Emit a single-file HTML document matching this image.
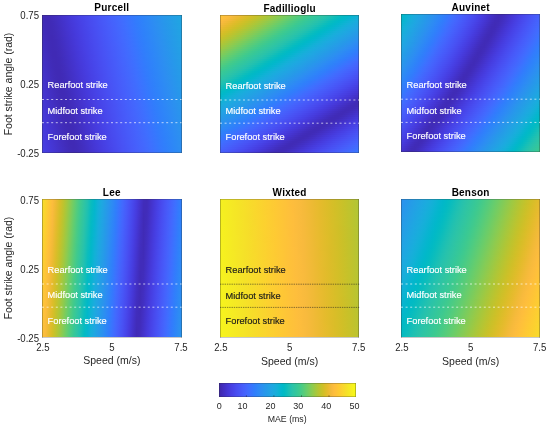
<!DOCTYPE html><html><head><meta charset="utf-8"><title>MAE heatmaps</title><style>
html,body{margin:0;padding:0;background:#fff;}
body{width:550px;height:428px;position:relative;overflow:hidden;font-family:"Liberation Sans",Arial,sans-serif;color:#262626;}
.p{position:absolute;overflow:hidden;}
.p i{display:block;width:100%;}
.b{position:absolute;box-shadow:inset 0 0 0 0.6px rgba(40,40,40,0.5);}
.t{position:absolute;font-weight:bold;font-size:10px;letter-spacing:0.22px;line-height:12px;color:#000;text-align:center;white-space:nowrap;}
.k{position:absolute;font-size:9.6px;line-height:10px;white-space:nowrap;color:#262626;transform:scaleY(1.05);}
.r{text-align:right;width:40px;}
.c{text-align:center;width:30px;}
.l{position:absolute;font-size:9.25px;line-height:10px;white-space:nowrap;color:#fff;-webkit-text-stroke:0.15px #fff;transform:scaleY(1.06);}
.lb{color:#1a1a1a;-webkit-text-stroke:0.15px #1a1a1a;}
.ax{position:absolute;font-size:10.5px;line-height:12px;white-space:nowrap;color:#262626;text-align:center;}
svg{position:absolute;left:0;top:0;}
</style></head><body>
<div class="p" style="left:42.0px;top:14.5px;width:139.5px;height:138.5px"><i style="margin-bottom:-0.5px;height:2.507px;background:linear-gradient(90deg,#402bb8,#402ab5,#402bb6,#412cba,#422ec0,#4331c6,#4433cc,#4536d3,#4539d9,#463cde,#473fe2,#4743e7,#4746ea,#484aed,#484df0,#4851f3,#4854f5,#4758f8,#475bf9,#465ffb,#4562fc,#4466fd,#426afe,#3f6efe,#3c71ff,#3875fe,#3479fd,#317dfc,#2f81fa,#2e84f8,#2d88f6,#2d8bf4,#2c8ef1,#2b92ef,#2995ec,#2798ea,#259be8,#249ee6,#23a1e4,#21a4e3,#1ea7e1)"></i><i style="margin-bottom:-0.5px;height:2.507px;background:linear-gradient(90deg,#402bb8,#402ab5,#402ab5,#412cb9,#422ebf,#4330c5,#4433cc,#4535d2,#4538d8,#463bdd,#473fe2,#4742e6,#4746ea,#4849ed,#484df0,#4850f3,#4854f5,#4757f7,#475bf9,#465efb,#4562fc,#4466fd,#4269fe,#406dfe,#3c71ff,#3975fe,#3579fd,#317dfc,#2f80fa,#2e84f9,#2e87f7,#2d8bf4,#2c8ef1,#2b91ef,#2994ed,#2798ea,#269be8,#249ee6,#23a0e5,#21a3e3,#1fa6e1)"></i><i style="margin-bottom:-0.5px;height:2.507px;background:linear-gradient(90deg,#412cb9,#402ab5,#402ab5,#412cb9,#422ebe,#4230c4,#4433cb,#4435d1,#4538d7,#463bdd,#473ee1,#4742e6,#4745e9,#4849ed,#484cf0,#4850f2,#4853f5,#4757f7,#475af9,#465efb,#4562fc,#4465fd,#4269fe,#406dfe,#3d70ff,#3974fe,#3578fd,#327cfc,#3080fa,#2e83f9,#2e87f7,#2d8af4,#2c8ef2,#2b91ef,#2994ed,#2797eb,#269ae8,#249de6,#23a0e5,#21a3e3,#1fa6e2)"></i><i style="margin-bottom:-0.5px;height:2.507px;background:linear-gradient(90deg,#412cb9,#402ab5,#402ab5,#402cb8,#412ebd,#4230c4,#4332ca,#4435d0,#4538d7,#463bdc,#463ee1,#4741e5,#4745e9,#4848ec,#484cef,#484ff2,#4853f5,#4757f7,#475af9,#465efb,#4561fc,#4465fd,#4368fe,#406cfe,#3d70ff,#3a74fe,#3678fd,#327cfc,#307ffb,#2e83f9,#2e86f7,#2d8af5,#2d8df2,#2b90ef,#2994ed,#2797eb,#269ae9,#259de7,#23a0e5,#21a3e3,#1fa6e2)"></i><i style="margin-bottom:-0.5px;height:2.507px;background:linear-gradient(90deg,#412cba,#402bb6,#402ab5,#402bb8,#412dbd,#4230c3,#4332c9,#4434d0,#4537d6,#463adb,#463de0,#4741e5,#4744e9,#4848ec,#484cef,#484ff2,#4853f4,#4756f7,#475af9,#465dfa,#4661fc,#4464fd,#4368fe,#416cfe,#3e70ff,#3a74fe,#3677fe,#327bfc,#307ffb,#2f83f9,#2e86f7,#2d89f5,#2d8df2,#2c90f0,#2a93ed,#2796eb,#2699e9,#259ce7,#239fe5,#21a2e4,#1fa5e2)"></i><i style="margin-bottom:-0.5px;height:2.507px;background:linear-gradient(90deg,#412cba,#402bb6,#402ab5,#402bb7,#412dbc,#422fc2,#4332c9,#4434cf,#4537d5,#463adb,#463de0,#4740e4,#4744e8,#4848ec,#484bef,#484ff2,#4852f4,#4756f6,#4759f8,#475dfa,#4660fc,#4564fd,#4368fd,#416bfe,#3e6fff,#3a73fe,#3777fe,#337bfc,#307ffb,#2f82f9,#2e86f8,#2d89f5,#2d8cf3,#2c90f0,#2a93ee,#2896eb,#2699e9,#259ce7,#249fe5,#22a2e4,#20a5e2)"></i><i style="margin-bottom:-0.5px;height:2.507px;background:linear-gradient(90deg,#412dbb,#402bb6,#402ab5,#402bb7,#412dbb,#422fc1,#4331c8,#4434ce,#4536d5,#4639da,#463ddf,#4740e4,#4744e8,#4747eb,#484bee,#484ef1,#4852f4,#4755f6,#4759f8,#475cfa,#4660fb,#4563fd,#4367fd,#416bfe,#3f6fff,#3b73fe,#3777fe,#337afd,#317efb,#2f82fa,#2e85f8,#2d89f6,#2d8cf3,#2c8ff0,#2a93ee,#2896ec,#2699e9,#259ce7,#249fe6,#22a2e4,#20a5e3)"></i><i style="margin-bottom:-0.5px;height:2.507px;background:linear-gradient(90deg,#412dbc,#402bb7,#402ab5,#402bb6,#412dbb,#422fc1,#4331c7,#4434ce,#4536d4,#4639da,#463cdf,#4740e3,#4743e7,#4747eb,#484aee,#484ef1,#4851f4,#4755f6,#4758f8,#475cfa,#465ffb,#4563fd,#4367fd,#416afe,#3f6eff,#3b72ff,#3876fe,#347afd,#317efb,#2f81fa,#2e85f8,#2d88f6,#2d8cf3,#2c8ff1,#2a92ee,#2895ec,#2698ea,#259be7,#249ee6,#22a1e4,#20a4e3)"></i><i style="margin-bottom:-0.5px;height:2.507px;background:linear-gradient(90deg,#412dbc,#402bb7,#402ab5,#402bb6,#412cba,#422fc0,#4331c6,#4433cd,#4536d3,#4539d9,#463cde,#473fe3,#4743e7,#4746ea,#484aee,#484df1,#4851f3,#4854f6,#4758f8,#475bfa,#465ffb,#4563fc,#4466fd,#426afe,#3f6efe,#3c72ff,#3876fe,#347afd,#317dfc,#2f81fa,#2e84f8,#2d88f6,#2d8bf4,#2c8ff1,#2b92ee,#2895ec,#2798ea,#259be8,#249ee6,#22a1e4,#20a4e3)"></i><i style="margin-bottom:-0.5px;height:2.507px;background:linear-gradient(90deg,#412dbd,#402bb8,#402ab5,#402bb6,#412cba,#422ebf,#4331c6,#4433cc,#4536d2,#4538d8,#463bde,#473fe2,#4742e6,#4746ea,#4849ed,#484df0,#4851f3,#4854f5,#4758f8,#475bf9,#465ffb,#4562fc,#4466fd,#426afe,#3f6dfe,#3c71ff,#3875fe,#3579fd,#317dfc,#2f81fa,#2e84f8,#2d87f6,#2d8bf4,#2c8ef1,#2b91ef,#2995ec,#2798ea,#259be8,#249ee6,#23a1e4,#21a4e3)"></i><i style="margin-bottom:-0.5px;height:2.507px;background:linear-gradient(90deg,#412ebe,#412cb8,#402ab5,#402ab5,#412cb9,#422ebf,#4330c5,#4433cb,#4435d2,#4538d8,#463bdd,#473ee2,#4742e6,#4745ea,#4849ed,#484df0,#4850f3,#4854f5,#4757f7,#475bf9,#465efb,#4562fc,#4465fd,#4269fe,#406dfe,#3d71ff,#3975fe,#3579fd,#327cfc,#2f80fa,#2e84f9,#2e87f7,#2d8af4,#2c8ef2,#2b91ef,#2994ed,#2797ea,#269ae8,#249de6,#23a0e5,#21a3e3)"></i><i style="margin-bottom:-0.5px;height:2.507px;background:linear-gradient(90deg,#422ebe,#412cb9,#402ab5,#402ab5,#412cb9,#412ebe,#4230c4,#4332cb,#4435d1,#4538d7,#463bdc,#473ee1,#4742e6,#4745e9,#4849ed,#484cf0,#4850f2,#4853f5,#4757f7,#475af9,#465efb,#4561fc,#4465fd,#4369fe,#406dfe,#3d70ff,#3974fe,#3578fd,#327cfc,#3080fb,#2e83f9,#2e87f7,#2d8af4,#2d8df2,#2b91ef,#2994ed,#2797eb,#269ae8,#249de7,#23a0e5,#21a3e3)"></i><i style="margin-bottom:-0.5px;height:2.507px;background:linear-gradient(90deg,#422ebf,#412cb9,#402ab5,#402ab5,#402bb8,#412dbd,#4230c3,#4332ca,#4435d0,#4537d6,#463adc,#463ee1,#4741e5,#4745e9,#4848ec,#484cef,#484ff2,#4853f5,#4756f7,#475af9,#465dfb,#4561fc,#4465fd,#4368fe,#406cfe,#3e70ff,#3a74fe,#3678fe,#327cfc,#307ffb,#2e83f9,#2e86f7,#2d8af5,#2d8df2,#2b90f0,#2993ed,#2797eb,#269ae9,#259de7,#23a0e5,#21a3e4)"></i><i style="margin-bottom:-0.5px;height:2.507px;background:linear-gradient(90deg,#422ec0,#412cba,#402bb6,#402ab5,#402bb7,#412dbd,#422fc3,#4332c9,#4434cf,#4537d6,#463adb,#463de0,#4741e5,#4744e8,#4848ec,#484bef,#484ff2,#4852f4,#4756f7,#4759f9,#465dfa,#4661fc,#4464fd,#4368fe,#416cfe,#3e6fff,#3a73fe,#3677fe,#327bfc,#307ffb,#2f82f9,#2e86f7,#2d89f5,#2d8df2,#2c90f0,#2a93ed,#2796eb,#2699e9,#259ce7,#239fe5,#22a2e4)"></i><i style="margin-bottom:-0.5px;height:2.507px;background:linear-gradient(90deg,#422fc0,#412cbb,#402bb6,#402ab5,#402bb7,#412dbc,#422fc2,#4332c8,#4434cf,#4537d5,#463adb,#463de0,#4740e4,#4744e8,#4747ec,#484bef,#484ef1,#4852f4,#4756f6,#4759f8,#475dfa,#4660fc,#4564fd,#4367fd,#416bfe,#3e6fff,#3b73fe,#3777fe,#337bfd,#307efb,#2f82fa,#2e85f8,#2d89f5,#2d8cf3,#2c90f0,#2a93ee,#2896eb,#2699e9,#259ce7,#249fe5,#22a2e4)"></i><i style="margin-bottom:-0.5px;height:2.507px;background:linear-gradient(90deg,#422fc1,#412dbb,#402bb7,#402ab5,#402bb7,#412dbb,#422fc1,#4331c8,#4434ce,#4536d4,#4639da,#463ddf,#4740e4,#4743e8,#4747eb,#484bee,#484ef1,#4852f4,#4755f6,#4759f8,#475cfa,#4660fb,#4563fd,#4367fd,#416bfe,#3f6fff,#3b72fe,#3776fe,#337afd,#317efb,#2f82fa,#2e85f8,#2d88f6,#2d8cf3,#2c8ff0,#2a92ee,#2896ec,#2699e9,#259ce7,#249fe6,#22a2e4)"></i><i style="margin-bottom:-0.5px;height:2.507px;background:linear-gradient(90deg,#422fc2,#412dbc,#402bb7,#402ab5,#402bb6,#412cbb,#422fc0,#4331c7,#4433cd,#4536d4,#4639d9,#463cdf,#4740e3,#4743e7,#4747eb,#484aee,#484ef1,#4851f3,#4755f6,#4758f8,#475cfa,#465ffb,#4563fc,#4367fd,#426afe,#3f6eff,#3c72ff,#3876fe,#347afd,#317efb,#2f81fa,#2e85f8,#2d88f6,#2d8bf3,#2c8ff1,#2b92ee,#2895ec,#2798ea,#259be8,#249ee6,#22a1e4)"></i><i style="margin-bottom:-0.5px;height:2.507px;background:linear-gradient(90deg,#422fc3,#412dbd,#402bb7,#402ab5,#402bb6,#412cba,#422ec0,#4331c6,#4433cd,#4536d3,#4539d9,#463cde,#473fe3,#4743e7,#4746ea,#484aee,#484df1,#4851f3,#4854f6,#4758f8,#475bfa,#465ffb,#4562fc,#4466fd,#426afe,#3f6efe,#3c72ff,#3875fe,#3479fd,#317dfc,#2f81fa,#2e84f8,#2d88f6,#2d8bf4,#2c8ef1,#2b92ef,#2995ec,#2798ea,#259be8,#249ee6,#23a1e4)"></i><i style="margin-bottom:-0.5px;height:2.507px;background:linear-gradient(90deg,#4230c3,#412dbd,#402bb8,#402ab5,#402ab5,#412cb9,#422ebf,#4330c5,#4433cc,#4535d2,#4538d8,#463bdd,#473fe2,#4742e6,#4746ea,#4849ed,#484df0,#4850f3,#4854f5,#4757f7,#475bf9,#465efb,#4562fc,#4466fd,#4269fe,#406dfe,#3c71ff,#3975fe,#3579fd,#317dfc,#2f80fa,#2e84f9,#2d87f7,#2d8bf4,#2c8ef1,#2b91ef,#2994ed,#2798ea,#269be8,#249ee6,#23a1e5)"></i><i style="margin-bottom:-0.5px;height:2.507px;background:linear-gradient(90deg,#4230c4,#412ebe,#412cb8,#402ab5,#402ab5,#412cb9,#422ebe,#4330c5,#4433cb,#4435d1,#4538d7,#463bdd,#473ee1,#4742e6,#4745e9,#4849ed,#484cf0,#4850f3,#4854f5,#4757f7,#475bf9,#465efb,#4562fc,#4465fd,#4269fe,#406dfe,#3d71ff,#3975fe,#3578fd,#327cfc,#3080fa,#2e83f9,#2e87f7,#2d8af4,#2c8ef2,#2b91ef,#2994ed,#2797eb,#269ae8,#249de6,#23a0e5)"></i><i style="margin-bottom:-0.5px;height:2.507px;background:linear-gradient(90deg,#4330c5,#422ebf,#412cb9,#402ab5,#402ab5,#412cb8,#412ebe,#4230c4,#4332ca,#4435d1,#4538d7,#463bdc,#463ee1,#4741e5,#4745e9,#4848ec,#484cf0,#4850f2,#4853f5,#4757f7,#475af9,#465efb,#4561fc,#4465fd,#4369fe,#406cfe,#3d70ff,#3a74fe,#3678fd,#327cfc,#3080fb,#2e83f9,#2e87f7,#2d8af5,#2d8df2,#2b91ef,#2994ed,#2797eb,#269ae9,#259de7,#23a0e5)"></i><i style="margin-bottom:-0.5px;height:2.507px;background:linear-gradient(90deg,#4331c6,#422ebf,#412cba,#402ab6,#402ab5,#402bb8,#412dbd,#4230c3,#4332ca,#4435d0,#4537d6,#463adc,#463ee0,#4741e5,#4745e9,#4848ec,#484cef,#484ff2,#4853f5,#4756f7,#475af9,#465dfa,#4561fc,#4464fd,#4368fe,#406cfe,#3e70ff,#3a74fe,#3678fe,#327bfc,#307ffb,#2e83f9,#2e86f7,#2d89f5,#2d8df2,#2c90f0,#2a93ed,#2797eb,#269ae9,#259de7,#23a0e5)"></i><i style="margin-bottom:-0.5px;height:2.507px;background:linear-gradient(90deg,#4331c6,#422fc0,#412cba,#402bb6,#402ab5,#402bb7,#412dbc,#422fc2,#4332c9,#4434cf,#4537d6,#463adb,#463de0,#4741e4,#4744e8,#4848ec,#484bef,#484ff2,#4852f4,#4756f6,#4759f8,#465dfa,#4660fc,#4464fd,#4368fd,#416bfe,#3e6fff,#3a73fe,#3777fe,#337bfc,#307ffb,#2f82f9,#2e86f8,#2d89f5,#2d8cf3,#2c90f0,#2a93ee,#2896eb,#2699e9,#259ce7,#249fe5)"></i><i style="margin-bottom:-0.5px;height:2.507px;background:linear-gradient(90deg,#4331c7,#422fc1,#412dbb,#402bb6,#402ab5,#402bb7,#412dbc,#422fc2,#4331c8,#4434ce,#4537d5,#463ada,#463ddf,#4740e4,#4744e8,#4747eb,#484bee,#484ef1,#4852f4,#4755f6,#4759f8,#475cfa,#4660fb,#4564fd,#4367fd,#416bfe,#3e6fff,#3b73fe,#3777fe,#337bfd,#317efb,#2f82fa,#2e85f8,#2d89f5,#2d8cf3,#2c8ff0,#2a93ee,#2896ec,#2699e9,#259ce7,#249fe5)"></i><i style="margin-bottom:-0.5px;height:2.507px;background:linear-gradient(90deg,#4331c8,#422fc1,#412dbb,#402bb7,#402ab5,#402bb6,#412dbb,#422fc1,#4331c7,#4434ce,#4536d4,#4639da,#463cdf,#4740e3,#4743e7,#4747eb,#484aee,#484ef1,#4851f4,#4755f6,#4758f8,#475cfa,#4660fb,#4563fd,#4367fd,#416bfe,#3f6eff,#3b72ff,#3776fe,#347afd,#317efb,#2f81fa,#2e85f8,#2d88f6,#2d8cf3,#2c8ff1,#2a92ee,#2895ec,#2699ea,#259ce7,#249fe6)"></i><i style="margin-bottom:-0.5px;height:2.507px;background:linear-gradient(90deg,#4332c9,#422fc2,#412dbc,#402bb7,#402ab5,#402bb6,#412cba,#422fc0,#4331c7,#4433cd,#4536d3,#4539d9,#463cde,#473fe3,#4743e7,#4746eb,#484aee,#484ef1,#4851f3,#4755f6,#4758f8,#475cfa,#465ffb,#4563fc,#4366fd,#426afe,#3f6eff,#3c72ff,#3876fe,#347afd,#317dfb,#2f81fa,#2e85f8,#2d88f6,#2d8bf3,#2c8ff1,#2b92ee,#2895ec,#2798ea,#259be8,#249ee6)"></i><i style="margin-bottom:-0.5px;height:2.507px;background:linear-gradient(90deg,#4332c9,#4230c3,#412dbd,#402bb8,#402ab5,#402bb6,#412cba,#422ebf,#4331c6,#4433cc,#4536d3,#4539d8,#463cde,#473fe2,#4742e7,#4746ea,#484aed,#484df0,#4851f3,#4854f5,#4758f8,#475bf9,#465ffb,#4562fc,#4466fd,#426afe,#3f6dfe,#3c71ff,#3875fe,#3479fd,#317dfc,#2f81fa,#2e84f8,#2d88f6,#2d8bf4,#2c8ef1,#2b91ef,#2995ec,#2798ea,#259be8,#249ee6)"></i><i style="margin-bottom:-0.5px;height:2.507px;background:linear-gradient(90deg,#4332ca,#4230c4,#412ebd,#402cb8,#402ab5,#402ab5,#412cb9,#422ebf,#4330c5,#4433cc,#4535d2,#4538d8,#463bdd,#473fe2,#4742e6,#4746ea,#4849ed,#484df0,#4850f3,#4854f5,#4757f7,#475bf9,#465efb,#4562fc,#4466fd,#4269fe,#406dfe,#3d71ff,#3975fe,#3579fd,#327dfc,#2f80fa,#2e84f9,#2e87f7,#2d8bf4,#2c8ef1,#2b91ef,#2994ed,#2797ea,#269ae8,#249de6)"></i><i style="margin-bottom:-0.5px;height:2.507px;background:linear-gradient(90deg,#4432cb,#4230c4,#412ebe,#412cb9,#402ab5,#402ab5,#412cb9,#412ebe,#4230c4,#4432cb,#4435d1,#4538d7,#463bdd,#473ee1,#4742e6,#4745e9,#4849ed,#484cf0,#4850f2,#4853f5,#4757f7,#475af9,#465efb,#4562fc,#4465fd,#4269fe,#406dfe,#3d70ff,#3974fe,#3578fd,#327cfc,#3080fb,#2e83f9,#2e87f7,#2d8af4,#2d8df2,#2b91ef,#2994ed,#2797eb,#269ae8,#249de6)"></i><i style="margin-bottom:-0.5px;height:2.507px;background:linear-gradient(90deg,#4433cc,#4330c5,#422ebf,#412cb9,#402ab5,#402ab5,#402bb8,#412ebd,#4230c4,#4332ca,#4435d0,#4537d7,#463bdc,#463ee1,#4741e5,#4745e9,#4848ec,#484cef,#484ff2,#4853f5,#4756f7,#475af9,#465dfb,#4561fc,#4465fd,#4368fe,#406cfe,#3d70ff,#3a74fe,#3678fe,#327cfc,#307ffb,#2e83f9,#2e86f7,#2d8af5,#2d8df2,#2b90ef,#2994ed,#2797eb,#269ae9,#259de7)"></i><i style="margin-bottom:-0.5px;height:2.507px;background:linear-gradient(90deg,#4433cc,#4331c6,#422ebf,#412cba,#402bb6,#402ab5,#402bb8,#412dbd,#4230c3,#4332c9,#4434d0,#4537d6,#463adb,#463de0,#4741e5,#4744e8,#4848ec,#484bef,#484ff2,#4853f4,#4756f7,#475af9,#465dfa,#4661fc,#4464fd,#4368fe,#416cfe,#3e70ff,#3a73fe,#3677fe,#327bfc,#307ffb,#2f83f9,#2e86f7,#2d89f5,#2d8df2,#2c90f0,#2a93ed,#2796eb,#2699e9,#259ce7)"></i><i style="margin-bottom:-0.5px;height:2.507px;background:linear-gradient(90deg,#4433cd,#4331c7,#422fc0,#412cba,#402bb6,#402ab5,#402bb7,#412dbc,#422fc2,#4332c9,#4434cf,#4537d5,#463adb,#463de0,#4740e4,#4744e8,#4847ec,#484bef,#484ff2,#4852f4,#4756f6,#4759f8,#475dfa,#4660fc,#4564fd,#4368fd,#416bfe,#3e6fff,#3b73fe,#3777fe,#337bfd,#307ffb,#2f82f9,#2e86f8,#2d89f5,#2d8cf3,#2c90f0,#2a93ee,#2896eb,#2699e9,#259ce7)"></i><i style="margin-bottom:-0.5px;height:2.507px;background:linear-gradient(90deg,#4434ce,#4331c7,#422fc1,#412dbb,#402bb6,#402ab5,#402bb7,#412dbb,#422fc1,#4331c8,#4434ce,#4536d5,#4639da,#463ddf,#4740e4,#4744e8,#4747eb,#484bee,#484ef1,#4852f4,#4755f6,#4759f8,#475cfa,#4660fb,#4563fd,#4367fd,#416bfe,#3f6fff,#3b73fe,#3776fe,#337afd,#317efb,#2f82fa,#2e85f8,#2d89f6,#2d8cf3,#2c8ff0,#2a92ee,#2896ec,#2699e9,#259ce7)"></i><i style="margin-bottom:-0.5px;height:2.507px;background:linear-gradient(90deg,#4434cf,#4331c8,#422fc2,#412dbc,#402bb7,#402ab5,#402bb6,#412dbb,#422fc1,#4331c7,#4434cd,#4536d4,#4639d9,#463cdf,#4740e3,#4743e7,#4747eb,#484aee,#484ef1,#4851f4,#4755f6,#4758f8,#475cfa,#465ffb,#4563fd,#4367fd,#416afe,#3f6eff,#3b72ff,#3876fe,#347afd,#317efb,#2f81fa,#2e85f8,#2d88f6,#2d8cf3,#2c8ff1,#2b92ee,#2895ec,#2698ea,#259be7)"></i><i style="margin-bottom:-0.5px;height:2.507px;background:linear-gradient(90deg,#4434cf,#4332c9,#422fc2,#412dbc,#402bb7,#402ab5,#402bb6,#412cba,#422ec0,#4331c6,#4433cd,#4536d3,#4539d9,#463cde,#473fe3,#4743e7,#4746ea,#484aee,#484df1,#4851f3,#4854f6,#4758f8,#475bfa,#465ffb,#4563fc,#4466fd,#426afe,#3f6efe,#3c72ff,#3876fe,#3479fd,#317dfc,#2f81fa,#2e84f8,#2d88f6,#2d8bf4,#2c8ef1,#2b92ee,#2895ec,#2798ea,#259be8)"></i><i style="margin-bottom:-0.5px;height:2.507px;background:linear-gradient(90deg,#4435d0,#4332ca,#4230c3,#412dbd,#402bb8,#402ab5,#402ab6,#412cba,#422ebf,#4331c5,#4433cc,#4536d2,#4538d8,#463bde,#473fe2,#4742e6,#4746ea,#4849ed,#484df0,#4851f3,#4854f5,#4758f8,#475bf9,#465ffb,#4562fc,#4466fd,#426afe,#3f6dfe,#3c71ff,#3975fe,#3579fd,#317dfc,#2f80fa,#2e84f8,#2d87f6,#2d8bf4,#2c8ef1,#2b91ef,#2995ec,#2798ea,#259be8)"></i><i style="margin-bottom:-0.5px;height:2.507px;background:linear-gradient(90deg,#4435d1,#4332ca,#4230c4,#412ebe,#412cb8,#402ab5,#402ab5,#412cb9,#422ebe,#4330c5,#4433cb,#4435d2,#4538d8,#463bdd,#473ee2,#4742e6,#4745ea,#4849ed,#484df0,#4850f3,#4854f5,#4757f7,#475bf9,#465efb,#4562fc,#4465fd,#4269fe,#406dfe,#3d71ff,#3975fe,#3579fd,#327cfc,#3080fa,#2e84f9,#2e87f7,#2d8af4,#2c8ef2,#2b91ef,#2994ed,#2797ea,#269ae8)"></i><i style="margin-bottom:-0.5px;height:2.507px;background:linear-gradient(90deg,#4435d1,#4433cb,#4330c5,#422ebe,#412cb9,#402ab5,#402ab5,#412cb8,#412ebe,#4230c4,#4332cb,#4435d1,#4538d7,#463bdc,#463ee1,#4741e6,#4745e9,#4849ed,#484cf0,#4850f2,#4853f5,#4757f7,#475af9,#465efb,#4561fc,#4465fd,#4369fe,#406cfe,#3d70ff,#3974fe,#3678fd,#327cfc,#3080fb,#2e83f9,#2e87f7,#2d8af4,#2d8df2,#2b91ef,#2994ed,#2797eb,#269ae8)"></i><i style="margin-bottom:-0.5px;height:2.507px;background:linear-gradient(90deg,#4535d2,#4433cc,#4330c5,#422ebf,#412cb9,#402ab5,#402ab5,#402bb8,#412dbd,#4230c3,#4332ca,#4435d0,#4537d6,#463adc,#463ee1,#4741e5,#4745e9,#4848ec,#484cef,#484ff2,#4853f5,#4756f7,#475af9,#465dfb,#4561fc,#4465fd,#4368fe,#406cfe,#3e70ff,#3a74fe,#3678fe,#327cfc,#307ffb,#2e83f9,#2e86f7,#2d8af5,#2d8df2,#2b90f0,#2a93ed,#2797eb,#269ae9)"></i><i style="margin-bottom:-0.5px;height:2.507px;background:linear-gradient(90deg,#4536d3,#4433cd,#4331c6,#422ec0,#412cba,#402bb6,#402ab5,#402bb7,#412dbc,#422fc3,#4332c9,#4434cf,#4537d6,#463adb,#463de0,#4741e5,#4744e8,#4848ec,#484bef,#484ff2,#4852f4,#4756f7,#4759f9,#465dfa,#4661fc,#4464fd,#4368fe,#416cfe,#3e6fff,#3a73fe,#3677fe,#337bfc,#307ffb,#2f82f9,#2e86f7,#2d89f5,#2d8df2,#2c90f0,#2a93ed,#2796eb,#2699e9)"></i><i style="margin-bottom:-0.5px;height:2.507px;background:linear-gradient(90deg,#4536d4,#4433cd,#4331c7,#422fc0,#412cbb,#402bb6,#402ab5,#402bb7,#412dbc,#422fc2,#4332c8,#4434cf,#4537d5,#463ada,#463de0,#4740e4,#4744e8,#4747eb,#484bef,#484ef1,#4852f4,#4755f6,#4759f8,#475dfa,#4660fc,#4564fd,#4367fd,#416bfe,#3e6fff,#3b73fe,#3777fe,#337bfd,#307efb,#2f82fa,#2e85f8,#2d89f5,#2d8cf3,#2c8ff0,#2a93ee,#2896eb,#2699e9)"></i><i style="margin-bottom:-0.5px;height:2.507px;background:linear-gradient(90deg,#4536d4,#4434ce,#4331c8,#422fc1,#412dbb,#402bb7,#402ab5,#402bb6,#412dbb,#422fc1,#4331c7,#4434ce,#4536d4,#4639da,#463cdf,#4740e3,#4743e7,#4747eb,#484aee,#484ef1,#4852f4,#4755f6,#4759f8,#475cfa,#4660fb,#4563fd,#4367fd,#416bfe,#3f6eff,#3b72fe,#3776fe,#337afd,#317efb,#2f82fa,#2e85f8,#2d88f6,#2d8cf3,#2c8ff1,#2a92ee,#2896ec,#2699ea)"></i><i style="margin-bottom:-0.5px;height:2.507px;background:linear-gradient(90deg,#4537d5,#4434cf,#4332c8,#422fc2,#412dbc,#402bb7,#402ab5,#402bb6,#412cbb,#422fc0,#4331c7,#4433cd,#4536d4,#4639d9,#463cdf,#473fe3,#4743e7,#4747eb,#484aee,#484ef1,#4851f3,#4755f6,#4758f8,#475cfa,#465ffb,#4563fc,#4367fd,#426afe,#3f6eff,#3c72ff,#3876fe,#347afd,#317efb,#2f81fa,#2e85f8,#2d88f6,#2d8bf3,#2c8ff1,#2b92ee,#2895ec,#2798ea)"></i><i style="margin-bottom:-0.5px;height:2.507px;background:linear-gradient(90deg,#4537d6,#4434d0,#4332c9,#422fc3,#412dbd,#402bb8,#402ab5,#402bb6,#412cba,#422ec0,#4331c6,#4433cc,#4536d3,#4539d9,#463cde,#473fe2,#4743e7,#4746ea,#484aed,#484df0,#4851f3,#4854f6,#4758f8,#475bfa,#465ffb,#4562fc,#4466fd,#426afe,#3f6efe,#3c71ff,#3875fe,#3479fd,#317dfc,#2f81fa,#2e84f8,#2d88f6,#2d8bf4,#2c8ef1,#2b92ef,#2995ec,#2798ea)"></i><i style="margin-bottom:-0.5px;height:2.507px;background:linear-gradient(90deg,#4537d6,#4435d0,#4332ca,#4230c3,#412dbd,#402bb8,#402ab5,#402ab5,#412cb9,#422ebf,#4330c5,#4433cc,#4535d2,#4538d8,#463bdd,#473fe2,#4742e6,#4746ea,#4849ed,#484df0,#4850f3,#4854f5,#4757f7,#475bf9,#465efb,#4562fc,#4466fd,#4269fe,#406dfe,#3c71ff,#3975fe,#3579fd,#317dfc,#2f80fa,#2e84f9,#2e87f7,#2d8bf4,#2c8ef1,#2b91ef,#2994ed,#2798ea)"></i><i style="margin-bottom:-0.5px;height:2.507px;background:linear-gradient(90deg,#4538d7,#4435d1,#4332cb,#4230c4,#412ebe,#412cb9,#402ab5,#402ab5,#412cb9,#422ebe,#4330c4,#4433cb,#4435d1,#4538d7,#463bdd,#473ee1,#4742e6,#4745e9,#4849ed,#484cf0,#4850f2,#4853f5,#4757f7,#475af9,#465efb,#4562fc,#4465fd,#4269fe,#406dfe,#3d71ff,#3974fe,#3578fd,#327cfc,#3080fa,#2e83f9,#2e87f7,#2d8af4,#2c8ef2,#2b91ef,#2994ed,#2797eb)"></i><i style="margin-bottom:-0.5px;height:2.507px;background:linear-gradient(90deg,#4538d8,#4435d2,#4433cb,#4330c5,#422ebf,#412cb9,#402ab5,#402ab5,#402cb8,#412ebe,#4230c4,#4332ca,#4435d1,#4538d7,#463bdc,#463ee1,#4741e5,#4745e9,#4848ec,#484cef,#4850f2,#4853f5,#4757f7,#475af9,#465efb,#4561fc,#4465fd,#4369fe,#406cfe,#3d70ff,#3a74fe,#3678fd,#327cfc,#307ffb,#2e83f9,#2e86f7,#2d8af5,#2d8df2,#2b90ef,#2994ed,#2797eb)"></i><i style="margin-bottom:-0.5px;height:2.507px;background:linear-gradient(90deg,#4538d8,#4536d2,#4433cc,#4331c6,#422ebf,#412cba,#402bb6,#402ab5,#402bb8,#412dbd,#4230c3,#4332c9,#4435d0,#4537d6,#463adb,#463de0,#4741e5,#4744e9,#4848ec,#484cef,#484ff2,#4853f4,#4756f7,#475af9,#465dfa,#4561fc,#4464fd,#4368fe,#406cfe,#3e70ff,#3a74fe,#3677fe,#327bfc,#307ffb,#2e83f9,#2e86f7,#2d89f5,#2d8df2,#2c90f0,#2a93ed,#2796eb)"></i><i style="margin-bottom:-0.5px;height:2.507px;background:linear-gradient(90deg,#4539d9,#4536d3,#4433cd,#4331c6,#422fc0,#412cba,#402bb6,#402ab5,#402bb7,#412dbc,#422fc2,#4332c9,#4434cf,#4537d5,#463adb,#463de0,#4741e4,#4744e8,#4848ec,#484bef,#484ff2,#4852f4,#4756f6,#4759f8,#465dfa,#4660fc,#4564fd,#4368fd,#416bfe,#3e6fff,#3a73fe,#3777fe,#337bfc,#307ffb,#2f82f9,#2e86f8,#2d89f5,#2d8cf3,#2c90f0,#2a93ee,#2896eb)"></i><i style="margin-bottom:-0.5px;height:2.507px;background:linear-gradient(90deg,#4639da,#4536d4,#4434ce,#4331c7,#422fc1,#412dbb,#402bb6,#402ab5,#402bb7,#412dbc,#422fc2,#4331c8,#4434ce,#4537d5,#463ada,#463ddf,#4740e4,#4744e8,#4747eb,#484bee,#484ef1,#4852f4,#4755f6,#4759f8,#475cfa,#4660fb,#4564fd,#4367fd,#416bfe,#3e6fff,#3b73fe,#3777fe,#337afd,#317efb,#2f82fa,#2e85f8,#2d89f6,#2d8cf3,#2c8ff0,#2a93ee,#2896ec)"></i><i style="margin-bottom:-0.5px;height:2.507px;background:linear-gradient(90deg,#463ada,#4537d5,#4434ce,#4331c8,#422fc1,#412dbc,#402bb7,#402ab5,#402bb6,#412dbb,#422fc1,#4331c7,#4434ce,#4536d4,#4639da,#463cdf,#4740e3,#4743e7,#4747eb,#484aee,#484ef1,#4851f4,#4755f6,#4758f8,#475cfa,#4660fb,#4563fd,#4367fd,#416bfe,#3f6eff,#3b72ff,#3876fe,#347afd,#317efb,#2f81fa,#2e85f8,#2d88f6,#2d8cf3,#2c8ff1,#2a92ee,#2895ec)"></i><i style="margin-bottom:-0.5px;height:2.507px;background:linear-gradient(90deg,#463adb,#4537d5,#4434cf,#4332c9,#422fc2,#412dbc,#402bb7,#402ab5,#402bb6,#412cba,#422fc0,#4331c6,#4433cd,#4536d3,#4539d9,#463cde,#473fe3,#4743e7,#4746eb,#484aee,#484df1,#4851f3,#4855f6,#4758f8,#475cfa,#465ffb,#4563fc,#4466fd,#426afe,#3f6eff,#3c72ff,#3876fe,#347afd,#317dfc,#2f81fa,#2e84f8,#2d88f6,#2d8bf4,#2c8ff1,#2b92ee,#2895ec)"></i><i style="margin-bottom:-0.5px;height:2.507px;background:linear-gradient(90deg,#463adb,#4537d6,#4435d0,#4332c9,#4230c3,#412dbd,#402bb8,#402ab5,#402bb6,#412cba,#422ebf,#4331c6,#4433cc,#4536d3,#4538d8,#463cde,#473fe2,#4742e6,#4746ea,#4849ed,#484df0,#4851f3,#4854f5,#4758f8,#475bf9,#465ffb,#4562fc,#4466fd,#426afe,#3f6dfe,#3c71ff,#3875fe,#3579fd,#317dfc,#2f81fa,#2e84f8,#2d87f6,#2d8bf4,#2c8ef1,#2b91ef,#2995ec)"></i><i style="margin-bottom:-0.5px;height:2.507px;background:linear-gradient(90deg,#463bdc,#4538d7,#4435d1,#4332ca,#4230c4,#412ebe,#402cb8,#402ab5,#402ab5,#412cb9,#422ebf,#4330c5,#4433cb,#4535d2,#4538d8,#463bdd,#473fe2,#4742e6,#4746ea,#4849ed,#484df0,#4850f3,#4854f5,#4757f7,#475bf9,#465efb,#4562fc,#4466fd,#4269fe,#406dfe,#3d71ff,#3975fe,#3579fd,#327dfc,#2f80fa,#2e84f9,#2e87f7,#2d8af4,#2c8ef2,#2b91ef,#2994ed)"></i><i style="margin-bottom:-0.5px;height:2.507px;background:linear-gradient(90deg,#463bdd,#4538d7,#4435d1,#4433cb,#4330c4,#422ebe,#412cb9,#402ab5,#402ab5,#412cb9,#412ebe,#4230c4,#4332cb,#4435d1,#4538d7,#463bdd,#473ee1,#4742e6,#4745e9,#4849ed,#484cf0,#4850f2,#4853f5,#4757f7,#475af9,#465efb,#4561fc,#4465fd,#4269fe,#406dfe,#3d70ff,#3974fe,#3578fd,#327cfc,#3080fb,#2e83f9,#2e87f7,#2d8af4,#2d8df2,#2b91ef,#2994ed)"></i><i style="margin-bottom:-0.5px;height:2.507px;background:linear-gradient(90deg,#463bdd,#4538d8,#4535d2,#4433cc,#4330c5,#422ebf,#412cb9,#402ab5,#402ab5,#402bb8,#412dbd,#4230c3,#4332ca,#4435d0,#4537d6,#463adc,#463ee1,#4741e5,#4745e9,#4848ec,#484cef,#484ff2,#4853f5,#4756f7,#475af9,#465dfb,#4561fc,#4465fd,#4368fe,#406cfe,#3d70ff,#3a74fe,#3678fe,#327cfc,#307ffb,#2e83f9,#2e86f7,#2d8af5,#2d8df2,#2b90f0,#2994ed)"></i><i style="margin-bottom:-0.5px;height:2.507px;background:linear-gradient(90deg,#463cde,#4539d9,#4536d3,#4433cc,#4331c6,#422ec0,#412cba,#402bb6,#402ab5,#402bb8,#412dbd,#4230c3,#4332c9,#4434d0,#4537d6,#463adb,#463de0,#4741e5,#4744e8,#4848ec,#484bef,#484ff2,#4853f4,#4756f7,#475af9,#465dfa,#4661fc,#4464fd,#4368fe,#416cfe,#3e6fff,#3a73fe,#3677fe,#327bfc,#307ffb,#2f82f9,#2e86f7,#2d89f5,#2d8df2,#2c90f0,#2a93ed)"></i><i style="margin-bottom:-0.5px;height:2.507px;background:linear-gradient(90deg,#463cdf,#4639d9,#4536d4,#4433cd,#4331c7,#422fc0,#412cbb,#402bb6,#402ab5,#402bb7,#412dbc,#422fc2,#4332c8,#4434cf,#4537d5,#463adb,#463de0,#4740e4,#4744e8,#4747ec,#484bef,#484ff1,#4852f4,#4756f6,#4759f8,#475dfa,#4660fc,#4564fd,#4368fd,#416bfe,#3e6fff,#3b73fe,#3777fe,#337bfd,#307efb,#2f82f9,#2e86f8,#2d89f5,#2d8cf3,#2c90f0,#2a93ee)"></i><i style="margin-bottom:-0.5px;height:2.507px;background:linear-gradient(90deg,#463cdf,#4639da,#4536d4,#4434ce,#4331c7,#422fc1,#412dbb,#402bb6,#402ab5,#402bb7,#412dbb,#422fc1,#4331c8,#4434ce,#4536d4,#4639da,#463ddf,#4740e4,#4743e8,#4747eb,#484bee,#484ef1,#4852f4,#4755f6,#4759f8,#475cfa,#4660fb,#4563fd,#4367fd,#416bfe,#3f6fff,#3b72fe,#3776fe,#337afd,#317efb,#2f82fa,#2e85f8,#2d89f6,#2d8cf3,#2c8ff0,#2a92ee)"></i><i style="margin-bottom:-0.5px;height:2.507px;background:linear-gradient(90deg,#463de0,#463ada,#4537d5,#4434cf,#4332c8,#422fc2,#412dbc,#402bb7,#402ab5,#402bb6,#412cbb,#422fc1,#4331c7,#4434cd,#4536d4,#4639d9,#463cdf,#4740e3,#4743e7,#4747eb,#484aee,#484ef1,#4851f3,#4755f6,#4758f8,#475cfa,#465ffb,#4563fd,#4367fd,#416afe,#3f6eff,#3b72ff,#3876fe,#347afd,#317efb,#2f81fa,#2e85f8,#2d88f6,#2d8cf3,#2c8ff1,#2b92ee)"></i><i style="margin-bottom:-0.5px;height:2.507px;background:linear-gradient(90deg,#463de0,#463adb,#4537d6,#4434cf,#4332c9,#422fc2,#412dbc,#402bb7,#402ab5,#402bb6,#412cba,#422ec0,#4331c6,#4433cd,#4536d3,#4539d9,#463cde,#473fe3,#4743e7,#4746ea,#484aee,#484df1,#4851f3,#4854f6,#4758f8,#475bfa,#465ffb,#4563fc,#4466fd,#426afe,#3f6efe,#3c72ff,#3875fe,#3479fd,#317dfc,#2f81fa,#2e84f8,#2d88f6,#2d8bf4,#2c8ef1,#2b92ee)"></i><i style="margin-bottom:-0.5px;height:2.507px;background:linear-gradient(90deg,#463ee1,#463adc,#4537d6,#4435d0,#4332ca,#4230c3,#412dbd,#402bb8,#402ab5,#402ab5,#412cba,#422ebf,#4330c5,#4433cc,#4536d2,#4538d8,#463bde,#473fe2,#4742e6,#4746ea,#4849ed,#484df0,#4850f3,#4854f5,#4757f8,#475bf9,#465ffb,#4562fc,#4466fd,#426afe,#406dfe,#3c71ff,#3975fe,#3579fd,#317dfc,#2f80fa,#2e84f8,#2d87f7,#2d8bf4,#2c8ef1,#2b91ef)"></i><i style="margin-bottom:-0.5px;height:2.507px;background:linear-gradient(90deg,#463ee1,#463bdc,#4538d7,#4435d1,#4332cb,#4230c4,#412ebe,#412cb8,#402ab5,#402ab5,#412cb9,#422ebe,#4330c5,#4433cb,#4435d2,#4538d7,#463bdd,#473ee2,#4742e6,#4745ea,#4849ed,#484cf0,#4850f3,#4854f5,#4757f7,#475bf9,#465efb,#4562fc,#4465fd,#4269fe,#406dfe,#3d71ff,#3975fe,#3578fd,#327cfc,#3080fa,#2e84f9,#2e87f7,#2d8af4,#2c8ef2,#2b91ef)"></i><i style="margin-bottom:-0.5px;height:2.507px;background:linear-gradient(90deg,#473ee2,#463bdd,#4538d8,#4435d2,#4433cb,#4330c5,#422ebe,#412cb9,#402ab5,#402ab5,#412cb8,#412ebe,#4230c4,#4332ca,#4435d1,#4538d7,#463bdc,#463ee1,#4741e5,#4745e9,#4849ec,#484cf0,#4850f2,#4853f5,#4757f7,#475af9,#465efb,#4561fc,#4465fd,#4369fe,#406cfe,#3d70ff,#3974fe,#3678fd,#327cfc,#3080fb,#2e83f9,#2e87f7,#2d8af5,#2d8df2,#2b91ef)"></i><i style="margin-bottom:-0.5px;height:2.507px;background:linear-gradient(90deg,#473fe2,#463bde,#4538d8,#4536d2,#4433cc,#4331c5,#422ebf,#412cba,#402ab5,#402ab5,#402bb8,#412dbd,#4230c3,#4332ca,#4435d0,#4537d6,#463adc,#463ee1,#4741e5,#4745e9,#4848ec,#484cef,#484ff2,#4853f5,#4756f7,#475af9,#465dfb,#4561fc,#4465fd,#4368fe,#406cfe,#3e70ff,#3a74fe,#3678fe,#327cfc,#307ffb,#2e83f9,#2e86f7,#2d8af5,#2d8df2,#2b90f0)"></i><i style="margin-bottom:-0.5px;height:2.507px;background:linear-gradient(90deg,#473fe3,#463cde,#4539d9,#4536d3,#4433cd,#4331c6,#422ec0,#412cba,#402bb6,#402ab5,#402bb7,#412dbc,#422fc2,#4332c9,#4434cf,#4537d6,#463adb,#463de0,#4741e4,#4744e8,#4848ec,#484bef,#484ff2,#4852f4,#4756f6,#4759f9,#465dfa,#4660fc,#4464fd,#4368fe,#416cfe,#3e6fff,#3a73fe,#3677fe,#337bfc,#307ffb,#2f82f9,#2e86f7,#2d89f5,#2d8df3,#2c90f0)"></i><i style="margin-bottom:-0.5px;height:2.507px;background:linear-gradient(90deg,#4740e3,#463cdf,#4639d9,#4536d4,#4434cd,#4331c7,#422fc1,#412dbb,#402bb6,#402ab5,#402bb7,#412dbc,#422fc2,#4331c8,#4434cf,#4537d5,#463ada,#463de0,#4740e4,#4744e8,#4747eb,#484bee,#484ef1,#4852f4,#4755f6,#4759f8,#475cfa,#4660fc,#4564fd,#4367fd,#416bfe,#3e6fff,#3b73fe,#3777fe,#337bfd,#317efb,#2f82fa,#2e85f8,#2d89f5,#2d8cf3,#2c8ff0)"></i><i style="margin-bottom:-0.5px;height:2.507px;background:linear-gradient(90deg,#4740e4,#463ddf,#4639da,#4536d5,#4434ce,#4331c8,#422fc1,#412dbb,#402bb7,#402ab5,#402bb6,#412dbb,#422fc1,#4331c7,#4434ce,#4536d4,#4639da,#463cdf,#4740e3,#4743e7,#4747eb,#484aee,#484ef1,#4852f4,#4755f6,#4759f8,#475cfa,#4660fb,#4563fd,#4367fd,#416bfe,#3f6eff,#3b72fe,#3776fe,#347afd,#317efb,#2f82fa,#2e85f8,#2d88f6,#2d8cf3,#2c8ff1)"></i><i style="margin-bottom:-0.5px;height:2.007px;background:linear-gradient(90deg,#4740e4,#463de0,#463adb,#4537d5,#4434cf,#4332c8,#422fc2,#412dbc,#402bb7,#402ab5,#402bb6,#412cba,#422fc0,#4331c7,#4433cd,#4536d3,#4639d9,#463cde,#473fe3,#4743e7,#4746eb,#484aee,#484ef1,#4851f3,#4755f6,#4758f8,#475cfa,#465ffb,#4563fc,#4366fd,#426afe,#3f6eff,#3c72ff,#3876fe,#347afd,#317dfb,#2f81fa,#2e85f8,#2d88f6,#2d8bf3,#2c8ff1)"></i></div>
<div class="b" style="left:42.0px;top:14.5px;width:139.5px;height:138.5px"></div>
<div class="t" style="left:42.0px;top:2.1px;width:139.5px">Purcell</div>
<div class="l" style="left:47.6px;top:80.3px">Rearfoot strike</div>
<div class="l" style="left:47.6px;top:105.9px">Midfoot strike</div>
<div class="l" style="left:47.6px;top:131.5px">Forefoot strike</div>
<div class="p" style="left:220.0px;top:15.0px;width:139.3px;height:138.3px"><i style="margin-bottom:-0.5px;height:2.504px;background:linear-gradient(90deg,#fec636,#fec239,#febe3c,#fbbc3d,#f6ba3b,#f0ba36,#eabb30,#e3bc2c,#dcbd29,#d4bf28,#ccc028,#c4c22b,#bbc42f,#b2c635,#a9c73b,#9fc941,#95ca49,#8bcb51,#81cc58,#77cc60,#6dcd68,#63cd6f,#5acc77,#51cc7e,#49cb85,#41ca8c,#3bc993,#36c899,#32c69e,#2ec5a4,#2ac3a9,#24c1ae,#1cc0b3,#14beb8,#0bbdbd,#04bbc2,#01b9c6,#02b7cb,#06b5cf,#0db3d3,#13b0d7)"></i><i style="margin-bottom:-0.5px;height:2.504px;background:linear-gradient(90deg,#fec339,#febf3c,#fbbc3d,#f6ba3b,#f0ba36,#eaba31,#e3bb2c,#dcbd29,#d5be28,#cdc028,#c5c22a,#bcc42f,#b3c534,#aac73a,#a0c841,#96ca48,#8ccb50,#82cc58,#78cc5f,#6ecd67,#64cd6f,#5bcc76,#52cc7e,#4acb85,#42ca8b,#3cc992,#36c898,#32c69e,#2fc5a3,#2ac3a9,#25c2ae,#1dc0b3,#15bfb7,#0bbdbc,#05bbc1,#01b9c6,#01b8ca,#06b5cf,#0cb3d3,#12b1d7,#17aeda)"></i><i style="margin-bottom:-0.5px;height:2.504px;background:linear-gradient(90deg,#febf3b,#fbbc3d,#f7ba3c,#f1ba37,#ebba31,#e4bb2c,#ddbd29,#d5be28,#cec028,#c5c22a,#bdc32f,#b4c534,#aac739,#a1c840,#97ca48,#8dcb4f,#83cc57,#79cc5e,#6fcd66,#65cd6e,#5ccc76,#53cc7d,#4acb84,#43ca8b,#3cc991,#37c898,#33c69d,#2fc5a3,#2bc3a8,#25c2ad,#1ec0b2,#16bfb7,#0cbdbc,#06bbc1,#01bac5,#01b8ca,#05b6ce,#0bb3d2,#12b1d6,#17aeda,#1aacdd)"></i><i style="margin-bottom:-0.5px;height:2.504px;background:linear-gradient(90deg,#fcbc3d,#f7ba3c,#f1ba37,#ebba32,#e5bb2c,#debd29,#d6be28,#cec028,#c6c22a,#bdc32e,#b4c533,#abc739,#a2c840,#98c947,#8ecb4f,#84cc56,#7acc5e,#70cd65,#66cd6d,#5dcc75,#54cc7c,#4bcb83,#43ca8a,#3dc991,#37c897,#33c79d,#2fc5a2,#2bc3a8,#26c2ad,#1fc0b2,#17bfb7,#0dbdbb,#06bcc0,#02bac5,#01b8c9,#05b6ce,#0ab4d2,#11b1d6,#16afd9,#1aacdd,#1da9e0)"></i><i style="margin-bottom:-0.5px;height:2.504px;background:linear-gradient(90deg,#f8ba3d,#f2ba38,#ecba32,#e5bb2d,#debc2a,#d7be28,#cfc028,#c7c12a,#bec32e,#b5c533,#acc738,#a3c83f,#99c946,#8fcb4e,#85cb55,#7bcc5d,#70cd65,#67cd6d,#5ecc74,#55cc7c,#4ccb83,#44cb8a,#3dc990,#38c896,#34c79c,#30c5a2,#2cc4a7,#26c2ac,#20c1b1,#18bfb6,#0ebebb,#07bcc0,#02bac4,#01b8c9,#04b6cd,#0ab4d1,#11b2d5,#16afd9,#19acdc,#1ca9df,#1fa6e1)"></i><i style="margin-bottom:-0.5px;height:2.504px;background:linear-gradient(90deg,#f2ba38,#ecba33,#e6bb2d,#dfbc2a,#d7be28,#d0c027,#c8c129,#bfc32d,#b6c532,#adc638,#a3c83e,#9ac946,#90ca4d,#86cb55,#7ccc5c,#71cd64,#68cd6c,#5ecd74,#56cc7b,#4dcc82,#45cb89,#3eca8f,#38c896,#34c79c,#30c5a1,#2cc4a7,#27c2ac,#20c1b1,#19bfb6,#0fbeba,#08bcbf,#02bac4,#01b8c8,#04b6cd,#09b4d1,#10b2d5,#15afd9,#19acdc,#1caadf,#1ea7e1,#21a3e3)"></i><i style="margin-bottom:-0.5px;height:2.504px;background:linear-gradient(90deg,#edba33,#e6bb2d,#dfbc2a,#d8be28,#d0bf27,#c8c129,#c0c32d,#b7c532,#aec637,#a4c83e,#9bc945,#91ca4c,#87cb54,#7ccc5c,#72cd63,#68cd6b,#5fcd73,#56cc7a,#4ecc81,#45cb88,#3eca8f,#39c895,#34c79b,#30c5a1,#2dc4a6,#27c2ab,#21c1b0,#19bfb5,#10beba,#08bcbf,#02bac3,#01b9c8,#03b7cc,#08b4d1,#0fb2d5,#15afd8,#19addc,#1caadf,#1ea7e1,#21a4e3,#23a1e5)"></i><i style="margin-bottom:-0.5px;height:2.504px;background:linear-gradient(90deg,#e7bb2e,#e0bc2a,#d9be28,#d1bf27,#c9c129,#c0c32d,#b8c431,#aec637,#a5c83d,#9bc944,#92ca4c,#88cb53,#7dcc5b,#73cd63,#69cd6a,#60cd72,#57cc7a,#4ecc81,#46cb88,#3fca8e,#39c995,#35c79b,#31c6a0,#2dc4a6,#28c3ab,#22c1b0,#1ac0b5,#11beb9,#09bcbe,#02bbc3,#01b9c7,#03b7cc,#08b5d0,#0eb2d4,#14b0d8,#19addc,#1baade,#1ea7e1,#20a4e3,#23a1e4,#249ee6)"></i><i style="margin-bottom:-0.5px;height:2.504px;background:linear-gradient(90deg,#e0bc2b,#d9bd28,#d2bf27,#cac129,#c1c32c,#b8c431,#afc636,#a6c83d,#9cc944,#92ca4b,#88cb53,#7ecc5a,#74cc62,#6acd6a,#61cd72,#58cc79,#4fcc80,#47cb87,#3fca8e,#3ac994,#35c79a,#31c6a0,#2dc4a5,#28c3aa,#23c1af,#1bc0b4,#12beb9,#09bdbe,#03bbc2,#01b9c7,#03b7cb,#07b5d0,#0eb2d4,#14b0d8,#18addb,#1babde,#1ea8e1,#20a4e3,#22a1e4,#249ee6,#259be8)"></i><i style="margin-bottom:-0.5px;height:2.504px;background:linear-gradient(90deg,#dabd28,#d2bf27,#cac129,#c2c22c,#b9c430,#b0c636,#a7c73c,#9dc943,#93ca4b,#89cb52,#7fcc5a,#75cc61,#6bcd69,#62cd71,#59cc78,#50cc80,#48cb87,#40ca8d,#3ac993,#35c799,#32c69f,#2ec4a5,#29c3aa,#23c1af,#1cc0b4,#13beb9,#0abdbd,#04bbc2,#01b9c7,#02b7cb,#07b5cf,#0db3d3,#13b0d7,#18aedb,#1babde,#1da8e0,#20a5e2,#22a2e4,#249ee6,#259be8,#2798ea)"></i><i style="margin-bottom:-0.5px;height:2.504px;background:linear-gradient(90deg,#d3bf27,#cbc129,#c2c22b,#bac430,#b1c636,#a7c73c,#9ec942,#94ca4a,#8acb52,#80cc59,#76cc61,#6ccd68,#62cd70,#5acc78,#51cc7f,#48cb86,#41ca8d,#3bc993,#36c799,#32c69f,#2ec4a4,#29c3a9,#24c1ae,#1cc0b3,#14beb8,#0bbdbd,#04bbc2,#01b9c6,#02b7cb,#06b5cf,#0cb3d3,#13b1d7,#17aedb,#1babde,#1da8e0,#20a5e2,#22a2e4,#249fe6,#259be7,#2798ea,#2995ec)"></i><i style="margin-bottom:-0.5px;height:2.504px;background:linear-gradient(90deg,#cbc029,#c3c22b,#bac430,#b1c635,#a8c73b,#9fc942,#95ca49,#8bcb51,#81cc59,#77cc60,#6dcd68,#63cd70,#5acc77,#51cc7e,#49cb85,#41ca8c,#3bc992,#36c898,#32c69e,#2ec5a4,#2ac3a9,#25c2ae,#1dc0b3,#15bfb8,#0bbdbc,#05bbc1,#01b9c6,#01b8ca,#06b5ce,#0cb3d3,#12b1d7,#17aeda,#1aabdd,#1da8e0,#1fa5e2,#22a2e4,#249fe5,#259ce7,#2698ea,#2895ec,#2b92ef)"></i><i style="margin-bottom:-0.5px;height:2.504px;background:linear-gradient(90deg,#c4c22b,#bbc42f,#b2c535,#a9c73b,#9fc941,#96ca49,#8ccb50,#82cc58,#77cc5f,#6dcd67,#64cd6f,#5bcc77,#52cc7e,#4acb85,#42ca8b,#3cc992,#36c898,#33c69e,#2fc5a3,#2ac3a8,#25c2ad,#1ec0b2,#15bfb7,#0cbdbc,#05bbc1,#01bac5,#01b8ca,#05b6ce,#0bb3d2,#12b1d6,#16aeda,#1aacdd,#1da9e0,#1fa6e2,#21a2e4,#249fe5,#259ce7,#2699e9,#2895ec,#2b92ee,#2c8ef1)"></i><i style="margin-bottom:-0.5px;height:2.504px;background:linear-gradient(90deg,#bcc42f,#b3c534,#aac73a,#a0c841,#96ca48,#8ccb50,#82cc57,#78cc5f,#6ecd66,#65cd6e,#5ccc76,#53cc7d,#4acb84,#43ca8b,#3cc991,#37c897,#33c69d,#2fc5a3,#2bc3a8,#25c2ad,#1ec0b2,#16bfb7,#0dbdbc,#06bcc0,#02bac5,#01b8c9,#05b6ce,#0ab4d2,#11b1d6,#16afd9,#1aacdd,#1da9e0,#1fa6e2,#21a3e3,#23a0e5,#259ce7,#2699e9,#2896ec,#2a92ee,#2c8ff1,#2d8bf4)"></i><i style="margin-bottom:-0.5px;height:2.504px;background:linear-gradient(90deg,#b3c534,#aac73a,#a1c840,#97ca48,#8dcb4f,#83cc57,#79cc5e,#6fcd66,#65cd6e,#5ccc75,#54cc7d,#4bcb84,#43ca8a,#3dc991,#37c897,#33c79d,#2fc5a2,#2bc3a8,#26c2ad,#1fc0b1,#17bfb6,#0ebdbb,#07bcc0,#02bac4,#01b8c9,#05b6cd,#0ab4d1,#11b1d6,#16afd9,#19acdc,#1ca9df,#1fa6e1,#21a3e3,#23a0e5,#259de7,#2699e9,#2896eb,#2a93ee,#2c8ff1,#2d8bf3,#2d88f6)"></i><i style="margin-bottom:-0.5px;height:2.504px;background:linear-gradient(90deg,#abc739,#a1c840,#98ca47,#8ecb4f,#84cc56,#7acc5e,#70cd65,#66cd6d,#5dcc75,#54cc7c,#4ccb83,#44cb8a,#3dc990,#38c896,#34c79c,#30c5a2,#2cc4a7,#26c2ac,#20c1b1,#18bfb6,#0fbebb,#07bcbf,#02bac4,#01b8c9,#04b6cd,#09b4d1,#10b2d5,#15afd9,#19acdc,#1caadf,#1ea7e1,#21a3e3,#23a0e5,#259de7,#269ae9,#2796eb,#2a93ee,#2c8ff0,#2d8cf3,#2d88f6,#2e84f8)"></i><i style="margin-bottom:-0.5px;height:2.504px;background:linear-gradient(90deg,#a2c83f,#99c946,#8fcb4e,#85cb56,#7bcc5d,#70cd65,#67cd6c,#5ecc74,#55cc7c,#4ccb83,#44cb89,#3dca90,#38c896,#34c79c,#30c5a1,#2cc4a7,#27c2ac,#20c1b1,#19bfb6,#0fbeba,#08bcbf,#02bac4,#01b8c8,#04b6cd,#09b4d1,#0fb2d5,#15afd9,#19addc,#1caadf,#1ea7e1,#21a4e3,#23a1e5,#249de6,#269ae8,#2797eb,#2a93ed,#2c90f0,#2d8cf3,#2d89f6,#2e85f8,#2f81fa)"></i><i style="margin-bottom:-0.5px;height:2.504px;background:linear-gradient(90deg,#99c946,#8fca4d,#85cb55,#7bcc5d,#71cd64,#68cd6c,#5ecd74,#56cc7b,#4dcc82,#45cb89,#3eca8f,#38c895,#34c79b,#30c5a1,#2cc4a6,#27c2ab,#21c1b0,#19bfb5,#10beba,#08bcbf,#02bac3,#01b9c8,#03b7cc,#08b4d0,#0fb2d4,#14b0d8,#19addc,#1baadf,#1ea7e1,#20a4e3,#23a1e4,#249ee6,#269ae8,#2797eb,#2994ed,#2c90f0,#2d8df3,#2d89f5,#2e85f8,#2f81fa,#317dfb)"></i><i style="margin-bottom:-0.5px;height:2.504px;background:linear-gradient(90deg,#90ca4d,#86cb54,#7ccc5c,#72cd64,#68cd6b,#5fcd73,#56cc7a,#4ecc81,#46cb88,#3eca8f,#39c895,#34c79b,#31c6a1,#2dc4a6,#28c2ab,#22c1b0,#1ac0b5,#11beb9,#09bcbe,#02bbc3,#01b9c7,#03b7cc,#07b5d0,#0eb2d4,#14b0d8,#18addb,#1baade,#1ea7e1,#20a4e3,#22a1e4,#249ee6,#269be8,#2797ea,#2994ed,#2b90ef,#2d8df2,#2d89f5,#2e86f8,#2f82fa,#317efb,#347afd)"></i><i style="margin-bottom:-0.5px;height:2.504px;background:linear-gradient(90deg,#87cb54,#7dcc5b,#73cd63,#69cd6b,#60cd72,#57cc7a,#4ecc81,#46cb88,#3fca8e,#39c995,#35c79a,#31c6a0,#2dc4a5,#28c3aa,#22c1af,#1bc0b4,#12beb9,#09bcbe,#03bbc2,#01b9c7,#03b7cb,#07b5d0,#0eb3d4,#14b0d8,#18addb,#1babde,#1ea8e1,#20a5e3,#22a1e4,#249ee6,#259be8,#2798ea,#2994ed,#2b91ef,#2d8df2,#2d8af5,#2e86f7,#2f82f9,#317efb,#337afd,#3876fe)"></i><i style="margin-bottom:-0.5px;height:2.504px;background:linear-gradient(90deg,#7ecc5b,#73cd62,#6acd6a,#60cd72,#58cc79,#4fcc80,#47cb87,#3fca8e,#3ac994,#35c79a,#31c6a0,#2dc4a5,#29c3aa,#23c1af,#1bc0b4,#12beb9,#0abdbd,#03bbc2,#01b9c7,#02b7cb,#07b5cf,#0db3d3,#13b0d7,#18aedb,#1babde,#1da8e0,#20a5e2,#22a2e4,#249ee6,#259be8,#2798ea,#2995ec,#2b91ef,#2c8ef2,#2d8af5,#2e86f7,#2f83f9,#307ffb,#337bfd,#3776fe,#3b72ff)"></i><i style="margin-bottom:-0.5px;height:2.504px;background:linear-gradient(90deg,#74cc62,#6acd6a,#61cd71,#58cc79,#50cc80,#47cb87,#40ca8d,#3ac994,#35c79a,#32c69f,#2ec4a5,#29c3aa,#24c1af,#1cc0b4,#13beb8,#0abdbd,#04bbc2,#01b9c6,#02b7cb,#06b5cf,#0db3d3,#13b1d7,#17aedb,#1aabde,#1da8e0,#1fa5e2,#22a2e4,#249fe6,#259ce7,#2798ea,#2895ec,#2b91ef,#2c8ef1,#2d8af4,#2e87f7,#2e83f9,#307ffb,#337bfc,#3777fe,#3b73fe,#3f6eff)"></i><i style="margin-bottom:-0.5px;height:2.504px;background:linear-gradient(90deg,#6bcd69,#62cd71,#59cc78,#50cc7f,#48cb86,#40ca8d,#3bc993,#36c799,#32c69f,#2ec4a4,#29c3a9,#24c1ae,#1cc0b3,#14beb8,#0bbdbd,#04bbc1,#01b9c6,#01b7ca,#06b5cf,#0cb3d3,#12b1d7,#17aeda,#1aabdd,#1da8e0,#1fa5e2,#22a2e4,#249fe5,#259ce7,#2699ea,#2895ec,#2b92ee,#2c8ef1,#2d8bf4,#2e87f7,#2e83f9,#307ffb,#327bfc,#3677fe,#3b73fe,#3f6fff,#416bfe)"></i><i style="margin-bottom:-0.5px;height:2.504px;background:linear-gradient(90deg,#62cd70,#5acc78,#51cc7f,#48cb86,#41ca8c,#3bc993,#36c899,#32c69e,#2ec5a4,#2ac3a9,#24c2ae,#1dc0b3,#15bfb8,#0bbdbc,#05bbc1,#01bac6,#01b8ca,#06b6ce,#0bb3d2,#12b1d6,#17aeda,#1aacdd,#1da9e0,#1fa6e2,#21a3e4,#249fe5,#259ce7,#2699e9,#2896ec,#2b92ee,#2c8ff1,#2d8bf4,#2d87f7,#2e84f9,#3080fb,#327cfc,#3678fe,#3a73fe,#3e6fff,#416bfe,#4367fd)"></i><i style="margin-bottom:-0.5px;height:2.504px;background:linear-gradient(90deg,#5acc77,#51cc7e,#49cb85,#41ca8c,#3bc992,#36c898,#32c69e,#2fc5a3,#2ac3a9,#25c2ae,#1ec0b2,#15bfb7,#0cbdbc,#05bbc1,#01bac5,#01b8ca,#05b6ce,#0bb3d2,#12b1d6,#16afda,#1aacdd,#1da9e0,#1fa6e2,#21a3e3,#23a0e5,#259ce7,#2699e9,#2896ec,#2a92ee,#2c8ff1,#2d8bf4,#2d88f6,#2e84f8,#2f80fa,#327cfc,#3678fd,#3a74fe,#3e70ff,#416bfe,#4367fd,#4563fd)"></i><i style="margin-bottom:-0.5px;height:2.504px;background:linear-gradient(90deg,#52cc7e,#49cb85,#42ca8b,#3cc992,#37c898,#33c69e,#2fc5a3,#2bc3a8,#25c2ad,#1ec0b2,#16bfb7,#0dbdbc,#06bcc0,#02bac5,#01b8c9,#05b6ce,#0ab4d2,#11b1d6,#16afd9,#1aacdd,#1ca9df,#1fa6e2,#21a3e3,#23a0e5,#259de7,#2699e9,#2896eb,#2a93ee,#2c8ff0,#2d8cf3,#2d88f6,#2e84f8,#2f80fa,#327dfc,#3578fd,#3974fe,#3d70ff,#416cfe,#4368fd,#4564fd,#4660fb)"></i><i style="margin-bottom:-0.5px;height:2.504px;background:linear-gradient(90deg,#4acb84,#42ca8b,#3cc991,#37c897,#33c69d,#2fc5a3,#2bc3a8,#26c2ad,#1fc0b2,#17bfb7,#0dbdbb,#06bcc0,#02bac5,#01b8c9,#05b6cd,#0ab4d1,#11b2d5,#15afd9,#19acdc,#1ca9df,#1fa6e1,#21a3e3,#23a0e5,#259de7,#269ae9,#2796eb,#2a93ee,#2c8ff0,#2d8cf3,#2d88f6,#2e85f8,#2f81fa,#317dfc,#3579fd,#3975fe,#3d70ff,#406cfe,#4368fe,#4464fd,#4660fc,#475cfa)"></i><i style="margin-bottom:-0.5px;height:2.504px;background:linear-gradient(90deg,#43ca8b,#3cc991,#37c897,#33c79d,#2fc5a2,#2bc3a7,#26c2ac,#1fc1b1,#17bfb6,#0ebebb,#07bcc0,#02bac4,#01b8c9,#04b6cd,#09b4d1,#10b2d5,#15afd9,#19acdc,#1caadf,#1ea7e1,#21a4e3,#23a0e5,#249de6,#269ae9,#2797eb,#2a93ed,#2c90f0,#2d8cf3,#2d89f6,#2e85f8,#2f81fa,#317dfc,#3579fd,#3975fe,#3d71ff,#406dfe,#4368fe,#4464fd,#4661fc,#475dfa,#4759f8)"></i><i style="margin-bottom:-0.5px;height:2.504px;background:linear-gradient(90deg,#3dc991,#37c897,#33c79c,#30c5a2,#2cc4a7,#26c2ac,#20c1b1,#18bfb6,#0fbebb,#07bcbf,#02bac4,#01b8c8,#04b6cd,#09b4d1,#10b2d5,#15afd9,#19addc,#1caadf,#1ea7e1,#20a4e3,#23a1e5,#249de6,#269ae8,#2797eb,#2994ed,#2c90f0,#2d8cf3,#2d89f5,#2e85f8,#2f81fa,#317efb,#3479fd,#3875fe,#3c71ff,#406dfe,#4269fe,#4465fd,#4561fc,#465dfa,#4759f8,#4755f6)"></i><i style="margin-bottom:-0.5px;height:2.504px;background:linear-gradient(90deg,#38c896,#34c79c,#30c5a2,#2cc4a7,#27c2ac,#20c1b1,#19bfb6,#0fbeba,#08bcbf,#02bac4,#01b8c8,#04b6cc,#08b4d1,#0fb2d5,#14b0d8,#19addc,#1baadf,#1ea7e1,#20a4e3,#23a1e4,#249ee6,#269ae8,#2797eb,#2994ed,#2b90f0,#2d8df2,#2d89f5,#2e86f8,#2f82fa,#317efb,#347afd,#3876fe,#3c71ff,#406dfe,#4269fe,#4465fd,#4561fc,#465dfb,#475af9,#4756f6,#4852f4)"></i><i style="margin-bottom:-0.5px;height:2.504px;background:linear-gradient(90deg,#34c79c,#30c5a1,#2cc4a6,#27c2ab,#21c1b0,#19bfb5,#10beba,#08bcbf,#02bac3,#01b9c8,#03b7cc,#08b5d0,#0fb2d4,#14b0d8,#18addb,#1baade,#1ea7e1,#20a4e3,#22a1e4,#249ee6,#259be8,#2797ea,#2994ed,#2b91ef,#2d8df2,#2d89f5,#2e86f7,#2f82f9,#317efb,#337afd,#3876fe,#3c72ff,#3f6efe,#426afe,#4466fd,#4562fc,#465efb,#475af9,#4756f7,#4852f4,#484ff1)"></i><i style="margin-bottom:-0.5px;height:2.504px;background:linear-gradient(90deg,#30c5a1,#2dc4a6,#27c2ab,#21c1b0,#1abfb5,#11beba,#09bcbe,#02bbc3,#01b9c7,#03b7cc,#07b5d0,#0eb2d4,#14b0d8,#18addb,#1babde,#1ea8e1,#20a5e3,#22a1e4,#249ee6,#259be8,#2798ea,#2994ed,#2b91ef,#2d8df2,#2d8af5,#2e86f7,#2f82f9,#307ffb,#337bfd,#3776fe,#3b72ff,#3f6eff,#426afe,#4466fd,#4562fc,#465efb,#475af9,#4757f7,#4853f5,#484ff2,#484bef)"></i><i style="margin-bottom:-0.5px;height:2.504px;background:linear-gradient(90deg,#2dc4a6,#28c2ab,#22c1b0,#1ac0b5,#11beb9,#09bcbe,#03bbc3,#01b9c7,#03b7cb,#07b5d0,#0eb3d4,#13b0d7,#18aedb,#1babde,#1da8e0,#20a5e2,#22a2e4,#249ee6,#259be8,#2798ea,#2995ec,#2b91ef,#2c8ef2,#2d8af4,#2e86f7,#2e83f9,#307ffb,#337bfc,#3777fe,#3b72fe,#3f6eff,#426afe,#4466fd,#4562fc,#465efb,#475bf9,#4757f7,#4853f5,#484ff2,#484bef,#4848ec)"></i><i style="margin-bottom:-0.5px;height:2.504px;background:linear-gradient(90deg,#28c3ab,#22c1af,#1bc0b4,#12beb9,#09bdbe,#03bbc2,#01b9c7,#02b7cb,#07b5cf,#0db3d3,#13b0d7,#18aedb,#1babde,#1da8e0,#20a5e2,#22a2e4,#249fe6,#259be7,#2798ea,#2895ec,#2b91ef,#2c8ef1,#2d8af4,#2e87f7,#2e83f9,#307ffb,#327bfc,#3777fe,#3b73fe,#3f6fff,#416bfe,#4367fd,#4563fc,#465ffb,#475bf9,#4757f7,#4853f5,#4850f2,#484cef,#4848ec,#4744e8)"></i><i style="margin-bottom:-0.5px;height:2.504px;background:linear-gradient(90deg,#23c1af,#1bc0b4,#13beb9,#0abdbd,#04bbc2,#01b9c6,#02b7cb,#06b5cf,#0db3d3,#13b0d7,#17aedb,#1aabde,#1da8e0,#1fa5e2,#22a2e4,#249fe5,#259ce7,#2698ea,#2895ec,#2b92ee,#2c8ef1,#2d8bf4,#2e87f7,#2e83f9,#307ffb,#327cfc,#3677fe,#3a73fe,#3e6fff,#416bfe,#4367fd,#4563fc,#465ffb,#475bf9,#4757f8,#4854f5,#4850f2,#484cf0,#4848ec,#4745e9,#4741e5)"></i><i style="margin-bottom:-0.5px;height:2.504px;background:linear-gradient(90deg,#1cc0b4,#13beb8,#0abdbd,#04bbc2,#01b9c6,#02b7cb,#06b5cf,#0cb3d3,#13b1d7,#17aeda,#1aabdd,#1da8e0,#1fa5e2,#22a2e4,#249fe5,#259ce7,#2699e9,#2895ec,#2b92ee,#2c8ef1,#2d8bf4,#2e87f7,#2e84f9,#3080fb,#327cfc,#3678fe,#3a73fe,#3e6fff,#416bfe,#4367fd,#4563fd,#465ffb,#475cfa,#4758f8,#4854f5,#4850f3,#484cf0,#4849ed,#4745e9,#4741e5,#463de0)"></i><i style="margin-bottom:-0.5px;height:2.504px;background:linear-gradient(90deg,#14beb8,#0bbdbd,#04bbc1,#01b9c6,#01b7ca,#06b5cf,#0cb3d3,#12b1d7,#17aeda,#1aabdd,#1da9e0,#1fa6e2,#21a2e4,#239fe5,#259ce7,#2699e9,#2896ec,#2a92ee,#2c8ff1,#2d8bf4,#2d88f6,#2e84f9,#3080fa,#327cfc,#3678fd,#3a74fe,#3e70ff,#416cfe,#4368fd,#4564fd,#4660fb,#475cfa,#4758f8,#4854f6,#4851f3,#484df0,#4849ed,#4745e9,#4741e5,#463ee1,#463adb)"></i><i style="margin-bottom:-0.5px;height:2.504px;background:linear-gradient(90deg,#0bbdbd,#05bbc1,#01b9c6,#01b8ca,#06b6ce,#0bb3d2,#12b1d6,#16aeda,#1aacdd,#1da9e0,#1fa6e2,#21a3e3,#23a0e5,#259ce7,#2699e9,#2896ec,#2a92ee,#2c8ff1,#2d8bf3,#2d88f6,#2e84f8,#2f80fa,#327cfc,#3578fd,#3974fe,#3d70ff,#406cfe,#4368fe,#4564fd,#4660fb,#475cfa,#4758f8,#4755f6,#4851f3,#484df0,#4849ed,#4745ea,#4742e6,#463ee1,#463bdc,#4537d6)"></i><i style="margin-bottom:-0.5px;height:2.504px;background:linear-gradient(90deg,#05bbc1,#01bac5,#01b8ca,#05b6ce,#0bb3d2,#12b1d6,#16afda,#1aacdd,#1ca9e0,#1fa6e2,#21a3e3,#23a0e5,#259de7,#2699e9,#2896eb,#2a93ee,#2c8ff0,#2d8cf3,#2d88f6,#2e84f8,#2f81fa,#317dfc,#3579fd,#3974fe,#3d70ff,#406cfe,#4368fe,#4464fd,#4660fc,#475cfa,#4759f8,#4755f6,#4851f3,#484df1,#484aed,#4746ea,#4742e6,#473ee1,#463bdc,#4538d7,#4435d0)"></i><i style="margin-bottom:-0.5px;height:2.504px;background:linear-gradient(90deg,#01bac5,#01b8ca,#05b6ce,#0bb4d2,#11b1d6,#16afd9,#1aacdd,#1ca9df,#1fa6e1,#21a3e3,#23a0e5,#259de7,#269ae9,#2796eb,#2a93ee,#2c8ff0,#2d8cf3,#2d88f6,#2e85f8,#2f81fa,#317dfc,#3579fd,#3975fe,#3d71ff,#406cfe,#4368fe,#4464fd,#4661fc,#465dfa,#4759f8,#4755f6,#4852f4,#484ef1,#484aee,#4746ea,#4742e6,#473fe2,#463bdd,#4538d7,#4435d1,#4332ca)"></i><i style="margin-bottom:-0.5px;height:2.504px;background:linear-gradient(90deg,#01b8c9,#05b6ce,#0ab4d2,#11b1d6,#16afd9,#19acdc,#1ca9df,#1fa6e1,#21a3e3,#23a0e5,#259de7,#269ae9,#2797eb,#2a93ed,#2c90f0,#2d8cf3,#2d89f6,#2e85f8,#2f81fa,#317dfc,#3479fd,#3975fe,#3d71ff,#406dfe,#4369fe,#4465fd,#4561fc,#465dfa,#4759f8,#4756f6,#4852f4,#484ef1,#484aee,#4746eb,#4743e7,#473fe2,#463bdd,#4538d8,#4435d1,#4332cb,#4230c4)"></i><i style="margin-bottom:-0.5px;height:2.504px;background:linear-gradient(90deg,#05b6cd,#0ab4d1,#10b2d5,#15afd9,#19acdc,#1caadf,#1ea7e1,#21a4e3,#23a0e5,#249de6,#269ae8,#2797eb,#2a93ed,#2c90f0,#2d8cf3,#2d89f5,#2e85f8,#2f81fa,#317efb,#347afd,#3875fe,#3c71ff,#406dfe,#4269fe,#4465fd,#4561fc,#465dfb,#475af9,#4756f6,#4852f4,#484ef1,#484bee,#4747eb,#4743e7,#473fe3,#463cde,#4538d8,#4535d2,#4433cb,#4230c4,#412ebe)"></i><i style="margin-bottom:-0.5px;height:2.504px;background:linear-gradient(90deg,#09b4d1,#10b2d5,#15afd9,#19addc,#1caadf,#1ea7e1,#21a4e3,#23a1e5,#249de6,#269ae8,#2797eb,#2994ed,#2c90f0,#2d8df2,#2d89f5,#2e85f8,#2f82fa,#317efb,#347afd,#3876fe,#3c71ff,#3f6dfe,#4269fe,#4465fd,#4561fc,#465efb,#475af9,#4756f7,#4852f4,#484ff2,#484bee,#4747eb,#4743e7,#4740e3,#463cde,#4539d9,#4536d2,#4433cc,#4330c5,#422ebe,#412cb9)"></i><i style="margin-bottom:-0.5px;height:2.504px;background:linear-gradient(90deg,#10b2d5,#15afd9,#19addc,#1caadf,#1ea7e1,#20a4e3,#23a1e4,#249ee6,#269ae8,#2797eb,#2994ed,#2b90ef,#2d8df2,#2d89f5,#2e86f8,#2f82fa,#317efb,#347afd,#3876fe,#3c72ff,#3f6efe,#426afe,#4466fd,#4562fc,#465efb,#475af9,#4756f7,#4853f4,#484ff2,#484bef,#4747eb,#4744e8,#4740e3,#463cdf,#4539d9,#4536d3,#4433cc,#4331c5,#422ebf,#412cba,#402bb6)"></i><i style="margin-bottom:-0.5px;height:2.504px;background:linear-gradient(90deg,#15afd8,#19addc,#1caadf,#1ea7e1,#20a4e3,#23a1e4,#249ee6,#269be8,#2797ea,#2994ed,#2b91ef,#2d8df2,#2d8af5,#2e86f7,#2f82f9,#307efb,#337afd,#3776fe,#3b72ff,#3f6eff,#426afe,#4466fd,#4562fc,#465efb,#475af9,#4757f7,#4853f5,#484ff2,#484bef,#4848ec,#4744e8,#4740e4,#463cdf,#4639da,#4536d4,#4433cd,#4331c6,#422ebf,#412cba,#402bb6,#402bb7)"></i><i style="margin-bottom:-0.5px;height:2.504px;background:linear-gradient(90deg,#19addc,#1baade,#1ea7e1,#20a4e3,#22a1e4,#249ee6,#259be8,#2798ea,#2994ed,#2b91ef,#2d8df2,#2d8af5,#2e86f7,#2f82f9,#307ffb,#337bfd,#3777fe,#3b72fe,#3f6eff,#426afe,#4466fd,#4562fc,#465efb,#475bf9,#4757f7,#4853f5,#484ff2,#484cef,#4848ec,#4744e8,#4740e4,#463ddf,#4639da,#4536d4,#4433cd,#4331c7,#422fc0,#412cba,#402bb7,#402bb6,#412cba)"></i><i style="margin-bottom:-0.5px;height:2.504px;background:linear-gradient(90deg,#1baade,#1ea7e1,#20a4e3,#22a1e4,#249ee6,#259be8,#2798ea,#2994ed,#2b91ef,#2c8ef2,#2d8af5,#2e86f7,#2e83f9,#307ffb,#337bfc,#3777fe,#3b73fe,#3f6eff,#416afe,#4366fd,#4563fc,#465ffb,#475bf9,#4757f7,#4853f5,#4850f2,#484cef,#4848ec,#4744e8,#4741e4,#463de0,#463ada,#4536d5,#4434ce,#4331c7,#422fc0,#412cbb,#402bb7,#402bb6,#412cba,#422ebf)"></i><i style="margin-bottom:-0.5px;height:2.504px;background:linear-gradient(90deg,#1ea8e1,#20a5e3,#22a1e4,#249ee6,#259be8,#2798ea,#2995ec,#2b91ef,#2c8ef2,#2d8af4,#2e87f7,#2e83f9,#307ffb,#327bfc,#3777fe,#3b73fe,#3f6fff,#416bfe,#4367fd,#4563fc,#465ffb,#475bf9,#4757f8,#4854f5,#4850f3,#484cf0,#4848ec,#4745e9,#4741e5,#463de0,#463adb,#4537d5,#4434ce,#4331c8,#422fc1,#412dbb,#402bb7,#402bb6,#412cb9,#422ebf,#4330c5)"></i><i style="margin-bottom:-0.5px;height:2.504px;background:linear-gradient(90deg,#20a5e2,#22a2e4,#249fe6,#259be7,#2798ea,#2995ec,#2b91ef,#2c8ef1,#2d8af4,#2e87f7,#2e83f9,#307ffb,#327bfc,#3677fe,#3a73fe,#3e6fff,#416bfe,#4367fd,#4563fd,#465ffb,#475bfa,#4758f8,#4854f5,#4850f3,#484cf0,#4849ed,#4745e9,#4741e5,#463ee0,#463adb,#4537d6,#4434cf,#4331c8,#422fc1,#412dbc,#402bb7,#402bb6,#412cb9,#422ebe,#4330c5,#4433cb)"></i><i style="margin-bottom:-0.5px;height:2.504px;background:linear-gradient(90deg,#22a2e4,#249fe6,#259ce7,#2798ea,#2895ec,#2b92ef,#2c8ef1,#2d8bf4,#2e87f7,#2e83f9,#3080fb,#327cfc,#3678fe,#3a73fe,#3e6fff,#416bfe,#4367fd,#4563fd,#465ffb,#475cfa,#4758f8,#4854f5,#4850f3,#484df0,#4849ed,#4745e9,#4741e5,#463ee1,#463adc,#4537d6,#4434cf,#4332c9,#422fc2,#412dbc,#402bb7,#402bb6,#412cb9,#412ebe,#4230c4,#4432cb,#4435d2)"></i><i style="margin-bottom:-0.5px;height:2.504px;background:linear-gradient(90deg,#249fe5,#259ce7,#2698ea,#2895ec,#2b92ee,#2c8ef1,#2d8bf4,#2e87f7,#2e84f9,#3080fb,#327cfc,#3678fe,#3a74fe,#3e6fff,#416bfe,#4367fd,#4564fd,#4660fb,#475cfa,#4758f8,#4854f6,#4851f3,#484df0,#4849ed,#4745ea,#4742e6,#463ee1,#463bdc,#4537d6,#4435d0,#4332c9,#422fc2,#412dbc,#402bb8,#402bb6,#412cb8,#412ebd,#4230c4,#4332ca,#4435d1,#4538d7)"></i><i style="margin-bottom:-0.5px;height:2.504px;background:linear-gradient(90deg,#259ce7,#2699e9,#2895ec,#2b92ee,#2c8ff1,#2d8bf4,#2d87f6,#2e84f9,#3080fa,#327cfc,#3678fd,#3a74fe,#3e70ff,#416cfe,#4368fd,#4564fd,#4660fb,#475cfa,#4758f8,#4755f6,#4851f3,#484df0,#4849ed,#4746ea,#4742e6,#473ee1,#463bdc,#4538d7,#4435d0,#4332ca,#4230c3,#412dbd,#402bb8,#402bb6,#402bb8,#412dbd,#4230c3,#4332ca,#4435d0,#4538d7,#463bdd)"></i><i style="margin-bottom:-0.5px;height:2.504px;background:linear-gradient(90deg,#2699e9,#2896ec,#2a92ee,#2c8ff1,#2d8bf4,#2d88f6,#2e84f8,#2f80fa,#327cfc,#3578fd,#3974fe,#3d70ff,#406cfe,#4368fe,#4464fd,#4660fc,#475cfa,#4759f8,#4755f6,#4851f3,#484df1,#484aee,#4746ea,#4742e6,#473fe2,#463bdd,#4538d7,#4435d1,#4332ca,#4230c3,#412dbd,#402cb8,#402bb6,#402bb8,#412dbc,#422fc3,#4332c9,#4435d0,#4537d6,#463bdc,#473ee1)"></i><i style="margin-bottom:-0.5px;height:2.504px;background:linear-gradient(90deg,#2896ec,#2a92ee,#2c8ff1,#2d8bf3,#2d88f6,#2e84f8,#2f80fa,#317dfc,#3579fd,#3974fe,#3d70ff,#406cfe,#4368fe,#4464fd,#4660fc,#475dfa,#4759f8,#4755f6,#4851f4,#484ef1,#484aee,#4746ea,#4742e6,#473fe2,#463bdd,#4538d8,#4435d1,#4332cb,#4230c4,#412ebe,#412cb8,#402bb6,#402bb7,#412dbc,#422fc2,#4332c9,#4434cf,#4537d6,#463adc,#463ee1,#4741e5)"></i><i style="margin-bottom:-0.5px;height:2.504px;background:linear-gradient(90deg,#2a92ee,#2c8ff1,#2d8cf3,#2d88f6,#2e84f8,#2f81fa,#317dfc,#3579fd,#3975fe,#3d70ff,#406cfe,#4368fe,#4464fd,#4661fc,#465dfa,#4759f8,#4755f6,#4852f4,#484ef1,#484aee,#4746eb,#4743e7,#473fe2,#463bde,#4538d8,#4435d2,#4433cb,#4230c4,#412ebe,#412cb9,#402bb6,#402bb7,#412dbc,#422fc2,#4332c8,#4434cf,#4537d6,#463adb,#463ee0,#4741e5,#4745e9)"></i><i style="margin-bottom:-0.5px;height:2.504px;background:linear-gradient(90deg,#2c8ff0,#2d8cf3,#2d88f6,#2e85f8,#2f81fa,#317dfc,#3579fd,#3975fe,#3d71ff,#406dfe,#4369fe,#4465fd,#4561fc,#465dfa,#4759f9,#4756f6,#4852f4,#484ef1,#484aee,#4747eb,#4743e7,#473fe3,#463cde,#4538d8,#4535d2,#4433cb,#4330c5,#422ebe,#412cb9,#402bb6,#402bb7,#412dbb,#422fc1,#4331c8,#4434cf,#4537d5,#463adb,#463de0,#4741e5,#4745e9,#4848ec)"></i><i style="margin-bottom:-0.5px;height:2.504px;background:linear-gradient(90deg,#2d8cf3,#2d88f6,#2e85f8,#2f81fa,#317dfc,#3479fd,#3975fe,#3d71ff,#406dfe,#4269fe,#4465fd,#4561fc,#465dfb,#475af9,#4756f6,#4852f4,#484ef1,#484bee,#4747eb,#4743e7,#473fe3,#463cde,#4539d9,#4536d3,#4433cc,#4330c5,#422ebf,#412cb9,#402bb6,#402bb7,#412dbb,#422fc1,#4331c7,#4434ce,#4537d5,#463ada,#463de0,#4741e4,#4744e8,#4848ec,#484cef)"></i><i style="margin-bottom:-0.5px;height:2.504px;background:linear-gradient(90deg,#2d89f6,#2e85f8,#2f81fa,#317dfc,#3479fd,#3875fe,#3c71ff,#406dfe,#4269fe,#4465fd,#4561fc,#465dfb,#475af9,#4756f7,#4852f4,#484ff2,#484bef,#4747eb,#4743e7,#4740e3,#463cdf,#4539d9,#4536d3,#4433cc,#4331c6,#422ebf,#412cba,#402bb6,#402bb7,#412cbb,#422fc0,#4331c7,#4434ce,#4536d4,#4639da,#463ddf,#4740e4,#4744e8,#4848ec,#484cef,#484ff2)"></i><i style="margin-bottom:-0.5px;height:2.504px;background:linear-gradient(90deg,#2e85f8,#2f81fa,#317efb,#347afd,#3875fe,#3c71ff,#406dfe,#4269fe,#4465fd,#4561fc,#465efb,#475af9,#4756f7,#4853f4,#484ff2,#484bef,#4747eb,#4744e8,#4740e4,#463cdf,#4639d9,#4536d3,#4433cd,#4331c6,#422ebf,#412cba,#402bb6,#402bb7,#412cba,#422ec0,#4331c6,#4433cd,#4536d4,#4639da,#463ddf,#4740e4,#4744e8,#4848ec,#484bef,#484ff2,#4853f5)"></i><i style="margin-bottom:-0.5px;height:2.504px;background:linear-gradient(90deg,#2f82fa,#317efb,#347afd,#3876fe,#3c72ff,#3f6dfe,#4269fe,#4466fd,#4562fc,#465efb,#475af9,#4756f7,#4853f5,#484ff2,#484bef,#4848ec,#4744e8,#4740e4,#463cdf,#4639da,#4536d4,#4433cd,#4331c6,#422ec0,#412cba,#402bb7,#402bb6,#412cba,#422ec0,#4331c6,#4433cd,#4536d3,#4639d9,#463cdf,#4740e3,#4744e8,#4747eb,#484bef,#484ff2,#4853f4,#4756f7)"></i><i style="margin-bottom:-0.5px;height:2.504px;background:linear-gradient(90deg,#317efb,#347afd,#3876fe,#3c72ff,#3f6efe,#426afe,#4466fd,#4562fc,#465efb,#475af9,#4757f7,#4853f5,#484ff2,#484bef,#4848ec,#4744e8,#4740e4,#463ddf,#4639da,#4536d4,#4434ce,#4331c7,#422fc0,#412cbb,#402bb7,#402bb6,#412cba,#422ebf,#4331c6,#4433cc,#4536d3,#4539d9,#463cdf,#4740e3,#4743e7,#4747eb,#484bee,#484ff1,#4852f4,#4756f7,#475af9)"></i><i style="margin-bottom:-0.5px;height:2.504px;background:linear-gradient(90deg,#337afd,#3876fe,#3c72ff,#3f6efe,#426afe,#4466fd,#4562fc,#465efb,#475bf9,#4757f7,#4853f5,#484ff2,#484cef,#4848ec,#4744e8,#4741e4,#463de0,#463ada,#4536d5,#4434ce,#4331c7,#422fc1,#412dbb,#402bb7,#402bb6,#412cb9,#422ebf,#4330c5,#4433cc,#4536d2,#4539d9,#463cde,#473fe3,#4743e7,#4747eb,#484bee,#484ef1,#4852f4,#4756f6,#4759f9,#465dfa)"></i><i style="margin-bottom:-0.5px;height:2.504px;background:linear-gradient(90deg,#3776fe,#3b72ff,#3f6eff,#426afe,#4466fd,#4562fc,#465efb,#475bf9,#4757f7,#4853f5,#4850f2,#484cef,#4848ec,#4744e9,#4741e5,#463de0,#463adb,#4537d5,#4434ce,#4331c8,#422fc1,#412dbb,#402bb7,#402bb6,#412cb9,#422ebe,#4330c5,#4433cb,#4535d2,#4538d8,#463cde,#473fe3,#4743e7,#4747eb,#484aee,#484ef1,#4852f4,#4755f6,#4759f8,#465dfa,#4661fc)"></i><i style="margin-bottom:-0.5px;height:2.504px;background:linear-gradient(90deg,#3b72ff,#3f6eff,#426afe,#4466fd,#4562fc,#465ffb,#475bf9,#4757f7,#4854f5,#4850f2,#484cf0,#4848ec,#4745e9,#4741e5,#463de0,#463adb,#4537d5,#4434cf,#4331c8,#422fc1,#412dbb,#402bb7,#402bb6,#412cb9,#412ebe,#4230c4,#4433cb,#4435d2,#4538d8,#463bdd,#473fe2,#4743e7,#4746ea,#484aee,#484ef1,#4851f4,#4755f6,#4759f8,#475dfa,#4660fc,#4464fd)"></i><i style="margin-bottom:-0.5px;height:2.504px;background:linear-gradient(90deg,#3f6eff,#416afe,#4366fd,#4563fc,#465ffb,#475bf9,#4757f7,#4854f5,#4850f3,#484cf0,#4849ec,#4745e9,#4741e5,#463de0,#463adb,#4537d6,#4434cf,#4332c8,#422fc2,#412dbc,#402bb7,#402bb6,#412cb9,#412ebe,#4230c4,#4332cb,#4435d1,#4538d7,#463bdd,#473fe2,#4742e6,#4746ea,#484aee,#484ef1,#4851f3,#4755f6,#4759f8,#475cfa,#4660fc,#4564fd,#4368fe)"></i><i style="margin-bottom:-0.5px;height:2.504px;background:linear-gradient(90deg,#416bfe,#4367fd,#4563fc,#465ffb,#475bf9,#4758f8,#4854f5,#4850f3,#484cf0,#4849ed,#4745e9,#4741e5,#463ee1,#463adb,#4537d6,#4434cf,#4332c9,#422fc2,#412dbc,#402bb8,#402bb6,#412cb8,#412ebd,#4230c4,#4332ca,#4435d1,#4538d7,#463bdd,#473ee2,#4742e6,#4746ea,#484aed,#484df1,#4851f3,#4755f6,#4758f8,#475cfa,#4660fb,#4564fd,#4368fd,#416bfe)"></i><i style="margin-bottom:-0.5px;height:2.504px;background:linear-gradient(90deg,#4367fd,#4563fc,#465ffb,#475bfa,#4758f8,#4854f5,#4850f3,#484df0,#4849ed,#4745e9,#4741e5,#463ee1,#463adc,#4537d6,#4434d0,#4332c9,#422fc2,#412dbc,#402bb8,#402bb6,#402cb8,#412dbd,#4230c3,#4332ca,#4435d0,#4538d7,#463bdc,#473ee1,#4742e6,#4746ea,#4849ed,#484df0,#4851f3,#4854f6,#4758f8,#475cfa,#4660fb,#4563fd,#4367fd,#416bfe,#3e6fff)"></i><i style="margin-bottom:-0.5px;height:2.504px;background:linear-gradient(90deg,#4563fd,#465ffb,#475cfa,#4758f8,#4854f5,#4850f3,#484df0,#4849ed,#4745e9,#4742e6,#463ee1,#463bdc,#4537d6,#4435d0,#4332c9,#4230c3,#412dbd,#402bb8,#402bb6,#402bb8,#412dbd,#4230c3,#4332c9,#4435d0,#4537d6,#463bdc,#463ee1,#4742e6,#4745ea,#4849ed,#484df0,#4851f3,#4854f5,#4758f8,#475cfa,#465ffb,#4563fd,#4367fd,#416bfe,#3e6fff,#3b73fe)"></i><i style="margin-bottom:-0.5px;height:2.004px;background:linear-gradient(90deg,#465ffb,#475cfa,#4758f8,#4854f6,#4851f3,#484df0,#4849ed,#4745ea,#4742e6,#473ee1,#463bdc,#4538d7,#4435d0,#4332ca,#4230c3,#412dbd,#402bb8,#402bb6,#402bb8,#412dbc,#422fc2,#4332c9,#4434d0,#4537d6,#463adc,#463ee1,#4741e5,#4745e9,#4849ed,#484df0,#4850f3,#4854f5,#4758f8,#475bfa,#465ffb,#4563fc,#4367fd,#416bfe,#3f6fff,#3b73fe,#3777fe)"></i></div>
<div class="b" style="left:220.0px;top:15.0px;width:139.3px;height:138.3px"></div>
<div class="t" style="left:220.0px;top:2.6px;width:139.3px">Fadillioglu</div>
<div class="l" style="left:225.6px;top:80.8px">Rearfoot strike</div>
<div class="l" style="left:225.6px;top:106.4px">Midfoot strike</div>
<div class="l" style="left:225.6px;top:132.0px">Forefoot strike</div>
<div class="p" style="left:401.0px;top:14.2px;width:139.4px;height:138.3px"><i style="margin-bottom:-0.5px;height:2.504px;background:linear-gradient(90deg,#01b9c6,#04b6cd,#0cb3d3,#15afd9,#1babde,#1ea7e1,#22a2e4,#259de7,#2798ea,#2a93ee,#2d8df2,#2d88f6,#2f82f9,#327cfc,#3876fe,#3e6fff,#4269fe,#4563fd,#465dfa,#4757f7,#4852f4,#484cef,#4746ea,#4740e4,#463bdc,#4536d3,#4332c8,#422ebe,#402bb7,#402bb7,#422ebf,#4332c9,#4536d3,#463adc,#4740e3,#4745e9,#484bef,#4851f3,#4756f7,#475cfa,#4561fc)"></i><i style="margin-bottom:-0.5px;height:2.504px;background:linear-gradient(90deg,#01b9c8,#06b5cf,#0fb2d5,#17aeda,#1caadf,#1fa5e2,#23a0e5,#259be7,#2796eb,#2b91ef,#2d8cf3,#2e86f7,#2f80fa,#337afd,#3a74fe,#3f6efe,#4367fd,#4561fc,#475bfa,#4756f6,#4850f2,#484aee,#4744e8,#473ee2,#4639d9,#4434d0,#4330c5,#412dbc,#402bb6,#412cb9,#422fc1,#4433cc,#4537d6,#463cde,#4741e5,#4747eb,#484df0,#4852f4,#4758f8,#465dfb,#4563fd)"></i><i style="margin-bottom:-0.5px;height:2.504px;background:linear-gradient(90deg,#01b8ca,#08b4d0,#12b1d6,#19addc,#1da8e0,#21a4e3,#249fe5,#269ae9,#2895ec,#2c90f0,#2d8af4,#2e85f8,#307ffb,#3578fd,#3b72ff,#416cfe,#4466fd,#4660fb,#475af9,#4854f5,#484ef1,#4848ec,#4742e6,#463ddf,#4538d7,#4433cd,#422fc2,#412cb9,#402bb6,#412dbb,#4230c4,#4434cf,#4538d8,#463de0,#4743e7,#4849ed,#484ef1,#4854f5,#4759f9,#465ffb,#4465fd)"></i><i style="margin-bottom:-0.5px;height:2.504px;background:linear-gradient(90deg,#03b7cc,#0bb3d2,#14b0d8,#1aacdd,#1ea7e1,#22a2e4,#249de6,#2698ea,#2a93ed,#2c8ef1,#2d88f6,#2e83f9,#317dfc,#3777fe,#3d70ff,#426afe,#4564fd,#465efb,#4758f8,#4852f4,#484cf0,#4747eb,#4741e5,#463bdd,#4536d4,#4332ca,#422ebf,#402bb8,#402bb7,#412ebe,#4331c7,#4435d1,#463adb,#473fe2,#4745e9,#484aee,#4850f2,#4756f6,#475bf9,#4561fc,#4367fd)"></i><i style="margin-bottom:-0.5px;height:2.504px;background:linear-gradient(90deg,#05b6ce,#0eb2d4,#16aeda,#1baade,#1fa6e2,#23a1e4,#259ce7,#2797eb,#2b92ee,#2d8cf3,#2e87f7,#2f81fa,#337bfc,#3975fe,#3f6eff,#4368fe,#4562fc,#475cfa,#4756f7,#4850f3,#484bee,#4745e9,#473fe2,#463ada,#4435d1,#4331c6,#412dbd,#402bb6,#412cb8,#422fc0,#4332ca,#4536d4,#463bdd,#4741e4,#4746ea,#484cef,#4852f4,#4757f7,#465dfa,#4563fc,#4368fe)"></i><i style="margin-bottom:-0.5px;height:2.504px;background:linear-gradient(90deg,#07b5d0,#11b1d6,#18addb,#1da9e0,#20a4e3,#239fe5,#269ae8,#2895ec,#2c90f0,#2d8bf4,#2e85f8,#307ffb,#3579fd,#3b73fe,#406cfe,#4466fd,#4660fc,#475af9,#4855f6,#484ff2,#4849ed,#4743e7,#463de0,#4538d8,#4434ce,#4230c3,#412cba,#402bb6,#412cba,#4230c3,#4434cd,#4538d7,#463de0,#4742e6,#4848ec,#484ef1,#4853f5,#4759f8,#465ffb,#4464fd,#426afe)"></i><i style="margin-bottom:-0.5px;height:2.504px;background:linear-gradient(90deg,#0ab4d2,#14b0d8,#1aacdd,#1ea8e1,#21a3e3,#249ee6,#2699e9,#2994ed,#2c8ef1,#2d89f5,#2e83f9,#317dfb,#3677fe,#3d71ff,#416afe,#4464fd,#465efb,#4759f8,#4853f5,#484df0,#4747eb,#4741e5,#463cde,#4537d5,#4332cb,#422fc0,#402bb8,#402bb6,#412dbd,#4331c6,#4435d1,#4639da,#473ee2,#4744e8,#484aed,#484ff2,#4755f6,#475bf9,#4660fc,#4466fd,#406cfe)"></i><i style="margin-bottom:-0.5px;height:2.504px;background:linear-gradient(90deg,#0db3d4,#16afd9,#1babde,#1fa6e2,#22a1e4,#259ce7,#2797ea,#2a92ee,#2d8df2,#2d87f7,#2f82fa,#327cfc,#3875fe,#3e6fff,#4369fe,#4562fc,#475dfa,#4757f7,#4851f3,#484bef,#4745e9,#4740e3,#463adb,#4535d2,#4331c7,#412ebd,#402bb7,#402bb8,#422ec0,#4332ca,#4536d4,#463bdc,#4740e4,#4746ea,#484bef,#4851f3,#4757f7,#475cfa,#4562fc,#4368fe,#3f6eff)"></i><i style="margin-bottom:-0.5px;height:2.504px;background:linear-gradient(90deg,#11b2d5,#18aedb,#1ca9df,#20a5e3,#23a0e5,#259be8,#2896ec,#2b91ef,#2d8bf4,#2e86f8,#3080fb,#347afd,#3a73fe,#406dfe,#4367fd,#4661fc,#475bf9,#4755f6,#484ff2,#4849ed,#4743e8,#463ee1,#4539d8,#4434cf,#4230c4,#412dbb,#402bb6,#412cba,#422fc3,#4433cd,#4537d7,#463cdf,#4742e6,#4847ec,#484df0,#4853f5,#4758f8,#465efb,#4564fd,#426afe,#3e70ff)"></i><i style="margin-bottom:-0.5px;height:2.504px;background:linear-gradient(90deg,#13b0d7,#19acdc,#1da8e0,#21a3e3,#249ee6,#2699e9,#2994ed,#2c8ff1,#2d89f5,#2e84f9,#317efb,#3678fe,#3c71ff,#416bfe,#4465fd,#465ffb,#4759f8,#4853f5,#484df1,#4847ec,#4742e6,#463cdf,#4537d6,#4433cb,#422fc1,#412cb9,#402bb6,#412dbc,#4331c6,#4434d0,#4639d9,#463ee1,#4744e8,#4849ed,#484ff2,#4855f6,#475af9,#4660fb,#4466fd,#416cfe,#3c72ff)"></i><i style="margin-bottom:-0.5px;height:2.504px;background:linear-gradient(90deg,#15afd9,#1babde,#1fa6e1,#22a2e4,#259de7,#2798ea,#2a93ee,#2d8df2,#2d88f6,#2f82fa,#327cfc,#3876fe,#3e6fff,#4269fe,#4563fc,#465dfa,#4757f7,#4851f4,#484cef,#4746ea,#4740e4,#463adc,#4536d3,#4331c8,#412ebe,#402bb7,#402bb7,#422ebf,#4332c9,#4536d3,#463adc,#4740e3,#4745ea,#484bef,#4851f3,#4756f7,#475cfa,#4562fc,#4368fd,#3f6efe,#3a74fe)"></i><i style="margin-bottom:-0.5px;height:2.504px;background:linear-gradient(90deg,#17aedb,#1caadf,#20a5e2,#23a0e5,#259be8,#2896eb,#2b91ef,#2d8bf3,#2e86f7,#2f80fa,#347afd,#3a74fe,#406dfe,#4367fd,#4561fc,#475bf9,#4755f6,#4850f2,#484aed,#4744e8,#473ee1,#4539d9,#4434cf,#4330c5,#412dbb,#402bb6,#412cb9,#422fc2,#4433cc,#4537d6,#463cdf,#4742e6,#4747eb,#484df0,#4852f4,#4758f8,#465efb,#4563fd,#4269fe,#3e6fff,#3876fe)"></i><i style="margin-bottom:-0.5px;height:2.504px;background:linear-gradient(90deg,#19addc,#1da8e0,#21a3e3,#249fe6,#269ae9,#2995ec,#2c8ff0,#2d8af5,#2e84f8,#317efb,#3678fd,#3c72ff,#416bfe,#4465fd,#465ffb,#4759f8,#4853f5,#484ef1,#4848ec,#4742e6,#463cdf,#4537d6,#4433cc,#422fc2,#412cb9,#402bb6,#412dbc,#4330c5,#4434cf,#4539d9,#463ee1,#4743e7,#4849ed,#484ff2,#4854f5,#475af9,#4660fb,#4465fd,#416bfe,#3c71ff,#3678fe)"></i><i style="margin-bottom:-0.5px;height:2.504px;background:linear-gradient(90deg,#1aabde,#1ea7e1,#22a2e4,#259de7,#2798ea,#2a93ee,#2d8df2,#2d88f6,#2f82f9,#327cfc,#3876fe,#3e6fff,#4269fe,#4563fd,#465dfa,#4757f7,#4852f4,#484cef,#4746ea,#4740e4,#463bdc,#4536d3,#4332c9,#422ebe,#402bb7,#402bb7,#422ebf,#4332c8,#4536d2,#463adb,#4740e3,#4745e9,#484bee,#4850f3,#4756f7,#475cfa,#4561fc,#4367fd,#406dfe,#3a73fe,#347afd)"></i><i style="margin-bottom:-0.5px;height:2.504px;background:linear-gradient(90deg,#1caadf,#20a5e2,#23a0e5,#259be7,#2796eb,#2b91ef,#2d8cf3,#2e86f7,#2f80fa,#337afd,#3a74fe,#3f6dfe,#4367fd,#4561fc,#475bfa,#4756f6,#4850f2,#484aee,#4744e8,#473ee1,#4639d9,#4434d0,#4330c5,#412dbc,#402bb6,#412cb9,#422fc2,#4433cc,#4537d6,#463cde,#4741e5,#4747eb,#484df0,#4852f4,#4758f8,#465dfb,#4563fd,#4269fe,#3e6fff,#3875fe,#327cfc)"></i><i style="margin-bottom:-0.5px;height:2.504px;background:linear-gradient(90deg,#1da8e0,#21a4e3,#249fe6,#269ae9,#2995ec,#2c8ff0,#2d8af5,#2e84f8,#307efb,#3578fd,#3c72ff,#416bfe,#4465fd,#465ffb,#4759f9,#4854f5,#484ef1,#4848ec,#4742e6,#463ddf,#4537d6,#4433cc,#422fc2,#412cb9,#402bb6,#412dbc,#4330c5,#4434cf,#4539d8,#463ee1,#4743e7,#4849ed,#484ef1,#4854f5,#475af9,#465ffb,#4465fd,#416bfe,#3c71ff,#3677fe,#317efb)"></i><i style="margin-bottom:-0.5px;height:2.504px;background:linear-gradient(90deg,#1ea7e1,#22a2e4,#249de7,#2798ea,#2a93ee,#2c8ef2,#2d88f6,#2f82f9,#327cfc,#3876fe,#3e70ff,#4269fe,#4563fd,#465dfb,#4758f8,#4852f4,#484cef,#4746ea,#4740e4,#463bdc,#4536d3,#4332c9,#422ebf,#402bb7,#402bb7,#422ebe,#4331c8,#4535d2,#463adb,#473fe3,#4745e9,#484bee,#4850f3,#4756f7,#475cfa,#4561fc,#4367fd,#406dfe,#3a73fe,#347afd,#307ffb)"></i><i style="margin-bottom:-0.5px;height:2.504px;background:linear-gradient(90deg,#1fa5e2,#23a0e5,#259be7,#2796eb,#2b91ef,#2d8cf3,#2e86f7,#2f80fa,#337afd,#3a74fe,#3f6efe,#4367fd,#4561fc,#475bfa,#4756f6,#4850f2,#484aee,#4744e8,#473ee2,#4639d9,#4435d0,#4330c5,#412dbc,#402bb6,#412cb9,#422fc1,#4433cc,#4537d6,#463cde,#4741e5,#4747eb,#484df0,#4852f4,#4758f8,#465dfb,#4563fd,#4269fe,#3e6fff,#3875fe,#327cfc,#2f81fa)"></i><i style="margin-bottom:-0.5px;height:2.504px;background:linear-gradient(90deg,#21a4e3,#249fe6,#269ae9,#2995ec,#2c8ff0,#2d8af5,#2e84f8,#307efb,#3578fd,#3c72ff,#416bfe,#4465fd,#465ffb,#475af9,#4854f5,#484ef1,#4848ec,#4742e6,#463ddf,#4537d7,#4433cc,#422fc2,#412cb9,#402bb6,#412dbb,#4330c5,#4434cf,#4538d8,#463ee0,#4743e7,#4849ed,#484ef1,#4854f5,#475af9,#465ffb,#4465fd,#416bfe,#3c71ff,#3677fe,#317efb,#2e83f9)"></i><i style="margin-bottom:-0.5px;height:2.504px;background:linear-gradient(90deg,#22a2e4,#249de6,#2798ea,#2a93ee,#2c8ef2,#2d88f6,#2f82f9,#327cfc,#3876fe,#3e70ff,#4269fe,#4563fd,#465dfb,#4758f8,#4852f4,#484cef,#4746ea,#4740e4,#463bdc,#4536d3,#4332c9,#422ebf,#402bb7,#402bb7,#422ebe,#4331c8,#4535d2,#463adb,#473fe3,#4745e9,#484bee,#4850f3,#4756f7,#475cfa,#4561fc,#4367fd,#406dfe,#3a73fe,#347afd,#307ffb,#2e85f8)"></i><i style="margin-bottom:-0.5px;height:2.504px;background:linear-gradient(90deg,#23a0e5,#259be7,#2796eb,#2b91ef,#2d8cf3,#2e86f7,#2f80fa,#337afd,#3a74fe,#3f6efe,#4367fd,#4561fc,#475bfa,#4756f6,#4850f2,#484aee,#4744e8,#473ee2,#4639d9,#4435d0,#4330c5,#412dbc,#402bb6,#412cb9,#422fc1,#4433cc,#4537d6,#463cde,#4741e5,#4747eb,#484df0,#4852f4,#4758f8,#465dfb,#4563fd,#4269fe,#3e6fff,#3875fe,#327cfc,#2f81fa,#2e87f7)"></i><i style="margin-bottom:-0.5px;height:2.504px;background:linear-gradient(90deg,#249fe6,#269ae9,#2995ec,#2c8ff0,#2d8af5,#2e84f8,#307efb,#3578fd,#3c72ff,#416bfe,#4465fd,#465ffb,#4759f9,#4854f5,#484ef1,#4848ec,#4742e6,#463ddf,#4537d6,#4433cc,#422fc2,#412cb9,#402bb6,#412dbc,#4330c5,#4434cf,#4539d8,#463ee1,#4743e7,#4849ed,#484ef1,#4854f5,#475af9,#465ffb,#4465fd,#416bfe,#3c71ff,#3677fe,#317efb,#2e83f9,#2d89f5)"></i><i style="margin-bottom:-0.5px;height:2.504px;background:linear-gradient(90deg,#249de7,#2798ea,#2a93ee,#2c8ef2,#2d88f6,#2f82f9,#327cfc,#3876fe,#3e70ff,#4269fe,#4563fd,#465dfb,#4757f8,#4852f4,#484cef,#4746ea,#4740e4,#463bdc,#4536d3,#4332c9,#422ebf,#402bb7,#402bb7,#422ebe,#4332c8,#4536d2,#463adb,#473fe3,#4745e9,#484bee,#4850f3,#4756f7,#475cfa,#4561fc,#4367fd,#406dfe,#3a73fe,#347afd,#3080fb,#2e85f8,#2d8bf4)"></i><i style="margin-bottom:-0.5px;height:2.504px;background:linear-gradient(90deg,#259be8,#2796eb,#2b91ef,#2d8cf3,#2e86f7,#2f80fa,#337afd,#3a74fe,#3f6dfe,#4367fd,#4561fc,#475bf9,#4755f6,#4850f2,#484aee,#4744e8,#473ee1,#4639d9,#4434d0,#4330c5,#412dbc,#402bb6,#412cb9,#422fc2,#4433cc,#4537d6,#463cde,#4741e5,#4747eb,#484df0,#4852f4,#4758f8,#465efb,#4563fd,#4269fe,#3e6fff,#3876fe,#327cfc,#2f82fa,#2e87f7,#2d8cf3)"></i><i style="margin-bottom:-0.5px;height:2.504px;background:linear-gradient(90deg,#269ae9,#2994ec,#2c8ff0,#2d8af5,#2e84f8,#317efb,#3678fd,#3c72ff,#416bfe,#4465fd,#465ffb,#4759f8,#4853f5,#484ef1,#4848ec,#4742e6,#463cdf,#4537d6,#4433cc,#422fc2,#412cb9,#402bb6,#412dbc,#4330c5,#4434cf,#4539d9,#463ee1,#4743e7,#4849ed,#484ff2,#4854f5,#475af9,#4660fb,#4465fd,#416bfe,#3c71ff,#3678fe,#317efb,#2e83f9,#2d89f5,#2c8ef1)"></i><i style="margin-bottom:-0.5px;height:2.504px;background:linear-gradient(90deg,#2798ea,#2a93ee,#2d8df2,#2d88f6,#2f82f9,#327cfc,#3876fe,#3e6fff,#4269fe,#4563fd,#465dfa,#4757f7,#4851f4,#484cef,#4746ea,#4740e4,#463bdc,#4536d3,#4332c8,#422ebe,#402bb7,#402bb7,#422ebf,#4332c9,#4536d3,#463adc,#4740e3,#4745e9,#484bef,#4851f3,#4756f7,#475cfa,#4562fc,#4367fd,#3f6dfe,#3a74fe,#347afd,#3080fb,#2e85f8,#2d8bf4,#2c90f0)"></i><i style="margin-bottom:-0.5px;height:2.504px;background:linear-gradient(90deg,#2896eb,#2b91ef,#2d8bf3,#2e86f7,#3080fa,#347afd,#3a73fe,#406dfe,#4367fd,#4561fc,#475bf9,#4755f6,#484ff2,#484aed,#4744e8,#463ee1,#4539d9,#4434cf,#4330c5,#412dbb,#402bb6,#412cba,#422fc2,#4433cc,#4537d6,#463cdf,#4742e6,#4747eb,#484df0,#4853f4,#4758f8,#465efb,#4564fd,#4269fe,#3e70ff,#3876fe,#327cfc,#2f82fa,#2d87f7,#2d8df2,#2b92ee)"></i><i style="margin-bottom:-0.5px;height:2.504px;background:linear-gradient(90deg,#2994ed,#2c8ff1,#2d89f5,#2e84f9,#317efb,#3678fe,#3c71ff,#416bfe,#4465fd,#465ffb,#4759f8,#4853f5,#484df1,#4847ec,#4742e6,#463cdf,#4537d6,#4433cb,#422fc1,#412cb9,#402bb6,#412dbc,#4331c6,#4434d0,#4639d9,#463ee1,#4744e8,#4849ed,#484ff2,#4855f6,#475af9,#4660fb,#4466fd,#416cfe,#3c72ff,#3678fd,#317efb,#2e84f9,#2d89f5,#2c8ff1,#2994ed)"></i><i style="margin-bottom:-0.5px;height:2.504px;background:linear-gradient(90deg,#2a92ee,#2d8df2,#2d87f6,#2f82fa,#327cfc,#3875fe,#3e6fff,#4369fe,#4563fc,#475dfa,#4757f7,#4851f3,#484bef,#4745ea,#4740e3,#463adb,#4535d2,#4331c8,#412ebe,#402bb7,#402bb8,#422ebf,#4332c9,#4536d3,#463bdc,#4740e4,#4746ea,#484bef,#4851f3,#4757f7,#475cfa,#4562fc,#4368fe,#3f6efe,#3a74fe,#337afd,#2f80fa,#2e86f8,#2d8bf4,#2b90ef,#2896ec)"></i><i style="margin-bottom:-0.5px;height:2.504px;background:linear-gradient(90deg,#2b90ef,#2d8bf4,#2e85f8,#3080fb,#3479fd,#3a73fe,#406dfe,#4366fd,#4660fc,#475bf9,#4755f6,#484ff2,#4849ed,#4743e7,#463ee1,#4538d8,#4434ce,#4230c4,#412cbb,#402bb6,#412cba,#4230c3,#4433cd,#4538d7,#463cdf,#4742e6,#4848ec,#484df1,#4853f5,#4759f8,#465efb,#4564fd,#426afe,#3d70ff,#3776fe,#327cfc,#2f82f9,#2d88f6,#2d8df2,#2a92ee,#2797ea)"></i><i style="margin-bottom:-0.5px;height:2.504px;background:linear-gradient(90deg,#2c8ef1,#2d89f5,#2e83f9,#317dfb,#3677fe,#3d71ff,#416afe,#4464fd,#465efb,#4759f8,#4853f5,#484df0,#4747eb,#4741e5,#463cde,#4537d5,#4332cb,#422fc0,#402bb8,#402bb6,#412dbd,#4331c6,#4435d1,#4639da,#473ee2,#4744e8,#484aed,#484ff2,#4755f6,#475bf9,#4660fc,#4466fd,#406cfe,#3b72ff,#3578fd,#307ffb,#2e84f8,#2d8af5,#2c8ff1,#2994ed,#2699e9)"></i><i style="margin-bottom:-0.5px;height:2.504px;background:linear-gradient(90deg,#2d8df3,#2e87f7,#2f81fa,#327bfc,#3975fe,#3f6eff,#4368fe,#4562fc,#475cfa,#4756f7,#4851f3,#484bee,#4745e9,#473fe3,#463adb,#4435d1,#4331c7,#412dbd,#402bb6,#402cb8,#422fc0,#4332ca,#4536d4,#463bdd,#4740e4,#4746ea,#484cef,#4851f4,#4757f7,#475dfa,#4562fc,#4368fe,#3f6eff,#3974fe,#337bfd,#2f81fa,#2e86f7,#2d8cf3,#2b91ef,#2896eb,#259be8)"></i><i style="margin-bottom:-0.5px;height:2.504px;background:linear-gradient(90deg,#2d8bf4,#2e85f8,#307ffb,#3579fd,#3b72fe,#406cfe,#4466fd,#4660fb,#475af9,#4854f6,#484ff1,#4849ed,#4743e7,#463de0,#4538d7,#4434cd,#4230c3,#412cba,#402bb6,#412cbb,#4230c4,#4434ce,#4538d7,#463de0,#4742e7,#4848ec,#484ef1,#4853f5,#4759f8,#465ffb,#4464fd,#416afe,#3d71ff,#3777fe,#317dfc,#2e83f9,#2d88f6,#2c8ef2,#2a93ee,#2798ea,#259de7)"></i><i style="margin-bottom:-0.5px;height:2.504px;background:linear-gradient(90deg,#2d88f6,#2e83f9,#317dfc,#3777fe,#3d70ff,#426afe,#4564fd,#465efb,#4758f8,#4852f4,#484cf0,#4747eb,#4741e5,#463bdd,#4536d4,#4332ca,#422ebf,#402bb8,#402bb7,#412ebe,#4331c7,#4435d1,#463adb,#473fe2,#4745e9,#484aee,#4850f2,#4756f6,#475bf9,#4561fc,#4367fd,#406dfe,#3b73fe,#3579fd,#307ffb,#2e85f8,#2d8af4,#2c8ff0,#2995ec,#269ae9,#249ee6)"></i><i style="margin-bottom:-0.5px;height:2.504px;background:linear-gradient(90deg,#2e86f7,#2f81fa,#337bfd,#3974fe,#3f6efe,#4368fd,#4562fc,#475cfa,#4756f6,#4850f3,#484aee,#4744e8,#473fe2,#4639da,#4435d0,#4331c6,#412dbc,#402bb6,#412cb9,#422fc1,#4433cb,#4537d5,#463cde,#4741e5,#4747eb,#484cf0,#4852f4,#4758f8,#465dfa,#4563fd,#4269fe,#3e6fff,#3875fe,#327bfc,#2f81fa,#2e87f7,#2d8cf3,#2b91ef,#2796eb,#259be8,#23a0e5)"></i><i style="margin-bottom:-0.5px;height:2.504px;background:linear-gradient(90deg,#2e84f8,#307efb,#3578fd,#3c72ff,#416bfe,#4465fd,#465ffb,#4759f9,#4854f5,#484ef1,#4848ec,#4742e6,#463ddf,#4537d6,#4433cc,#422fc2,#412cb9,#402bb6,#412dbc,#4330c5,#4434cf,#4539d8,#463ee1,#4743e7,#4849ed,#484ef1,#4854f5,#475af9,#465ffb,#4465fd,#416bfe,#3c71ff,#3677fe,#317efb,#2e83f9,#2d89f5,#2c8ef1,#2a93ed,#2798ea,#249de6,#22a2e4)"></i><i style="margin-bottom:-0.5px;height:2.504px;background:linear-gradient(90deg,#2f82f9,#327cfc,#3876fe,#3e6fff,#4269fe,#4563fd,#465dfa,#4757f7,#4852f4,#484cef,#4746ea,#4740e4,#463bdc,#4536d3,#4332c8,#422ebe,#402bb7,#402bb7,#422ebf,#4332c9,#4536d3,#463adc,#4740e3,#4745e9,#484bef,#4851f3,#4756f7,#475cfa,#4561fc,#4367fd,#3f6dfe,#3a74fe,#347afd,#3080fb,#2e85f8,#2d8bf4,#2c90f0,#2895ec,#269ae8,#249fe5,#21a4e3)"></i><i style="margin-bottom:-0.5px;height:2.504px;background:linear-gradient(90deg,#3080fa,#347afd,#3a73fe,#406dfe,#4367fd,#4561fc,#475bf9,#4755f6,#484ff2,#4849ed,#4744e8,#463ee1,#4539d9,#4434cf,#4330c4,#412dbb,#402bb6,#412cba,#422fc2,#4433cc,#4537d6,#463cdf,#4742e6,#4747eb,#484df0,#4853f4,#4758f8,#465efb,#4564fd,#426afe,#3e70ff,#3876fe,#327cfc,#2f82fa,#2d87f6,#2d8df2,#2b92ee,#2797eb,#259ce7,#23a1e5,#1fa5e2)"></i><i style="margin-bottom:-0.5px;height:2.504px;background:linear-gradient(90deg,#317efb,#3677fe,#3d71ff,#416bfe,#4464fd,#465ffb,#4759f8,#4853f5,#484df0,#4747eb,#4741e5,#463cde,#4537d5,#4433cb,#422fc1,#412cb8,#402bb6,#412dbd,#4331c6,#4435d0,#4639da,#473ee1,#4744e8,#484aed,#484ff2,#4755f6,#475af9,#4660fc,#4466fd,#406cfe,#3b72ff,#3578fd,#317efb,#2e84f8,#2d89f5,#2c8ff1,#2994ed,#2699e9,#249ee6,#21a2e4,#1ea7e1)"></i><i style="margin-bottom:-0.5px;height:2.504px;background:linear-gradient(90deg,#327bfc,#3975fe,#3f6eff,#4368fe,#4562fc,#475cfa,#4757f7,#4851f3,#484bef,#4745e9,#473fe3,#463adb,#4435d1,#4331c7,#412dbd,#402bb6,#402bb8,#422fc0,#4332ca,#4536d4,#463bdd,#4740e4,#4746ea,#484cef,#4851f4,#4757f7,#475dfa,#4562fc,#4368fe,#3f6eff,#3974fe,#337bfd,#2f81fa,#2e86f7,#2d8cf3,#2b91ef,#2896eb,#259be8,#23a0e5,#20a4e3,#1da9e0)"></i><i style="margin-bottom:-0.5px;height:2.504px;background:linear-gradient(90deg,#3579fd,#3b72fe,#406cfe,#4466fd,#4660fb,#475af9,#4854f6,#484ef1,#4849ed,#4743e7,#463de0,#4538d7,#4434cd,#4230c3,#412cba,#402bb6,#412cbb,#4230c4,#4434ce,#4538d8,#463de0,#4743e7,#4848ec,#484ef1,#4853f5,#4759f8,#465ffb,#4465fd,#416afe,#3d71ff,#3777fe,#317dfc,#2e83f9,#2d88f6,#2c8ef2,#2a93ee,#2798ea,#259de7,#22a1e4,#1fa6e2,#1baade)"></i><i style="margin-bottom:-0.5px;height:2.504px;background:linear-gradient(90deg,#3776fe,#3d70ff,#426afe,#4564fd,#465efb,#4758f8,#4852f4,#484cf0,#4746eb,#4741e4,#463bdd,#4536d4,#4332c9,#422ebf,#402bb7,#402bb7,#412ebe,#4331c8,#4435d2,#463adb,#473fe3,#4745e9,#484aee,#4850f3,#4756f6,#475bf9,#4561fc,#4367fd,#406dfe,#3b73fe,#3479fd,#307ffb,#2e85f8,#2d8af4,#2c90f0,#2995ec,#269ae9,#249ee6,#21a3e3,#1da8e0,#1aacdd)"></i><i style="margin-bottom:-0.5px;height:2.504px;background:linear-gradient(90deg,#3a74fe,#3f6dfe,#4367fd,#4561fc,#475bfa,#4756f6,#4850f2,#484aee,#4744e8,#473ee2,#4639d9,#4434d0,#4330c5,#412dbc,#402bb6,#412cb9,#422fc2,#4433cc,#4537d6,#463cde,#4741e5,#4747eb,#484df0,#4852f4,#4758f8,#465dfb,#4563fd,#4269fe,#3e6fff,#3875fe,#327cfc,#2f81fa,#2e87f7,#2d8cf3,#2b92ef,#2797eb,#259ce7,#23a0e5,#20a5e2,#1ca9df,#18aedb)"></i><i style="margin-bottom:-0.5px;height:2.504px;background:linear-gradient(90deg,#3c71ff,#416bfe,#4465fd,#465ffb,#4759f8,#4853f5,#484ef1,#4848ec,#4742e6,#463cdf,#4537d6,#4433cc,#422fc1,#412cb9,#402bb6,#412dbc,#4330c5,#4434d0,#4539d9,#463ee1,#4743e8,#4849ed,#484ff2,#4854f6,#475af9,#4660fb,#4466fd,#416bfe,#3c72ff,#3678fd,#317efb,#2e84f9,#2d89f5,#2c8ef1,#2994ed,#2699ea,#249de6,#22a2e4,#1ea7e1,#1aabde,#15afd9)"></i><i style="margin-bottom:-0.5px;height:2.504px;background:linear-gradient(90deg,#3e6fff,#4369fe,#4563fc,#475dfa,#4757f7,#4851f3,#484bef,#4745e9,#4740e3,#463adb,#4535d2,#4331c8,#412ebe,#402bb7,#402bb8,#422ebf,#4332c9,#4536d3,#463bdc,#4740e4,#4746ea,#484bef,#4851f3,#4757f7,#475cfa,#4562fc,#4368fe,#3f6efe,#3a74fe,#337afd,#2f80fa,#2e86f7,#2d8bf4,#2b90ef,#2896ec,#269be8,#249fe5,#20a4e3,#1da9e0,#19addc,#12b1d7)"></i><i style="margin-bottom:-0.5px;height:2.504px;background:linear-gradient(90deg,#406cfe,#4466fd,#4660fc,#475af9,#4855f6,#484ff2,#4849ed,#4743e7,#463de0,#4538d8,#4434ce,#4230c3,#412cba,#402bb6,#412cba,#4230c3,#4434cd,#4538d7,#463ddf,#4742e6,#4848ec,#484ef1,#4853f5,#4759f8,#465efb,#4464fd,#426afe,#3d70ff,#3777fe,#317dfc,#2f82f9,#2d88f6,#2d8df2,#2a93ee,#2798ea,#259ce7,#22a1e4,#1fa6e2,#1baade,#17aeda,#0fb2d4)"></i><i style="margin-bottom:-0.5px;height:2.504px;background:linear-gradient(90deg,#426afe,#4564fd,#465efb,#4758f8,#4852f4,#484cf0,#4747eb,#4741e5,#463bdd,#4536d4,#4332ca,#422ebf,#402bb8,#402bb7,#412ebe,#4331c7,#4435d1,#463adb,#473fe2,#4745e9,#484aee,#4850f2,#4755f6,#475bf9,#4561fc,#4367fd,#406dfe,#3b73fe,#3579fd,#307ffb,#2e85f8,#2d8af4,#2c8ff0,#2995ec,#269ae9,#249ee6,#21a3e3,#1ea8e1,#1aacdd,#14b0d8,#0bb3d2)"></i><i style="margin-bottom:-0.5px;height:2.504px;background:linear-gradient(90deg,#4367fd,#4561fc,#475bfa,#4756f6,#4850f2,#484aee,#4744e8,#473ee2,#4639da,#4435d0,#4331c6,#412dbc,#402bb6,#412cb9,#422fc1,#4433cb,#4537d5,#463cde,#4741e5,#4747eb,#484cf0,#4852f4,#4758f8,#465dfb,#4563fd,#4269fe,#3e6fff,#3875fe,#327cfc,#2f81fa,#2e87f7,#2d8cf3,#2b91ef,#2797eb,#259be7,#23a0e5,#20a5e2,#1ca9df,#18aedb,#11b1d6,#07b5d0)"></i><i style="margin-bottom:-0.5px;height:2.504px;background:linear-gradient(90deg,#4465fd,#465ffb,#4759f8,#4853f5,#484ef1,#4848ec,#4742e6,#463cdf,#4537d6,#4433cc,#422fc1,#412cb9,#402bb6,#412dbc,#4330c5,#4434cf,#4539d9,#463ee1,#4743e7,#4849ed,#484ff2,#4854f6,#475af9,#4660fb,#4465fd,#416bfe,#3c72ff,#3678fe,#317efb,#2e84f9,#2d89f5,#2c8ef1,#2994ed,#2699ea,#249de6,#22a2e4,#1ea7e1,#1babde,#15afd9,#0db3d3,#04b6cd)"></i><i style="margin-bottom:-0.5px;height:2.504px;background:linear-gradient(90deg,#4563fc,#475dfa,#4757f7,#4851f3,#484bef,#4745e9,#4740e3,#463adb,#4535d2,#4331c8,#412ebe,#402bb7,#402bb8,#422ebf,#4332c9,#4536d4,#463bdc,#4740e4,#4746ea,#484bef,#4851f3,#4757f7,#475cfa,#4562fc,#4368fe,#3f6efe,#3a74fe,#337afd,#2f80fa,#2e86f7,#2d8bf4,#2b90ef,#2896ec,#269be8,#249fe5,#20a4e3,#1da9e0,#19addc,#12b1d7,#09b4d1,#02b7cb)"></i><i style="margin-bottom:-0.5px;height:2.504px;background:linear-gradient(90deg,#4660fc,#475af9,#4854f6,#484ff2,#4849ed,#4743e7,#463de0,#4538d8,#4434ce,#4230c3,#412cba,#402bb6,#412cba,#4230c3,#4434ce,#4538d7,#463de0,#4742e6,#4848ec,#484ef1,#4853f5,#4759f8,#465ffb,#4464fd,#426afe,#3d70ff,#3777fe,#317dfc,#2f83f9,#2d88f6,#2d8df2,#2a93ee,#2798ea,#259ce7,#22a1e4,#1fa6e2,#1baade,#16aeda,#0fb2d4,#06b5ce,#01b8c8)"></i><i style="margin-bottom:-0.5px;height:2.504px;background:linear-gradient(90deg,#465efb,#4758f8,#4852f4,#484cf0,#4746eb,#4741e4,#463bdd,#4536d4,#4332c9,#422ebf,#402bb7,#402bb7,#412ebe,#4331c8,#4435d2,#463adb,#473fe2,#4745e9,#484aee,#4850f3,#4756f6,#475bf9,#4561fc,#4367fd,#406dfe,#3b73fe,#3479fd,#307ffb,#2e85f8,#2d8af4,#2c90f0,#2995ec,#269ae9,#249ee6,#21a3e3,#1ea8e0,#1aacdd,#14b0d8,#0bb4d2,#03b7cc,#01bac5)"></i><i style="margin-bottom:-0.5px;height:2.504px;background:linear-gradient(90deg,#475bfa,#4755f6,#4850f2,#484aee,#4744e8,#473ee1,#4639d9,#4434d0,#4330c5,#412dbc,#402bb6,#412cb9,#422fc2,#4433cc,#4537d6,#463cde,#4741e5,#4747eb,#484df0,#4852f4,#4758f8,#465efb,#4563fd,#4269fe,#3e6fff,#3876fe,#327cfc,#2f82fa,#2e87f7,#2d8cf3,#2b92ee,#2797eb,#259ce7,#23a0e5,#20a5e2,#1caadf,#18aedb,#11b2d5,#07b5cf,#01b8c9,#03bbc3)"></i><i style="margin-bottom:-0.5px;height:2.504px;background:linear-gradient(90deg,#4759f8,#4853f5,#484df1,#4747ec,#4742e6,#463cde,#4537d6,#4433cb,#422fc1,#412cb8,#402bb6,#412dbc,#4331c6,#4435d0,#4639d9,#473ee1,#4744e8,#4849ed,#484ff2,#4755f6,#475af9,#4660fb,#4466fd,#416cfe,#3c72ff,#3678fd,#317efb,#2e84f9,#2d89f5,#2c8ff1,#2994ed,#2699e9,#249ee6,#22a2e4,#1ea7e1,#1aabdd,#15afd9,#0cb3d3,#04b6cd,#01b9c6,#07bcc0)"></i><i style="margin-bottom:-0.5px;height:2.504px;background:linear-gradient(90deg,#4756f7,#4851f3,#484bee,#4745e9,#473fe3,#463adb,#4435d1,#4331c7,#412dbd,#402bb6,#402bb8,#422fc0,#4332ca,#4536d4,#463bdd,#4740e4,#4746ea,#484cef,#4851f4,#4757f7,#475dfa,#4562fc,#4368fe,#3f6eff,#3974fe,#337bfd,#2f81fa,#2e86f7,#2d8cf3,#2b91ef,#2896eb,#259be8,#23a0e5,#20a4e3,#1da9e0,#19addc,#12b1d6,#08b4d1,#01b7ca,#02bac4,#0bbdbd)"></i><i style="margin-bottom:-0.5px;height:2.504px;background:linear-gradient(90deg,#4854f5,#484ef1,#4848ec,#4743e7,#463de0,#4538d7,#4433cd,#422fc3,#412cba,#402bb6,#412dbb,#4230c4,#4434ce,#4538d8,#463de0,#4743e7,#4848ec,#484ef1,#4854f5,#4759f9,#465ffb,#4465fd,#416bfe,#3d71ff,#3777fe,#317dfc,#2e83f9,#2d88f6,#2c8ef2,#2a93ee,#2798ea,#259de7,#22a2e4,#1fa6e2,#1babde,#16afd9,#0eb2d4,#05b6ce,#01b9c7,#05bbc1,#10beba)"></i><i style="margin-bottom:-0.5px;height:2.504px;background:linear-gradient(90deg,#4852f4,#484cef,#4746ea,#4740e4,#463bdc,#4536d3,#4332c9,#422ebe,#402bb7,#402bb7,#422ebf,#4332c8,#4536d3,#463adc,#4740e3,#4745e9,#484bee,#4850f3,#4756f7,#475cfa,#4561fc,#4367fd,#406dfe,#3a73fe,#347afd,#3080fb,#2e85f8,#2d8bf4,#2c90f0,#2895ec,#269ae8,#249fe6,#21a4e3,#1da8e0,#19acdc,#13b0d7,#0ab4d1,#02b7cb,#02bac5,#09bcbe,#16bfb7)"></i><i style="margin-bottom:-0.5px;height:2.504px;background:linear-gradient(90deg,#484ff2,#4849ed,#4743e8,#463ee1,#4539d8,#4434cf,#4230c4,#412dbb,#402bb6,#412cba,#422fc3,#4433cd,#4537d7,#463cdf,#4742e6,#4848ec,#484df0,#4853f5,#4758f8,#465efb,#4564fd,#426afe,#3e70ff,#3876fe,#327cfc,#2f82f9,#2d88f6,#2d8df2,#2a92ee,#2797eb,#259ce7,#23a1e4,#1fa5e2,#1caadf,#17aeda,#10b2d5,#06b5cf,#01b8c9,#04bbc2,#0ebdbb,#1bc0b4)"></i><i style="margin-bottom:-0.5px;height:2.504px;background:linear-gradient(90deg,#484df0,#4747eb,#4741e5,#463bde,#4536d5,#4332ca,#422ec0,#402bb8,#402bb7,#412dbd,#4331c7,#4435d1,#463ada,#473fe2,#4744e8,#484aee,#4850f2,#4755f6,#475bf9,#4661fc,#4466fd,#406cfe,#3b73fe,#3579fd,#307ffb,#2e84f8,#2d8af5,#2c8ff0,#2994ed,#2699e9,#249ee6,#21a3e3,#1ea7e1,#1aacdd,#14b0d8,#0bb3d2,#03b7cc,#01b9c6,#08bcbf,#14beb8,#20c1b1)"></i><i style="margin-bottom:-0.5px;height:2.504px;background:linear-gradient(90deg,#484aee,#4744e8,#473fe2,#4639da,#4435d0,#4331c6,#412dbc,#402bb6,#412cb9,#422fc1,#4433cb,#4537d5,#463cde,#4741e5,#4747eb,#484cf0,#4852f4,#4758f8,#465dfb,#4563fd,#4269fe,#3e6fff,#3875fe,#327bfc,#2f81fa,#2e87f7,#2d8cf3,#2b91ef,#2797eb,#259be7,#23a0e5,#20a5e2,#1ca9df,#18aedb,#11b1d6,#07b5d0,#01b8c9,#02bbc3,#0cbdbc,#1abfb5,#25c2ae)"></i><i style="margin-bottom:-0.5px;height:2.504px;background:linear-gradient(90deg,#4848ec,#4742e6,#463cdf,#4537d6,#4433cc,#422fc1,#412cb9,#402bb6,#412dbc,#4331c5,#4434d0,#4539d9,#463ee1,#4743e8,#4849ed,#484ff2,#4854f6,#475af9,#4660fb,#4466fd,#416cfe,#3c72ff,#3678fd,#317efb,#2e84f9,#2d89f5,#2c8ef1,#2994ed,#2699e9,#249de6,#22a2e4,#1ea7e1,#1aabdd,#15afd9,#0db3d3,#04b6cd,#01b9c7,#06bcc0,#12beb9,#1ec0b2,#28c3ab)"></i><i style="margin-bottom:-0.5px;height:2.504px;background:linear-gradient(90deg,#4745e9,#473fe3,#463adb,#4435d1,#4331c7,#412dbd,#402bb6,#402bb8,#422ec0,#4332ca,#4536d4,#463bdd,#4740e4,#4746ea,#484cef,#4851f3,#4757f7,#475cfa,#4562fc,#4368fe,#3f6eff,#3974fe,#337bfd,#2f80fa,#2e86f7,#2d8bf3,#2b91ef,#2896ec,#259be8,#239fe5,#20a4e3,#1da9e0,#19addc,#12b1d7,#08b4d1,#01b7ca,#02bac4,#0abdbd,#18bfb6,#23c1af,#2bc4a7)"></i><i style="margin-bottom:-0.5px;height:2.504px;background:linear-gradient(90deg,#4743e7,#463de0,#4538d7,#4433cd,#422fc3,#412cba,#402bb6,#412dbb,#4230c4,#4434ce,#4538d8,#463de0,#4743e7,#4848ec,#484ef1,#4854f5,#4759f9,#465ffb,#4465fd,#416bfe,#3d71ff,#3777fe,#317dfc,#2e83f9,#2d88f6,#2c8ef2,#2a93ee,#2798ea,#259de7,#22a2e4,#1fa6e2,#1babde,#16afd9,#0eb2d4,#05b6ce,#01b9c7,#05bbc1,#10beba,#1dc0b3,#27c2ac,#2ec4a4)"></i><i style="margin-bottom:-0.5px;height:2.504px;background:linear-gradient(90deg,#4740e4,#463bdc,#4536d3,#4332c8,#422ebe,#402bb7,#402bb7,#422ebf,#4332c9,#4536d3,#463adc,#4740e3,#4745e9,#484bef,#4851f3,#4756f7,#475cfa,#4562fc,#4367fd,#3f6dfe,#3a74fe,#347afd,#3080fb,#2e85f8,#2d8bf4,#2c90f0,#2895ec,#269ae8,#249fe5,#21a4e3,#1da8e0,#19acdc,#13b0d7,#0ab4d1,#02b7cb,#02bac5,#09bdbe,#16bfb7,#22c1b0,#2ac3a8,#31c5a1)"></i><i style="margin-bottom:-0.5px;height:2.504px;background:linear-gradient(90deg,#463ee0,#4538d8,#4434ce,#4230c4,#412cba,#402bb6,#412cba,#4230c3,#4433cd,#4538d7,#463ddf,#4742e6,#4848ec,#484df1,#4853f5,#4759f8,#465efb,#4464fd,#426afe,#3d70ff,#3776fe,#327dfc,#2f82f9,#2d88f6,#2d8df2,#2a92ee,#2797ea,#259ce7,#23a1e4,#1fa6e2,#1caadf,#17aeda,#0fb2d5,#06b5cf,#01b8c8,#04bbc2,#0fbebb,#1cc0b4,#26c2ac,#2dc4a5,#33c69d)"></i><i style="margin-bottom:-0.5px;height:2.504px;background:linear-gradient(90deg,#463bdd,#4536d4,#4332ca,#422ebf,#402bb8,#402bb7,#412ebe,#4331c7,#4435d2,#463adb,#473fe2,#4745e9,#484aee,#4850f2,#4756f6,#475bf9,#4561fc,#4367fd,#406dfe,#3b73fe,#3579fd,#307ffb,#2e85f8,#2d8af4,#2c8ff0,#2995ec,#269ae9,#249ee6,#21a3e3,#1ea8e1,#1aacdd,#14b0d8,#0bb3d2,#03b7cc,#01bac5,#08bcbf,#15bfb8,#21c1b1,#2ac3a9,#30c5a2,#36c799)"></i><i style="margin-bottom:-0.5px;height:2.504px;background:linear-gradient(90deg,#4639d9,#4434cf,#4330c5,#412dbb,#402bb6,#412cb9,#422fc2,#4433cc,#4537d6,#463cde,#4741e5,#4747eb,#484df0,#4852f4,#4758f8,#465efb,#4563fd,#4269fe,#3e6fff,#3876fe,#327cfc,#2f82fa,#2e87f7,#2d8df3,#2b92ee,#2797eb,#259ce7,#23a0e5,#1fa5e2,#1caadf,#18aedb,#10b2d5,#07b5cf,#01b8c9,#03bbc2,#0dbdbc,#1ac0b4,#25c2ad,#2dc4a6,#32c69e,#39c895)"></i><i style="margin-bottom:-0.5px;height:2.504px;background:linear-gradient(90deg,#4537d5,#4432cb,#422fc0,#402cb8,#402bb6,#412dbd,#4331c6,#4435d0,#4639da,#473ee2,#4744e8,#484aed,#484ff2,#4755f6,#475bf9,#4660fc,#4466fd,#406cfe,#3b72ff,#3578fd,#307efb,#2e84f8,#2d8af5,#2c8ff1,#2994ed,#2699e9,#249ee6,#21a3e4,#1ea7e1,#1aabdd,#15afd8,#0cb3d3,#04b6cd,#01b9c6,#07bcbf,#13beb8,#1fc1b1,#29c3aa,#2fc5a2,#35c79a,#3cc991)"></i><i style="margin-bottom:-0.5px;height:2.004px;background:linear-gradient(90deg,#4435d0,#4331c6,#412dbc,#402bb6,#412cb9,#422fc1,#4433cb,#4537d5,#463bde,#4741e5,#4746eb,#484cf0,#4852f4,#4757f7,#465dfa,#4563fc,#4369fe,#3f6fff,#3975fe,#327bfc,#2f81fa,#2e87f7,#2d8cf3,#2b91ef,#2796eb,#259be8,#23a0e5,#20a5e3,#1ca9df,#18addb,#11b1d6,#07b5d0,#01b8ca,#02bbc3,#0cbdbc,#19bfb5,#24c2ae,#2cc4a7,#32c69f,#38c896,#40ca8d)"></i></div>
<div class="b" style="left:401.0px;top:14.2px;width:139.4px;height:138.3px"></div>
<div class="t" style="left:401.0px;top:1.8px;width:139.4px">Auvinet</div>
<div class="l" style="left:406.6px;top:80.0px">Rearfoot strike</div>
<div class="l" style="left:406.6px;top:105.6px">Midfoot strike</div>
<div class="l" style="left:406.6px;top:131.2px">Forefoot strike</div>
<div class="p" style="left:42.0px;top:199.0px;width:139.6px;height:138.5px"><i style="margin-bottom:-0.5px;height:2.507px;background:linear-gradient(90deg,#f6e128,#fad42e,#fec835,#fdbd3d,#eeba34,#dabd28,#c3c22b,#a9c73a,#8dcb4f,#70cd65,#55cc7b,#3eca8f,#31c6a0,#23c1af,#0bbdbd,#01b8ca,#12b1d6,#1ca9df,#23a0e5,#2797eb,#2d8cf3,#2f82fa,#3876fe,#426afe,#465efb,#4853f5,#4848ec,#463de0,#4434ce,#412dbb,#402bb8,#4331c6,#4537d6,#4740e3,#4849ed,#4852f4,#475bf9,#4464fd,#3f6eff,#3578fd,#2f82fa)"></i><i style="margin-bottom:-0.5px;height:2.507px;background:linear-gradient(90deg,#f6e028,#fad42e,#fec735,#fcbd3d,#edba33,#d9bd28,#c2c22c,#a8c73b,#8ccb50,#6fcd66,#54cc7c,#3eca90,#31c5a1,#22c1af,#0abdbd,#02b7cb,#12b1d7,#1da9e0,#23a0e5,#2796eb,#2d8cf3,#2f81fa,#3876fe,#4269fe,#465efb,#4853f5,#4848ec,#463ddf,#4434ce,#412dbb,#412cb8,#4331c7,#4538d7,#4740e4,#4849ed,#4852f4,#475bfa,#4465fd,#3f6eff,#3579fd,#2f82f9)"></i><i style="margin-bottom:-0.5px;height:2.507px;background:linear-gradient(90deg,#f6e028,#fbd32e,#fec735,#fcbc3d,#ecba33,#d8be28,#c1c32c,#a7c73c,#8bcb51,#6ecd67,#54cc7d,#3dc990,#30c5a1,#22c1b0,#09bcbe,#02b7cb,#13b1d7,#1da9e0,#239fe5,#2896eb,#2d8cf3,#2f81fa,#3975fe,#4269fe,#465efb,#4852f4,#4747eb,#463cdf,#4433cd,#412cba,#412cb9,#4331c7,#4538d7,#4740e4,#4849ed,#4853f4,#475cfa,#4465fd,#3e6fff,#3579fd,#2f83f9)"></i><i style="margin-bottom:-0.5px;height:2.507px;background:linear-gradient(90deg,#f6e029,#fbd32e,#fec736,#fbbc3d,#ecba32,#d8be28,#c0c32d,#a6c83c,#8acb52,#6dcd68,#53cc7d,#3dc991,#30c5a2,#21c1b0,#09bcbe,#03b7cb,#13b0d7,#1da8e0,#249fe5,#2896ec,#2d8bf3,#2f81fa,#3975fe,#4369fe,#465dfa,#4852f4,#4747eb,#463cde,#4433cc,#412cba,#412cb9,#4331c8,#4538d8,#4741e4,#484aee,#4853f5,#475cfa,#4465fd,#3e6fff,#3479fd,#2e83f9)"></i><i style="margin-bottom:-0.5px;height:2.507px;background:linear-gradient(90deg,#f6df29,#fbd22f,#fec636,#fbbc3d,#ebba31,#d7be28,#bfc32d,#a5c83d,#89cb52,#6ccd68,#52cc7e,#3cc991,#2fc5a2,#20c1b1,#08bcbf,#03b7cc,#14b0d8,#1da8e0,#249fe6,#2895ec,#2d8bf4,#2f80fa,#3974fe,#4368fe,#475dfa,#4852f4,#4747eb,#463cde,#4433cc,#412cb9,#412cb9,#4332c8,#4538d8,#4741e5,#484aee,#4853f5,#475cfa,#4466fd,#3e70ff,#347afd,#2e83f9)"></i><i style="margin-bottom:-0.5px;height:2.507px;background:linear-gradient(90deg,#f6df29,#fbd22f,#fec636,#fbbc3d,#eaba31,#d6be28,#bfc32e,#a4c83e,#88cb53,#6bcd69,#51cc7f,#3bc992,#2fc5a3,#1fc0b1,#07bcbf,#03b6cc,#14b0d8,#1ea8e1,#249ee6,#2895ec,#2d8bf4,#3080fb,#3a74fe,#4368fe,#475cfa,#4851f4,#4746ea,#463bdd,#4433cb,#412cb9,#412cba,#4332c9,#4539d9,#4741e5,#484aee,#4854f5,#475dfa,#4466fd,#3e70ff,#347afd,#2e84f9)"></i><i style="margin-bottom:-0.5px;height:2.507px;background:linear-gradient(90deg,#f6de29,#fbd22f,#fec537,#fabb3d,#eabb30,#d5be28,#bec32e,#a3c83f,#87cb54,#6acd6a,#50cc80,#3bc993,#2fc5a3,#1ec0b2,#07bcc0,#04b6cd,#14b0d8,#1ea7e1,#249ee6,#2995ec,#2d8af4,#307ffb,#3a73fe,#4367fd,#475cfa,#4851f3,#4746ea,#463bdd,#4332ca,#412cb8,#412cba,#4332ca,#4639d9,#4742e6,#484bee,#4854f5,#465dfa,#4366fd,#3d70ff,#337afd,#2e84f9)"></i><i style="margin-bottom:-0.5px;height:2.507px;background:linear-gradient(90deg,#f6de29,#fcd12f,#fec537,#fabb3d,#e9bb30,#d5be28,#bdc32e,#a2c83f,#86cb55,#69cd6b,#4fcc80,#3ac993,#2ec5a4,#1ec0b2,#06bcc0,#04b6cd,#15afd9,#1ea7e1,#249ee6,#2994ed,#2d8af5,#307ffb,#3b73fe,#4367fd,#475cfa,#4851f3,#4745ea,#463bdc,#4332ca,#402bb8,#412dbb,#4332ca,#4639da,#4742e6,#484bef,#4854f5,#465dfb,#4367fd,#3d71ff,#337bfd,#2e84f8)"></i><i style="margin-bottom:-0.5px;height:2.507px;background:linear-gradient(90deg,#f6dd29,#fcd130,#fec437,#f9bb3d,#e8bb2f,#d4bf28,#bcc42f,#a1c840,#85cb55,#68cd6c,#4ecc81,#3ac994,#2ec4a4,#1dc0b3,#05bbc1,#05b6ce,#15afd9,#1ea7e1,#249ee6,#2994ed,#2d8af5,#307ffb,#3b73fe,#4367fd,#475bf9,#4850f3,#4745e9,#463adc,#4332c9,#402bb8,#412dbb,#4332cb,#463ada,#4742e6,#484bef,#4855f6,#465efb,#4367fd,#3c71ff,#337bfc,#2e84f8)"></i><i style="margin-bottom:-0.5px;height:2.507px;background:linear-gradient(90deg,#f7dd2a,#fcd030,#fec438,#f9bb3d,#e8bb2f,#d3bf27,#bbc42f,#a0c841,#84cc56,#67cd6c,#4dcc82,#39c995,#2dc4a5,#1cc0b3,#05bbc1,#05b6ce,#16afd9,#1fa6e1,#249de6,#2994ed,#2d89f5,#317efb,#3b72ff,#4466fd,#475bf9,#4850f2,#4745e9,#463adb,#4331c8,#402bb7,#412dbc,#4433cb,#463adb,#4742e7,#484cef,#4755f6,#465efb,#4367fd,#3c71ff,#327bfc,#2e85f8)"></i><i style="margin-bottom:-0.5px;height:2.507px;background:linear-gradient(90deg,#f7dc2a,#fcd030,#fec438,#f9ba3d,#e7bb2e,#d2bf27,#bac430,#9fc941,#83cc57,#66cd6d,#4dcb82,#39c895,#2dc4a5,#1bc0b4,#04bbc2,#06b5ce,#16aeda,#1fa6e2,#259de7,#2a93ed,#2d89f5,#317efb,#3c72ff,#4466fd,#475af9,#484ff2,#4744e8,#463ada,#4331c7,#402bb7,#412dbc,#4433cc,#463adb,#4743e7,#484cf0,#4755f6,#465efb,#4368fe,#3c72ff,#327cfc,#2e85f8)"></i><i style="margin-bottom:-0.5px;height:2.507px;background:linear-gradient(90deg,#f7dc2a,#fccf30,#fec338,#f8ba3d,#e7bb2d,#d2bf27,#b9c430,#9ec942,#82cc58,#65cd6e,#4ccb83,#38c896,#2dc4a6,#1ac0b4,#03bbc2,#06b5cf,#17aeda,#1fa6e2,#259de7,#2a93ee,#2d88f6,#317dfb,#3c71ff,#4465fd,#475af9,#484ff2,#4744e8,#4639da,#4331c7,#402bb7,#412dbd,#4433cc,#463adc,#4743e7,#484cf0,#4755f6,#465ffb,#4368fe,#3b72ff,#327cfc,#2e85f8)"></i><i style="margin-bottom:-0.5px;height:2.507px;background:linear-gradient(90deg,#f7dc2a,#fccf30,#fec338,#f8ba3d,#e6bb2d,#d1bf27,#b8c431,#9dc943,#81cc59,#64cd6f,#4bcb84,#38c896,#2cc4a6,#1abfb5,#03bbc3,#07b5cf,#17aeda,#1fa5e2,#259ce7,#2a92ee,#2d88f6,#317dfc,#3d71ff,#4465fd,#475af9,#484ff2,#4743e8,#4639d9,#4331c6,#402bb6,#412dbd,#4433cd,#463bdc,#4743e8,#484df0,#4756f6,#465ffb,#4368fe,#3b72fe,#327cfc,#2e86f8)"></i><i style="margin-bottom:-0.5px;height:2.507px;background:linear-gradient(90deg,#f7db2a,#fcce31,#fec239,#f7ba3c,#e5bb2d,#d0bf27,#b8c531,#9cc943,#80cc59,#63cd6f,#4acb84,#37c897,#2cc4a7,#19bfb5,#02bbc3,#07b5d0,#18aedb,#1fa5e2,#259ce7,#2b92ee,#2d88f6,#317dfc,#3d70ff,#4465fd,#4759f8,#484ef1,#4743e7,#4539d9,#4330c5,#402bb6,#412ebe,#4434ce,#463bdd,#4744e8,#484df0,#4756f7,#465ffb,#4269fe,#3b73fe,#317dfc,#2e86f7)"></i><i style="margin-bottom:-0.5px;height:2.507px;background:linear-gradient(90deg,#f7db2b,#fdce31,#fec239,#f6ba3c,#e5bb2c,#cfc028,#b7c532,#9bc944,#7fcc5a,#62cd70,#49cb85,#37c898,#2bc3a8,#18bfb6,#02bac3,#08b5d0,#18addb,#20a5e2,#259ce7,#2b92ee,#2d87f7,#327cfc,#3d70ff,#4464fd,#4759f8,#484ef1,#4743e7,#4538d8,#4330c5,#402bb6,#412ebe,#4434ce,#463bdd,#4744e8,#484df1,#4756f7,#4660fb,#4269fe,#3a73fe,#317dfc,#2e86f7)"></i><i style="margin-bottom:-0.5px;height:2.507px;background:linear-gradient(90deg,#f8da2b,#fdce31,#fec239,#f6ba3b,#e4bb2c,#cec028,#b6c532,#9bc945,#7ecc5b,#61cd71,#48cb86,#36c898,#2bc3a8,#17bfb6,#02bac4,#08b4d1,#19addb,#20a5e3,#259be8,#2b91ef,#2e87f7,#327cfc,#3e6fff,#4564fd,#4758f8,#484df1,#4742e6,#4538d7,#4230c4,#402bb6,#422ebf,#4434cf,#463bde,#4744e9,#484ef1,#4757f7,#4660fb,#4269fe,#3a73fe,#317dfb,#2e87f7)"></i><i style="margin-bottom:-0.5px;height:2.507px;background:linear-gradient(90deg,#f8da2b,#fdcd31,#fec13a,#f5ba3b,#e3bc2c,#cec028,#b5c533,#9ac946,#7dcc5c,#61cd72,#48cb86,#36c899,#2ac3a9,#16bfb7,#02bac4,#09b4d1,#19addc,#20a4e3,#259be8,#2b91ef,#2e87f7,#327bfc,#3e6fff,#4563fd,#4758f8,#484df0,#4742e6,#4538d7,#4230c3,#402bb6,#422ebf,#4434cf,#463cde,#4745e9,#484ef1,#4757f7,#4660fc,#426afe,#3a74fe,#317efb,#2e87f7)"></i><i style="margin-bottom:-0.5px;height:2.507px;background:linear-gradient(90deg,#f8d92b,#fdcd32,#fec13a,#f5ba3a,#e2bc2b,#cdc028,#b4c534,#99c946,#7ccc5c,#60cd72,#47cb87,#36c799,#2ac3a9,#15bfb7,#02bac5,#0ab4d1,#19addc,#20a4e3,#269be8,#2b91ef,#2e86f7,#337bfc,#3f6fff,#4563fc,#4758f8,#484df0,#4742e6,#4537d6,#422fc3,#402bb6,#422ec0,#4435d0,#463cdf,#4745e9,#484ef1,#4757f7,#4661fc,#426afe,#3974fe,#317efb,#2e87f7)"></i><i style="margin-bottom:-0.5px;height:2.507px;background:linear-gradient(90deg,#f8d92c,#fdcc32,#fec03a,#f4ba39,#e2bc2b,#ccc028,#b3c534,#98ca47,#7bcc5d,#5fcd73,#46cb88,#35c79a,#29c3aa,#14bfb8,#01bac5,#0ab4d2,#19acdc,#21a4e3,#269ae8,#2b90f0,#2e86f7,#337bfd,#3f6eff,#4563fc,#4757f7,#484cf0,#4741e5,#4537d6,#422fc2,#402bb6,#422fc0,#4435d0,#463cdf,#4745e9,#484ff1,#4758f8,#4561fc,#416afe,#3974fe,#307efb,#2d88f6)"></i><i style="margin-bottom:-0.5px;height:2.507px;background:linear-gradient(90deg,#f8d82c,#fdcc32,#fec03b,#f3ba39,#e1bc2b,#cbc129,#b2c635,#97ca48,#7acc5e,#5ecc74,#45cb88,#35c79b,#29c3aa,#13beb8,#01b9c6,#0bb3d2,#1aacdd,#21a3e3,#269ae9,#2c90f0,#2e85f8,#347afd,#3f6efe,#4562fc,#4757f7,#484cef,#4741e5,#4537d5,#422fc1,#402bb6,#422fc1,#4435d1,#463ddf,#4746ea,#484ff2,#4758f8,#4561fc,#416bfe,#3975fe,#307ffb,#2d88f6)"></i><i style="margin-bottom:-0.5px;height:2.507px;background:linear-gradient(90deg,#f9d82c,#fdcb32,#fec03b,#f3ba38,#e0bc2b,#cac129,#b1c635,#96ca49,#79cc5f,#5dcc75,#45cb89,#34c79b,#28c3ab,#12beb9,#01b9c6,#0cb3d3,#1aacdd,#21a3e3,#269ae9,#2c90f0,#2e85f8,#347afd,#3f6dfe,#4562fc,#4757f7,#484bef,#4740e4,#4536d4,#422fc1,#402bb6,#422fc1,#4435d2,#463de0,#4746ea,#484ff2,#4758f8,#4562fc,#416bfe,#3875fe,#307ffb,#2d88f6)"></i><i style="margin-bottom:-0.5px;height:2.507px;background:linear-gradient(90deg,#f9d82c,#fdcb33,#febf3b,#f2ba38,#e0bc2a,#c9c129,#b0c636,#95ca49,#78cc5f,#5ccc76,#44cb8a,#34c79c,#28c2ab,#12beb9,#01b9c7,#0cb3d3,#1aabdd,#21a3e4,#2699e9,#2c8ff0,#2e85f8,#3479fd,#406dfe,#4561fc,#4756f7,#484bef,#4740e4,#4536d4,#422fc0,#402bb6,#422fc2,#4535d2,#463de0,#4746ea,#4850f2,#4759f8,#4562fc,#416bfe,#3876fe,#307ffb,#2d88f6)"></i><i style="margin-bottom:-0.5px;height:2.507px;background:linear-gradient(90deg,#f9d72c,#fdcb33,#febf3b,#f2ba37,#dfbc2a,#c9c129,#afc636,#94ca4a,#77cc60,#5bcc76,#43ca8a,#34c79c,#27c2ac,#11beba,#01b9c7,#0db3d3,#1aabde,#22a2e4,#2699e9,#2c8ff1,#2e84f8,#3579fd,#406dfe,#4561fc,#4756f6,#484bee,#4740e3,#4536d3,#422ebf,#402bb6,#422fc2,#4536d3,#463ee1,#4747eb,#4850f2,#4759f8,#4562fc,#406cfe,#3876fe,#3080fb,#2d89f5)"></i><i style="margin-bottom:-0.5px;height:2.507px;background:linear-gradient(90deg,#f9d72d,#feca33,#febe3c,#f1ba37,#debc2a,#c8c129,#aec637,#93ca4b,#76cc61,#5acc77,#42ca8b,#33c69d,#26c2ac,#10beba,#01b9c8,#0eb2d4,#1babde,#22a2e4,#2699ea,#2c8ff1,#2e84f8,#3578fd,#406cfe,#4661fc,#4755f6,#484aee,#473fe3,#4536d2,#422ebf,#402bb7,#4230c3,#4536d3,#463ee1,#4747eb,#4850f3,#4759f8,#4563fc,#406cfe,#3776fe,#3080fa,#2d89f5)"></i><i style="margin-bottom:-0.5px;height:2.507px;background:linear-gradient(90deg,#f9d62d,#feca33,#febe3c,#f0ba36,#ddbd29,#c7c12a,#adc638,#92ca4c,#74cc62,#59cc78,#41ca8c,#33c69d,#26c2ad,#0fbebb,#01b8c8,#0fb2d4,#1babde,#22a2e4,#2798ea,#2c8ef1,#2e84f9,#3678fd,#416cfe,#4660fc,#4755f6,#484aee,#473fe2,#4435d2,#412ebe,#402bb7,#4230c3,#4536d4,#473ee1,#4747eb,#4850f3,#475af9,#4563fc,#406dfe,#3777fe,#2f80fa,#2d89f5)"></i><i style="margin-bottom:-0.5px;height:2.507px;background:linear-gradient(90deg,#fad62d,#fec934,#febe3c,#f0ba36,#ddbd29,#c6c22a,#adc738,#91ca4c,#73cd62,#59cc79,#41ca8c,#32c69e,#25c2ad,#0ebdbb,#01b8c8,#0fb2d5,#1baade,#22a1e4,#2798ea,#2c8ef1,#2e83f9,#3678fe,#416bfe,#4660fb,#4755f6,#484aed,#473ee2,#4435d1,#412ebd,#402bb7,#4230c4,#4536d4,#473ee2,#4848ec,#4851f3,#475af9,#4563fd,#406dfe,#3777fe,#2f81fa,#2d8af5)"></i><i style="margin-bottom:-0.5px;height:2.507px;background:linear-gradient(90deg,#fad52d,#fec934,#febd3c,#efba35,#dcbd29,#c5c22a,#acc739,#90ca4d,#72cd63,#58cc79,#40ca8d,#32c69f,#25c2ae,#0dbdbc,#01b8c9,#10b2d5,#1caadf,#23a1e4,#2798ea,#2d8df2,#2e83f9,#3777fe,#416bfe,#465ffb,#4854f6,#4849ed,#473ee1,#4435d0,#412dbd,#402bb7,#4330c5,#4537d5,#473fe2,#4848ec,#4851f3,#475af9,#4564fd,#406dfe,#3677fe,#2f81fa,#2d8af4)"></i><i style="margin-bottom:-0.5px;height:2.507px;background:linear-gradient(90deg,#fad52d,#fec834,#fdbd3d,#efba35,#dbbd29,#c4c22a,#abc739,#8fcb4e,#71cd64,#57cc7a,#3fca8e,#32c69f,#24c1ae,#0cbdbc,#01b8c9,#11b2d5,#1caadf,#23a1e5,#2797eb,#2d8df2,#2f82f9,#3777fe,#416bfe,#465ffb,#4854f5,#4849ed,#463ee1,#4434d0,#412dbc,#402bb7,#4330c5,#4537d5,#473fe3,#4848ec,#4851f4,#475bf9,#4564fd,#3f6efe,#3678fe,#2f81fa,#2d8af4)"></i><i style="margin-bottom:-0.5px;height:2.507px;background:linear-gradient(90deg,#fad42e,#fec835,#fdbd3d,#eeba34,#dbbd28,#c4c22b,#aac73a,#8ecb4f,#70cd65,#56cc7b,#3fca8e,#31c6a0,#24c1af,#0bbdbd,#01b8ca,#11b1d6,#1ca9df,#23a0e5,#2797eb,#2d8df2,#2f82f9,#3776fe,#426afe,#465ffb,#4854f5,#4848ec,#463de0,#4434cf,#412dbc,#402bb8,#4331c6,#4537d6,#473fe3,#4849ed,#4852f4,#475bf9,#4464fd,#3f6eff,#3678fd,#2f82fa,#2d8bf4)"></i><i style="margin-bottom:-0.5px;height:2.507px;background:linear-gradient(90deg,#fad42e,#fec835,#fcbd3d,#edba34,#dabd28,#c3c22b,#a9c73b,#8dcb50,#6fcd65,#55cc7c,#3eca8f,#31c6a0,#23c1af,#0abdbd,#01b8ca,#12b1d6,#1ca9e0,#23a0e5,#2797eb,#2d8cf3,#2f82fa,#3876fe,#426afe,#465efb,#4853f5,#4848ec,#463de0,#4434ce,#412dbb,#402bb8,#4331c6,#4537d6,#4740e3,#4849ed,#4852f4,#475bf9,#4465fd,#3f6eff,#3578fd,#2f82fa,#2d8bf4)"></i><i style="margin-bottom:-0.5px;height:2.507px;background:linear-gradient(90deg,#fad42e,#fec735,#fcbc3d,#edba33,#d9be28,#c2c22c,#a8c73b,#8ccb50,#6ecd66,#54cc7c,#3dca90,#30c5a1,#22c1b0,#0abdbe,#02b7cb,#12b1d7,#1da9e0,#23a0e5,#2796eb,#2d8cf3,#2f81fa,#3875fe,#4269fe,#465efb,#4853f5,#4848ec,#463ddf,#4434cd,#412cbb,#412cb8,#4331c7,#4538d7,#4740e4,#4849ed,#4852f4,#475cfa,#4465fd,#3f6fff,#3579fd,#2f82f9,#2d8bf4)"></i><i style="margin-bottom:-0.5px;height:2.507px;background:linear-gradient(90deg,#fbd32e,#fec735,#fcbc3d,#ecba32,#d8be28,#c1c32c,#a7c73c,#8bcb51,#6ecd67,#53cc7d,#3dc990,#30c5a1,#21c1b0,#09bcbe,#02b7cb,#13b0d7,#1da8e0,#239fe5,#2896ec,#2d8cf3,#2f81fa,#3975fe,#4269fe,#465dfb,#4852f4,#4747eb,#463cdf,#4433cd,#412cba,#412cb9,#4331c7,#4538d7,#4740e4,#484aed,#4853f5,#475cfa,#4465fd,#3e6fff,#3579fd,#2e83f9,#2d8bf3)"></i><i style="margin-bottom:-0.5px;height:2.507px;background:linear-gradient(90deg,#fbd32f,#fec636,#fbbc3d,#ebba32,#d7be28,#c0c32d,#a6c83d,#8acb52,#6dcd68,#52cc7e,#3cc991,#30c5a2,#21c1b1,#08bcbe,#03b7cc,#13b0d7,#1da8e0,#249fe5,#2896ec,#2d8bf3,#2f80fa,#3975fe,#4368fe,#465dfa,#4852f4,#4747eb,#463cde,#4433cc,#412cba,#412cb9,#4331c8,#4538d8,#4741e5,#484aee,#4853f5,#475cfa,#4466fd,#3e6fff,#3479fd,#2e83f9,#2d8cf3)"></i><i style="margin-bottom:-0.5px;height:2.507px;background:linear-gradient(90deg,#fbd22f,#fec636,#fbbc3d,#ebba31,#d7be28,#bfc32d,#a5c83d,#89cb53,#6ccd69,#52cc7e,#3cc992,#2fc5a2,#20c1b1,#08bcbf,#03b7cc,#14b0d8,#1da8e0,#249fe6,#2895ec,#2d8bf4,#2f80fa,#3974fe,#4368fe,#475dfa,#4852f4,#4746eb,#463cde,#4433cb,#412cb9,#412cba,#4332c9,#4538d8,#4741e5,#484aee,#4853f5,#475cfa,#4466fd,#3e70ff,#347afd,#2e83f9,#2d8cf3)"></i><i style="margin-bottom:-0.5px;height:2.507px;background:linear-gradient(90deg,#fbd22f,#fec636,#fabb3d,#eaba31,#d6be28,#bec32e,#a4c83e,#88cb53,#6bcd69,#51cc7f,#3bc992,#2fc5a3,#1fc0b2,#07bcbf,#04b6cc,#14b0d8,#1ea8e1,#249ee6,#2995ec,#2d8bf4,#3080fb,#3a74fe,#4368fd,#475cfa,#4851f3,#4746ea,#463bdd,#4332cb,#412cb9,#412cba,#4332c9,#4539d9,#4741e5,#484aee,#4854f5,#465dfa,#4466fd,#3d70ff,#347afd,#2e84f9,#2d8cf3)"></i><i style="margin-bottom:-0.5px;height:2.507px;background:linear-gradient(90deg,#fbd12f,#fec537,#fabb3d,#eabb30,#d5be28,#bec32e,#a3c83f,#87cb54,#6acd6a,#50cc80,#3bc993,#2ec5a3,#1ec0b2,#06bcc0,#04b6cd,#15afd8,#1ea7e1,#249ee6,#2994ec,#2d8af4,#307ffb,#3a73fe,#4367fd,#475cfa,#4851f3,#4746ea,#463bdd,#4332ca,#412cb8,#412cba,#4332ca,#4639d9,#4742e6,#484bee,#4854f5,#465dfa,#4367fd,#3d70ff,#337afd,#2e84f8,#2d8df2)"></i><i style="margin-bottom:-0.5px;height:2.507px;background:linear-gradient(90deg,#fcd12f,#fec537,#fabb3d,#e9bb30,#d4bf28,#bdc42f,#a2c83f,#86cb55,#69cd6b,#4fcc80,#3ac993,#2ec5a4,#1dc0b3,#06bcc0,#05b6cd,#15afd9,#1ea7e1,#249ee6,#2994ed,#2d8af5,#307ffb,#3b73fe,#4367fd,#475bfa,#4850f3,#4745e9,#463bdc,#4332c9,#402bb8,#412dbb,#4332ca,#4639da,#4742e6,#484bef,#4854f6,#465dfb,#4367fd,#3d71ff,#337bfc,#2e84f8,#2d8df2)"></i><i style="margin-bottom:-0.5px;height:2.507px;background:linear-gradient(90deg,#fcd130,#fec437,#f9bb3d,#e8bb2f,#d4bf27,#bcc42f,#a1c840,#85cb56,#68cd6c,#4ecc81,#3ac994,#2ec4a4,#1dc0b3,#05bbc1,#05b6ce,#16afd9,#1ea7e1,#249de6,#2994ed,#2d89f5,#307ffb,#3b72fe,#4366fd,#475bf9,#4850f3,#4745e9,#463adb,#4332c9,#402bb8,#412dbb,#4432cb,#463ada,#4742e6,#484bef,#4755f6,#465efb,#4367fd,#3c71ff,#327bfc,#2e85f8,#2d8df2)"></i><i style="margin-bottom:-0.5px;height:2.507px;background:linear-gradient(90deg,#fcd030,#fec438,#f9bb3d,#e8bb2e,#d3bf27,#bbc430,#a0c841,#84cc56,#67cd6c,#4dcc82,#39c895,#2dc4a5,#1cc0b4,#05bbc1,#05b6ce,#16afd9,#1fa6e1,#249de6,#2a93ed,#2d89f5,#317efb,#3c72ff,#4466fd,#475bf9,#4850f2,#4744e9,#463adb,#4331c8,#402bb7,#412dbc,#4433cb,#463adb,#4743e7,#484cef,#4755f6,#465efb,#4368fd,#3c71ff,#327cfc,#2e85f8,#2c8ef2)"></i><i style="margin-bottom:-0.5px;height:2.507px;background:linear-gradient(90deg,#fcd030,#fec438,#f8ba3d,#e7bb2e,#d2bf27,#bac430,#9fc941,#83cc57,#66cd6d,#4ccb83,#39c895,#2dc4a6,#1bc0b4,#04bbc2,#06b5cf,#16aeda,#1fa6e2,#259de7,#2a93ed,#2d89f5,#317efb,#3c72ff,#4466fd,#475af9,#484ff2,#4744e8,#463ada,#4331c7,#402bb7,#412dbc,#4433cc,#463adb,#4743e7,#484cf0,#4755f6,#465efb,#4368fe,#3c72ff,#327cfc,#2e85f8,#2c8ef1)"></i><i style="margin-bottom:-0.5px;height:2.507px;background:linear-gradient(90deg,#fccf30,#fec338,#f8ba3d,#e6bb2d,#d1bf27,#b9c430,#9ec942,#82cc58,#65cd6e,#4bcb83,#38c896,#2dc4a6,#1ac0b4,#03bbc2,#06b5cf,#17aeda,#1fa6e2,#259ce7,#2a93ee,#2d88f6,#317dfc,#3c71ff,#4465fd,#475af9,#484ff2,#4744e8,#4639da,#4331c7,#402bb7,#412dbd,#4433cd,#463adc,#4743e7,#484cf0,#4756f6,#465ffb,#4368fe,#3b72ff,#327cfc,#2e85f8,#2c8ef1)"></i><i style="margin-bottom:-0.5px;height:2.507px;background:linear-gradient(90deg,#fccf30,#fec338,#f7ba3c,#e6bb2d,#d1bf27,#b8c431,#9dc943,#81cc59,#64cd6f,#4bcb84,#37c897,#2cc4a7,#1abfb5,#03bbc3,#07b5cf,#17aedb,#1fa5e2,#259ce7,#2a92ee,#2d88f6,#317dfc,#3d71ff,#4465fd,#475af9,#484ef1,#4743e7,#4539d9,#4331c6,#402bb6,#412dbd,#4433cd,#463bdc,#4744e8,#484df0,#4756f7,#465ffb,#4369fe,#3b72fe,#327dfc,#2e86f7,#2c8ef1)"></i><i style="margin-bottom:-0.5px;height:2.507px;background:linear-gradient(90deg,#fdce31,#fec239,#f7ba3c,#e5bb2d,#d0bf27,#b7c532,#9cc944,#80cc59,#63cd70,#4acb85,#37c897,#2cc4a7,#19bfb5,#02bbc3,#07b5d0,#18aedb,#20a5e2,#259ce7,#2b92ee,#2d88f6,#327dfc,#3d70ff,#4464fd,#4759f8,#484ef1,#4743e7,#4539d8,#4330c5,#402bb6,#412ebe,#4434ce,#463bdd,#4744e8,#484df0,#4756f7,#465ffb,#4269fe,#3b73fe,#317dfc,#2e86f7,#2c8ff1)"></i><i style="margin-bottom:-0.5px;height:2.507px;background:linear-gradient(90deg,#fdce31,#fec239,#f6ba3b,#e4bb2c,#cfc028,#b6c532,#9bc944,#7fcc5a,#62cd70,#49cb85,#37c898,#2bc3a8,#18bfb6,#02bac4,#08b5d0,#18addb,#20a5e2,#259be7,#2b92ee,#2e87f7,#327cfc,#3e70ff,#4464fd,#4759f8,#484ef1,#4743e7,#4538d8,#4330c4,#402bb6,#422ebe,#4434ce,#463bdd,#4744e8,#484df1,#4757f7,#4660fb,#4269fe,#3a73fe,#317dfc,#2e86f7,#2c8ff1)"></i><i style="margin-bottom:-0.5px;height:2.507px;background:linear-gradient(90deg,#fdcd31,#fec239,#f6ba3b,#e4bb2c,#cec028,#b5c533,#9ac945,#7ecc5b,#61cd71,#48cb86,#36c898,#2bc3a8,#17bfb6,#02bac4,#08b4d1,#19addc,#20a4e3,#259be8,#2b91ef,#2e87f7,#327cfc,#3e6fff,#4564fd,#4758f8,#484df1,#4742e6,#4538d7,#4230c4,#402bb6,#422ebf,#4434cf,#463cde,#4744e9,#484ef1,#4757f7,#4660fb,#426afe,#3a74fe,#317efb,#2e87f7,#2c8ff0)"></i><i style="margin-bottom:-0.5px;height:2.507px;background:linear-gradient(90deg,#fdcd31,#fec13a,#f5ba3a,#e3bc2c,#cdc028,#b5c533,#99c946,#7ccc5c,#60cd72,#47cb87,#36c899,#2ac3a9,#16bfb7,#02bac4,#09b4d1,#19addc,#20a4e3,#259be8,#2b91ef,#2e86f7,#327bfc,#3e6fff,#4563fd,#4758f8,#484df0,#4742e6,#4538d7,#4230c3,#402bb6,#422ebf,#4434cf,#463cde,#4745e9,#484ef1,#4757f7,#4660fc,#426afe,#3a74fe,#317efb,#2e87f7,#2c90f0)"></i><i style="margin-bottom:-0.5px;height:2.507px;background:linear-gradient(90deg,#fdcd32,#fec13a,#f4ba3a,#e2bc2b,#cdc028,#b4c534,#98c947,#7bcc5d,#5fcd73,#47cb87,#35c79a,#2ac3a9,#15bfb7,#02bac5,#0ab4d2,#19acdc,#20a4e3,#269ae8,#2b91ef,#2e86f7,#337bfc,#3f6fff,#4563fc,#4758f8,#484df0,#4741e5,#4537d6,#422fc2,#402bb6,#422ec0,#4435d0,#463cdf,#4745e9,#484ef1,#4757f8,#4661fc,#426afe,#3974fe,#317efb,#2d87f7,#2c90f0)"></i><i style="margin-bottom:-0.5px;height:2.507px;background:linear-gradient(90deg,#fdcc32,#fec03a,#f4ba39,#e2bc2b,#ccc028,#b3c534,#97ca47,#7acc5d,#5fcd73,#46cb88,#35c79a,#29c3aa,#14beb8,#01bac5,#0bb4d2,#19acdc,#21a3e3,#269ae8,#2b90f0,#2e86f8,#337afd,#3f6eff,#4562fc,#4757f7,#484cf0,#4741e5,#4537d6,#422fc2,#402bb6,#422fc0,#4435d1,#463cdf,#4745ea,#484ff2,#4758f8,#4561fc,#416bfe,#3975fe,#307ffb,#2d88f6,#2b90f0)"></i><i style="margin-bottom:-0.5px;height:2.507px;background:linear-gradient(90deg,#fdcc32,#fec03b,#f3ba39,#e1bc2b,#cbc129,#b2c635,#96ca48,#79cc5e,#5ecc74,#45cb89,#35c79b,#28c3aa,#13beb8,#01b9c6,#0bb3d2,#1aacdd,#21a3e3,#269ae9,#2c90f0,#2e85f8,#347afd,#3f6efe,#4562fc,#4757f7,#484cef,#4741e4,#4537d5,#422fc1,#402bb6,#422fc1,#4435d1,#463ddf,#4746ea,#484ff2,#4758f8,#4561fc,#416bfe,#3975fe,#307ffb,#2d88f6,#2b91ef)"></i><i style="margin-bottom:-0.5px;height:2.507px;background:linear-gradient(90deg,#fdcb32,#fec03b,#f3ba38,#e0bc2a,#cac129,#b1c635,#95ca49,#78cc5f,#5dcc75,#44cb89,#34c79b,#28c3ab,#12beb9,#01b9c6,#0cb3d3,#1aacdd,#21a3e3,#2699e9,#2c90f0,#2e85f8,#347afd,#3f6dfe,#4562fc,#4756f7,#484bef,#4740e4,#4536d4,#422fc0,#402bb6,#422fc1,#4435d2,#463de0,#4746ea,#484ff2,#4758f8,#4562fc,#416bfe,#3875fe,#307ffb,#2d88f6,#2b91ef)"></i><i style="margin-bottom:-0.5px;height:2.507px;background:linear-gradient(90deg,#fdcb33,#febf3b,#f2ba38,#dfbc2a,#c9c129,#b0c636,#94ca4a,#77cc60,#5ccc76,#44ca8a,#34c79c,#27c2ab,#11beb9,#01b9c7,#0db3d3,#1aabdd,#21a3e4,#2699e9,#2c8ff0,#2e85f8,#3479fd,#406dfe,#4561fc,#4756f7,#484bef,#4740e4,#4536d3,#422ec0,#402bb6,#422fc2,#4535d2,#463de0,#4746eb,#4850f2,#4759f8,#4562fc,#416cfe,#3876fe,#3080fb,#2d89f6,#2b91ef)"></i><i style="margin-bottom:-0.5px;height:2.507px;background:linear-gradient(90deg,#fdca33,#febf3c,#f1ba37,#dfbc2a,#c8c129,#afc637,#93ca4a,#76cc60,#5bcc76,#43ca8b,#33c79c,#27c2ac,#10beba,#01b9c7,#0db3d4,#1babde,#22a2e4,#2699e9,#2c8ff1,#2e84f8,#3579fd,#406cfe,#4561fc,#4756f6,#484bee,#4740e3,#4536d3,#422ebf,#402bb6,#422fc2,#4536d3,#463ee1,#4747eb,#4850f2,#4759f8,#4562fc,#406cfe,#3876fe,#3080fa,#2d89f5,#2b91ef)"></i><i style="margin-bottom:-0.5px;height:2.507px;background:linear-gradient(90deg,#feca33,#febe3c,#f1ba37,#debd2a,#c8c129,#aec637,#92ca4b,#75cc61,#5acc77,#42ca8b,#33c69d,#26c2ac,#0fbeba,#01b9c8,#0eb2d4,#1babde,#22a2e4,#2698ea,#2c8ef1,#2e84f9,#3578fd,#406cfe,#4660fc,#4755f6,#484aee,#473fe3,#4535d2,#422ebf,#402bb7,#4230c3,#4536d3,#463ee1,#4747eb,#4850f3,#4759f9,#4563fc,#406cfe,#3776fe,#2f80fa,#2d89f5,#2b92ee)"></i><i style="margin-bottom:-0.5px;height:2.507px;background:linear-gradient(90deg,#feca33,#febe3c,#f0ba36,#ddbd29,#c7c12a,#adc638,#91ca4c,#74cc62,#59cc78,#41ca8c,#33c69e,#26c2ad,#0ebebb,#01b8c8,#0fb2d4,#1baade,#22a2e4,#2798ea,#2c8ef1,#2e83f9,#3678fd,#416cfe,#4660fc,#4755f6,#484aee,#473fe2,#4435d1,#412ebe,#402bb7,#4230c4,#4536d4,#473ee1,#4747eb,#4851f3,#475af9,#4563fc,#406dfe,#3777fe,#2f80fa,#2d89f5,#2b92ee)"></i><i style="margin-bottom:-0.5px;height:2.507px;background:linear-gradient(90deg,#fec934,#febe3c,#f0ba36,#ddbd29,#c6c22a,#acc738,#90ca4d,#73cd63,#58cc79,#40ca8d,#32c69e,#25c2ad,#0ebdbb,#01b8c9,#0fb2d5,#1baade,#22a1e4,#2798ea,#2c8ef2,#2e83f9,#3677fe,#416bfe,#4660fb,#4855f6,#4849ed,#473ee2,#4435d1,#412ebd,#402bb7,#4230c4,#4536d5,#473fe2,#4848ec,#4851f3,#475af9,#4563fd,#406dfe,#3777fe,#2f81fa,#2d8af5,#2a92ee)"></i><i style="margin-bottom:-0.5px;height:2.507px;background:linear-gradient(90deg,#fec934,#febd3c,#efba35,#dcbd29,#c5c22a,#abc739,#8fca4d,#72cd63,#58cc7a,#40ca8d,#32c69f,#25c2ae,#0dbdbc,#01b8c9,#10b2d5,#1caadf,#23a1e4,#2797ea,#2d8df2,#2e83f9,#3777fe,#416bfe,#465ffb,#4854f5,#4849ed,#463ee1,#4435d0,#412dbd,#402bb7,#4330c5,#4537d5,#473fe2,#4848ec,#4851f3,#475af9,#4564fd,#3f6dfe,#3677fe,#2f81fa,#2d8af4,#2a93ee)"></i><i style="margin-bottom:-0.5px;height:2.507px;background:linear-gradient(90deg,#fec834,#fdbd3d,#eeba35,#dbbd29,#c4c22b,#aac739,#8ecb4e,#71cd64,#57cc7a,#3fca8e,#32c69f,#24c1ae,#0cbdbc,#01b8c9,#11b1d6,#1caadf,#23a1e5,#2797eb,#2d8df2,#2f82f9,#3777fe,#416afe,#465ffb,#4854f5,#4849ed,#463ee1,#4434cf,#412dbc,#402bb8,#4330c5,#4537d6,#473fe3,#4848ec,#4852f4,#475bf9,#4564fd,#3f6efe,#3678fe,#2f81fa,#2d8af4,#2a93ee)"></i><i style="margin-bottom:-0.5px;height:2.507px;background:linear-gradient(90deg,#fec835,#fdbd3d,#eeba34,#dabd28,#c3c22b,#a9c73a,#8dcb4f,#70cd65,#56cc7b,#3eca8f,#31c6a0,#23c1af,#0bbdbd,#01b8ca,#11b1d6,#1ca9df,#23a0e5,#2797eb,#2d8df2,#2f82fa,#3776fe,#426afe,#465efb,#4853f5,#4848ec,#463de0,#4434cf,#412dbc,#402bb8,#4331c6,#4537d6,#4740e3,#4849ed,#4852f4,#475bf9,#4464fd,#3f6eff,#3678fd,#2f82fa,#2d8bf4,#2a93ed)"></i><i style="margin-bottom:-0.5px;height:2.507px;background:linear-gradient(90deg,#fec835,#fcbd3d,#edba33,#dabd28,#c3c22b,#a9c73b,#8ccb50,#6fcd66,#55cc7c,#3eca8f,#31c6a0,#23c1af,#0abdbd,#01b7ca,#12b1d6,#1da9e0,#23a0e5,#2796eb,#2d8cf3,#2f82fa,#3876fe,#426afe,#465efb,#4853f5,#4848ec,#463de0,#4434ce,#412dbb,#402cb8,#4331c6,#4537d7,#4740e3,#4849ed,#4852f4,#475bf9,#4465fd,#3f6eff,#3578fd,#2f82f9,#2d8bf4,#2a93ed)"></i><i style="margin-bottom:-0.5px;height:2.507px;background:linear-gradient(90deg,#fec735,#fcbc3d,#edba33,#d9be28,#c2c22c,#a8c73b,#8bcb51,#6ecd66,#54cc7c,#3dca90,#30c5a1,#22c1b0,#0abdbe,#02b7cb,#12b1d7,#1da9e0,#23a0e5,#2896eb,#2d8cf3,#2f81fa,#3875fe,#4269fe,#465efb,#4853f4,#4847ec,#463ddf,#4433cd,#412cbb,#412cb9,#4331c7,#4538d7,#4740e4,#4849ed,#4852f4,#475cfa,#4465fd,#3f6fff,#3579fd,#2f82f9,#2d8bf3,#2994ed)"></i><i style="margin-bottom:-0.5px;height:2.507px;background:linear-gradient(90deg,#fec736,#fcbc3d,#ecba32,#d8be28,#c1c32c,#a7c73c,#8acb51,#6dcd67,#53cc7d,#3dc990,#30c5a1,#21c1b0,#09bcbe,#02b7cb,#13b0d7,#1da8e0,#249fe5,#2896ec,#2d8cf3,#2f81fa,#3975fe,#4269fe,#465dfb,#4852f4,#4747eb,#463cdf,#4433cd,#412cba,#412cb9,#4331c8,#4538d8,#4740e4,#484aed,#4853f5,#475cfa,#4465fd,#3e6fff,#3479fd,#2e83f9,#2d8cf3,#2994ed)"></i><i style="margin-bottom:-0.5px;height:2.507px;background:linear-gradient(90deg,#fec636,#fbbc3d,#ebba32,#d7be28,#c0c32d,#a6c83d,#89cb52,#6ccd68,#52cc7e,#3cc991,#30c5a2,#20c1b1,#08bcbf,#03b7cc,#13b0d7,#1da8e0,#249fe5,#2895ec,#2d8bf4,#2f80fa,#3974fe,#4368fe,#465dfa,#4852f4,#4747eb,#463cde,#4433cc,#412cba,#412cb9,#4331c8,#4538d8,#4741e5,#484aee,#4853f5,#475cfa,#4466fd,#3e6fff,#347afd,#2e83f9,#2d8cf3,#2994ed)"></i><i style="margin-bottom:-0.5px;height:2.507px;background:linear-gradient(90deg,#fec636,#fbbc3d,#ebba31,#d7be28,#bfc32d,#a5c83e,#88cb53,#6bcd69,#51cc7f,#3cc992,#2fc5a2,#20c1b1,#08bcbf,#03b7cc,#14b0d8,#1da8e0,#249fe6,#2895ec,#2d8bf4,#3080fa,#3a74fe,#4368fe,#475dfa,#4852f4,#4746eb,#463bde,#4433cb,#412cb9,#412cba,#4332c9,#4539d9,#4741e5,#484aee,#4853f5,#475dfa,#4466fd,#3e70ff,#347afd,#2e83f9,#2d8cf3,#2995ec)"></i><i style="margin-bottom:-0.5px;height:2.507px;background:linear-gradient(90deg,#fec636,#fabb3d,#eaba31,#d6be28,#bec32e,#a4c83e,#87cb54,#6acd6a,#50cc7f,#3bc992,#2fc5a3,#1fc0b2,#07bcbf,#04b6cd,#14b0d8,#1ea7e1,#249ee6,#2995ec,#2d8af4,#3080fb,#3a74fe,#4368fd,#475cfa,#4851f3,#4746ea,#463bdd,#4332cb,#412cb9,#412cba,#4332c9,#4539d9,#4741e5,#484bee,#4854f5,#465dfa,#4466fd,#3d70ff,#337afd,#2e84f9,#2d8cf3,#2895ec)"></i><i style="margin-bottom:-0.5px;height:2.507px;background:linear-gradient(90deg,#fec537,#fabb3d,#e9bb30,#d5be28,#bdc32e,#a3c83f,#86cb54,#69cd6a,#50cc80,#3bc993,#2ec5a4,#1ec0b2,#06bcc0,#04b6cd,#15afd8,#1ea7e1,#249ee6,#2994ed,#2d8af4,#307ffb,#3a73fe,#4367fd,#475cfa,#4851f3,#4746ea,#463bdc,#4332ca,#402cb8,#412cbb,#4332ca,#4639d9,#4742e6,#484bef,#4854f5,#465dfa,#4367fd,#3d70ff,#337bfd,#2e84f8,#2d8df2,#2895ec)"></i><i style="margin-bottom:-0.5px;height:2.507px;background:linear-gradient(90deg,#fec537,#fabb3d,#e9bb2f,#d4bf28,#bcc42f,#a2c840,#85cb55,#68cd6b,#4fcc81,#3ac994,#2ec4a4,#1dc0b3,#06bcc0,#05b6cd,#15afd9,#1ea7e1,#249ee6,#2994ed,#2d8af5,#307ffb,#3b73fe,#4367fd,#475bfa,#4850f3,#4745e9,#463adc,#4332c9,#402bb8,#412dbb,#4332ca,#4639da,#4742e6,#484bef,#4854f6,#465dfb,#4367fd,#3d71ff,#337bfc,#2e84f8,#2d8df2,#2895ec)"></i><i style="margin-bottom:-0.5px;height:2.507px;background:linear-gradient(90deg,#fec437,#f9bb3d,#e8bb2f,#d3bf27,#bcc42f,#a1c840,#84cb56,#68cd6c,#4ecc81,#3ac994,#2ec4a5,#1cc0b3,#05bbc1,#05b6ce,#16afd9,#1ea7e1,#249de6,#2994ed,#2d89f5,#307efb,#3b72ff,#4466fd,#475bf9,#4850f3,#4745e9,#463adb,#4332c8,#402bb7,#412dbb,#4433cb,#463ada,#4742e6,#484cef,#4755f6,#465efb,#4367fd,#3c71ff,#327bfc,#2e85f8,#2d8df2,#2896ec)"></i><i style="margin-bottom:-0.5px;height:2.507px;background:linear-gradient(90deg,#fec438,#f9ba3d,#e8bb2e,#d3bf27,#bbc430,#a0c841,#83cc57,#67cd6d,#4dcc82,#39c895,#2dc4a5,#1cc0b4,#04bbc1,#06b6ce,#16afda,#1fa6e1,#249de7,#2a93ed,#2d89f5,#317efb,#3c72ff,#4466fd,#475bf9,#4850f2,#4744e9,#463adb,#4331c8,#402bb7,#412dbc,#4433cc,#463adb,#4743e7,#484cef,#4755f6,#465efb,#4368fd,#3c71ff,#327cfc,#2e85f8,#2c8ef2,#2896eb)"></i><i style="margin-bottom:-0.5px;height:2.007px;background:linear-gradient(90deg,#fec338,#f8ba3d,#e7bb2e,#d2bf27,#bac430,#9fc942,#82cc57,#66cd6d,#4ccb83,#38c895,#2dc4a6,#1bc0b4,#04bbc2,#06b5cf,#17aeda,#1fa6e2,#259de7,#2a93ee,#2d89f6,#317efb,#3c71ff,#4466fd,#475af9,#484ff2,#4744e8,#4639da,#4331c7,#402bb7,#412dbc,#4433cc,#463adb,#4743e7,#484cf0,#4755f6,#465efb,#4368fe,#3c72ff,#327cfc,#2e85f8,#2c8ef1,#2796eb)"></i></div>
<div class="b" style="left:42.0px;top:199.0px;width:139.6px;height:138.5px"></div>
<div class="t" style="left:42.0px;top:186.6px;width:139.6px">Lee</div>
<div class="l" style="left:47.6px;top:264.8px">Rearfoot strike</div>
<div class="l" style="left:47.6px;top:290.4px">Midfoot strike</div>
<div class="l" style="left:47.6px;top:316.0px">Forefoot strike</div>
<div class="p" style="left:220.0px;top:199.2px;width:139.2px;height:138.7px"><i style="margin-bottom:-0.5px;height:2.510px;background:linear-gradient(90deg,#f6f01f,#f5ee21,#f5ec22,#f5e924,#f5e725,#f5e426,#f5e228,#f6df29,#f7dd2a,#f8da2b,#f9d82c,#fad52d,#fbd32f,#fcd030,#fdce31,#fdcb33,#fec934,#fec636,#fec438,#fec239,#febf3b,#fdbd3d,#fbbc3d,#f9ba3d,#f6ba3b,#f2ba38,#efba35,#ebba32,#e8bb2e,#e4bb2c,#e0bc2a,#dbbd29,#d7be28,#d3bf27,#cec028,#c9c129,#c5c22a,#c0c32d,#bbc430,#b6c533,#b0c636)"></i><i style="margin-bottom:-0.5px;height:2.510px;background:linear-gradient(90deg,#f6f11f,#f5ee21,#f5ec22,#f5e924,#f5e725,#f5e426,#f5e228,#f6df29,#f7dd2a,#f8da2b,#f9d82c,#fad52d,#fbd32f,#fcd030,#fdce31,#fdcb33,#fec934,#fec636,#fec438,#fec239,#febf3b,#fdbd3d,#fbbc3d,#f9bb3d,#f6ba3b,#f2ba38,#efba35,#ebba32,#e8bb2e,#e4bb2c,#e0bc2a,#dcbd29,#d7be28,#d3bf27,#cec028,#cac129,#c5c22a,#c0c32d,#bbc430,#b6c533,#b0c636)"></i><i style="margin-bottom:-0.5px;height:2.510px;background:linear-gradient(90deg,#f6f11f,#f5ee21,#f5ec22,#f5e924,#f5e725,#f5e426,#f5e228,#f6df29,#f7dd2a,#f8da2b,#f9d82c,#fad52d,#fbd32f,#fcd030,#fdce31,#fdcb33,#fec934,#fec636,#fec438,#fec239,#febf3b,#fdbd3d,#fbbc3d,#f9bb3d,#f6ba3b,#f2ba38,#efba35,#ebba32,#e8bb2e,#e4bb2c,#e0bc2a,#dcbd29,#d7be28,#d3bf27,#cec028,#cac129,#c5c22a,#c0c32d,#bbc42f,#b6c532,#b1c636)"></i><i style="margin-bottom:-0.5px;height:2.510px;background:linear-gradient(90deg,#f6f11f,#f5ee21,#f5ec22,#f5e924,#f5e725,#f5e526,#f5e227,#f6df29,#f7dd2a,#f8da2b,#f9d82c,#fad52d,#fbd32f,#fcd030,#fdce31,#fdcb33,#fec934,#fec636,#fec438,#fec239,#febf3b,#febd3c,#fbbc3d,#f9bb3d,#f6ba3b,#f3ba38,#efba35,#ebba32,#e8bb2f,#e4bb2c,#e0bc2a,#dcbd29,#d7be28,#d3bf27,#cfc028,#cac129,#c5c22a,#c0c32d,#bbc42f,#b6c532,#b1c636)"></i><i style="margin-bottom:-0.5px;height:2.510px;background:linear-gradient(90deg,#f6f11f,#f5ee21,#f5ec22,#f5ea24,#f5e725,#f5e526,#f5e227,#f6e029,#f7dd2a,#f8da2b,#f9d82c,#fad52d,#fbd32e,#fcd030,#fdce31,#fdcb33,#fec934,#fec736,#fec437,#fec239,#fec03b,#febd3c,#fbbc3d,#f9bb3d,#f6ba3b,#f3ba38,#efba35,#ecba32,#e8bb2f,#e4bb2c,#e0bc2a,#dcbd29,#d8be28,#d3bf27,#cfc028,#cac129,#c5c22a,#c0c32d,#bbc42f,#b6c532,#b1c635)"></i><i style="margin-bottom:-0.5px;height:2.510px;background:linear-gradient(90deg,#f6f11f,#f5ee21,#f5ec22,#f5ea24,#f5e725,#f5e526,#f5e227,#f6e028,#f7dd2a,#f8db2b,#f9d82c,#fad52d,#fbd32e,#fcd030,#fdce31,#fdcb32,#fec934,#fec736,#fec437,#fec239,#fec03b,#febd3c,#fbbc3d,#f9bb3d,#f6ba3b,#f3ba38,#efba35,#ecba32,#e8bb2f,#e4bb2c,#e0bc2a,#dcbd29,#d8be28,#d3bf27,#cfc028,#cac129,#c5c22a,#c0c32d,#bbc42f,#b6c532,#b1c635)"></i><i style="margin-bottom:-0.5px;height:2.510px;background:linear-gradient(90deg,#f6f11f,#f5ee21,#f5ec22,#f5ea24,#f5e725,#f5e526,#f5e227,#f6e028,#f7dd2a,#f7db2b,#f9d82c,#fad52d,#fbd32e,#fcd030,#fdce31,#fdcb32,#fec934,#fec736,#fec437,#fec239,#fec03b,#febd3c,#fbbc3d,#f9bb3d,#f6ba3b,#f3ba38,#efba35,#ecba32,#e8bb2f,#e4bb2c,#e0bc2b,#dcbd29,#d8be28,#d3bf27,#cfc028,#cac129,#c6c22a,#c1c32d,#bcc42f,#b6c532,#b1c635)"></i><i style="margin-bottom:-0.5px;height:2.510px;background:linear-gradient(90deg,#f6f11f,#f5ef21,#f5ec22,#f5ea24,#f5e725,#f5e526,#f5e227,#f6e028,#f6dd2a,#f7db2b,#f9d82c,#fad62d,#fbd32e,#fcd030,#fdce31,#fdcc32,#fec934,#fec736,#fec437,#fec239,#fec03b,#febe3c,#fbbc3d,#f9bb3d,#f6ba3b,#f3ba39,#f0ba36,#ecba32,#e8bb2f,#e4bb2c,#e0bc2b,#dcbd29,#d8be28,#d4bf27,#cfc028,#cac129,#c6c22a,#c1c32c,#bcc42f,#b7c532,#b1c635)"></i><i style="margin-bottom:-0.5px;height:2.510px;background:linear-gradient(90deg,#f6f11f,#f5ef21,#f5ec22,#f5ea24,#f5e725,#f5e526,#f5e227,#f6e028,#f6dd29,#f7db2b,#f9d82c,#fad62d,#fbd32e,#fcd130,#fdce31,#fdcc32,#fec934,#fec736,#fec437,#fec239,#fec03b,#febe3c,#fcbc3d,#f9bb3d,#f6ba3c,#f3ba39,#f0ba36,#ecba32,#e8bb2f,#e5bb2c,#e0bc2b,#dcbd29,#d8be28,#d4bf28,#cfc028,#cbc129,#c6c22a,#c1c32c,#bcc42f,#b7c532,#b1c635)"></i><i style="margin-bottom:-0.5px;height:2.510px;background:linear-gradient(90deg,#f6f11f,#f5ef20,#f5ec22,#f5ea24,#f5e725,#f5e526,#f5e227,#f6e028,#f6dd29,#f7db2b,#f9d82c,#fad62d,#fbd32e,#fcd130,#fdce31,#fdcc32,#fec934,#fec735,#fec437,#fec239,#fec03b,#febe3c,#fcbc3d,#f9bb3d,#f6ba3c,#f3ba39,#f0ba36,#ecba32,#e8bb2f,#e5bb2c,#e1bc2b,#ddbd29,#d8be28,#d4bf28,#cfc028,#cbc129,#c6c22a,#c1c32c,#bcc42f,#b7c532,#b2c635)"></i><i style="margin-bottom:-0.5px;height:2.510px;background:linear-gradient(90deg,#f6f11e,#f5ef20,#f5ec22,#f5ea24,#f5e725,#f5e526,#f5e327,#f6e028,#f6dd29,#f7db2b,#f8d82c,#fad62d,#fbd32e,#fcd12f,#fdce31,#fdcc32,#fec934,#fec735,#fec537,#fec239,#fec03b,#febe3c,#fcbc3d,#f9bb3d,#f7ba3c,#f3ba39,#f0ba36,#ecba33,#e9bb2f,#e5bb2d,#e1bc2b,#ddbd29,#d8be28,#d4bf28,#cfc028,#cbc129,#c6c22a,#c1c32c,#bcc42f,#b7c532,#b2c635)"></i><i style="margin-bottom:-0.5px;height:2.510px;background:linear-gradient(90deg,#f6f11e,#f5ef20,#f5ec22,#f5ea24,#f5e825,#f5e526,#f5e327,#f6e028,#f6dd29,#f7db2b,#f8d82c,#fad62d,#fbd32e,#fcd12f,#fdce31,#fdcc32,#fec934,#fec735,#fec537,#fec239,#fec03b,#febe3c,#fcbc3d,#f9bb3d,#f7ba3c,#f3ba39,#f0ba36,#ecba33,#e9bb2f,#e5bb2d,#e1bc2b,#ddbd29,#d8be28,#d4bf28,#d0c028,#cbc129,#c6c22a,#c1c32c,#bcc42f,#b7c532,#b2c635)"></i><i style="margin-bottom:-0.5px;height:2.510px;background:linear-gradient(90deg,#f6f11e,#f5ef20,#f5ec22,#f5ea24,#f5e825,#f5e526,#f5e327,#f6e028,#f6de29,#f7db2b,#f8d82c,#fad62d,#fbd32e,#fcd12f,#fdce31,#fdcc32,#fec934,#fec735,#fec537,#fec239,#fec03b,#febe3c,#fcbc3d,#f9bb3d,#f7ba3c,#f3ba39,#f0ba36,#ecba33,#e9bb2f,#e5bb2d,#e1bc2b,#ddbd29,#d9be28,#d4bf28,#d0c027,#cbc129,#c6c22a,#c1c32c,#bcc42f,#b7c532,#b2c635)"></i><i style="margin-bottom:-0.5px;height:2.510px;background:linear-gradient(90deg,#f6f11e,#f6ef20,#f5ed22,#f5ea24,#f5e825,#f5e526,#f5e327,#f6e028,#f6de29,#f7db2a,#f8d92c,#f9d62d,#fbd32e,#fcd12f,#fdce31,#fdcc32,#fec934,#fec735,#fec537,#fec239,#fec03b,#febe3c,#fcbc3d,#fabb3d,#f7ba3c,#f3ba39,#f0ba36,#ecba33,#e9bb2f,#e5bb2d,#e1bc2b,#ddbd29,#d9be28,#d4bf28,#d0bf27,#cbc029,#c6c22a,#c2c32c,#bcc42f,#b7c531,#b2c535)"></i><i style="margin-bottom:-0.5px;height:2.510px;background:linear-gradient(90deg,#f6f11e,#f6ef20,#f5ed22,#f5ea23,#f5e825,#f5e526,#f5e327,#f6e028,#f6de29,#f7db2a,#f8d92c,#f9d62d,#fbd32e,#fcd12f,#fcce31,#fdcc32,#feca34,#fec735,#fec537,#fec239,#fec03a,#febe3c,#fcbc3d,#fabb3d,#f7ba3c,#f4ba39,#f0ba36,#edba33,#e9bb30,#e5bb2d,#e1bc2b,#ddbd29,#d9be28,#d4bf28,#d0bf27,#cbc029,#c7c12a,#c2c22c,#bdc42f,#b8c531,#b2c535)"></i><i style="margin-bottom:-0.5px;height:2.510px;background:linear-gradient(90deg,#f6f11e,#f6ef20,#f5ed22,#f5ea23,#f5e825,#f5e526,#f5e327,#f6e028,#f6de29,#f7db2a,#f8d92c,#f9d62d,#fbd42e,#fcd12f,#fccf31,#fdcc32,#feca34,#fec735,#fec537,#fec339,#fec03a,#febe3c,#fcbc3d,#fabb3d,#f7ba3c,#f4ba39,#f0ba36,#edba33,#e9bb30,#e5bb2d,#e1bc2b,#ddbd29,#d9be28,#d5be28,#d0bf27,#cbc029,#c7c12a,#c2c22c,#bdc32f,#b8c431,#b2c535)"></i><i style="margin-bottom:-0.5px;height:2.510px;background:linear-gradient(90deg,#f6f11e,#f6ef20,#f5ed22,#f5ea23,#f5e825,#f5e526,#f5e327,#f6e028,#f6de29,#f7db2a,#f8d92c,#f9d62d,#fad42e,#fcd12f,#fccf31,#fdcc32,#feca33,#fec735,#fec537,#fec339,#fec03a,#febe3c,#fcbc3d,#fabb3d,#f7ba3c,#f4ba39,#f0ba36,#edba33,#e9bb30,#e5bb2d,#e1bc2b,#ddbd29,#d9be28,#d5be28,#d0bf27,#ccc028,#c7c12a,#c2c22c,#bdc32e,#b8c431,#b3c534)"></i><i style="margin-bottom:-0.5px;height:2.510px;background:linear-gradient(90deg,#f6f21e,#f6ef20,#f5ed22,#f5ea23,#f5e825,#f5e526,#f5e327,#f6e028,#f6de29,#f7db2a,#f8d92c,#f9d62d,#fad42e,#fcd12f,#fccf31,#fdcc32,#feca33,#fec735,#fec537,#fec339,#fec03a,#febe3c,#fcbd3d,#fabb3d,#f7ba3c,#f4ba39,#f0ba36,#edba33,#e9bb30,#e6bb2d,#e1bc2b,#ddbd29,#d9bd28,#d5be28,#d0bf27,#ccc028,#c7c12a,#c2c22c,#bdc32e,#b8c431,#b3c534)"></i><i style="margin-bottom:-0.5px;height:2.510px;background:linear-gradient(90deg,#f6f21e,#f6ef20,#f5ed22,#f5ea23,#f5e825,#f5e626,#f5e327,#f6e128,#f6de29,#f7db2a,#f8d92c,#f9d62d,#fad42e,#fbd12f,#fccf30,#fdcc32,#feca33,#fec735,#fec537,#fec339,#fec03a,#febe3c,#fcbd3d,#fabb3d,#f7ba3c,#f4ba39,#f1ba36,#edba33,#e9bb30,#e6bb2d,#e2bc2b,#debd29,#d9bd28,#d5be28,#d1bf27,#ccc028,#c7c12a,#c2c22c,#bdc32e,#b8c431,#b3c534)"></i><i style="margin-bottom:-0.5px;height:2.510px;background:linear-gradient(90deg,#f6f21e,#f6ef20,#f5ed22,#f5eb23,#f5e825,#f5e626,#f5e327,#f6e128,#f6de29,#f7dc2a,#f8d92c,#f9d62d,#fad42e,#fbd12f,#fccf30,#fdcc32,#feca33,#fec735,#fec537,#fec338,#fec13a,#febe3c,#fcbd3d,#fabb3d,#f7ba3c,#f4ba3a,#f1ba37,#edba33,#e9bb30,#e6bb2d,#e2bc2b,#debd29,#d9bd28,#d5be28,#d1bf27,#ccc028,#c7c12a,#c2c22c,#bdc32e,#b8c431,#b3c534)"></i><i style="margin-bottom:-0.5px;height:2.510px;background:linear-gradient(90deg,#f6f21e,#f6ef20,#f5ed22,#f5eb23,#f5e825,#f5e626,#f5e327,#f6e128,#f6de29,#f7dc2a,#f8d92b,#f9d62d,#fad42e,#fbd12f,#fccf30,#fdcc32,#feca33,#fec835,#fec537,#fec338,#fec13a,#febe3c,#fcbd3d,#fabb3d,#f8ba3d,#f4ba3a,#f1ba37,#edba33,#eabb30,#e6bb2d,#e2bc2b,#debd29,#dabd28,#d5be28,#d1bf27,#ccc028,#c7c129,#c2c22b,#bdc32e,#b8c431,#b3c534)"></i><i style="margin-bottom:-0.5px;height:2.510px;background:linear-gradient(90deg,#f6f21e,#f6ef20,#f5ed22,#f5eb23,#f5e825,#f5e626,#f5e327,#f6e128,#f6de29,#f7dc2a,#f8d92b,#f9d72d,#fad42e,#fbd12f,#fccf30,#fdcc32,#feca33,#fec835,#fec537,#fec338,#fec13a,#febe3c,#fcbd3d,#fabb3d,#f8ba3d,#f4ba3a,#f1ba37,#edba34,#eabb30,#e6bb2d,#e2bc2b,#debd29,#dabd28,#d5be28,#d1bf27,#ccc028,#c7c129,#c3c22b,#bec32e,#b9c431,#b3c534)"></i><i style="margin-bottom:-0.5px;height:2.510px;background:linear-gradient(90deg,#f6f21e,#f6f020,#f5ed22,#f5eb23,#f5e825,#f5e626,#f5e327,#f6e128,#f6de29,#f7dc2a,#f8d92b,#f9d72d,#fad42e,#fbd22f,#fccf30,#fdcd32,#feca33,#fec835,#fec537,#fec338,#fec13a,#febe3c,#fcbd3d,#fabb3d,#f8ba3d,#f4ba3a,#f1ba37,#edba34,#eabb30,#e6bb2d,#e2bc2b,#debd2a,#dabd28,#d5be28,#d1bf27,#ccc028,#c8c129,#c3c22b,#bec32e,#b9c431,#b3c534)"></i><i style="margin-bottom:-0.5px;height:2.510px;background:linear-gradient(90deg,#f6f21e,#f6f020,#f5ed21,#f5eb23,#f5e825,#f5e626,#f5e327,#f6e128,#f6de29,#f7dc2a,#f8d92b,#f9d72d,#fad42e,#fbd22f,#fccf30,#fdcd32,#feca33,#fec835,#fec537,#fec338,#fec13a,#febe3c,#fcbd3d,#fabb3d,#f8ba3d,#f4ba3a,#f1ba37,#edba34,#eabb30,#e6bb2d,#e2bc2b,#debc2a,#dabd28,#d6be28,#d1bf27,#ccc028,#c8c129,#c3c22b,#bec32e,#b9c431,#b4c534)"></i><i style="margin-bottom:-0.5px;height:2.510px;background:linear-gradient(90deg,#f6f21e,#f6f020,#f5ed21,#f5eb23,#f5e825,#f5e626,#f5e327,#f6e128,#f6de29,#f7dc2a,#f8d92b,#f9d72d,#fad42e,#fbd22f,#fccf30,#fdcd32,#feca33,#fec835,#fec537,#fec338,#fec13a,#febf3c,#fdbd3d,#fabb3d,#f8ba3d,#f4ba3a,#f1ba37,#eeba34,#eaba30,#e6bb2d,#e2bc2b,#debc2a,#dabd28,#d6be28,#d1bf27,#cdc028,#c8c129,#c3c22b,#bec32e,#b9c431,#b4c534)"></i><i style="margin-bottom:-0.5px;height:2.510px;background:linear-gradient(90deg,#f6f21e,#f6f020,#f5ed21,#f5eb23,#f5e824,#f5e626,#f5e427,#f5e128,#f6de29,#f7dc2a,#f8d92b,#f9d72d,#fad42e,#fbd22f,#fccf30,#fdcd32,#feca33,#fec835,#fec636,#fec338,#fec13a,#febf3c,#fdbd3d,#fabb3d,#f8ba3d,#f5ba3a,#f1ba37,#eeba34,#eaba31,#e6bb2d,#e2bc2b,#debc2a,#dabd28,#d6be28,#d1bf27,#cdc028,#c8c129,#c3c22b,#bec32e,#b9c430,#b4c534)"></i><i style="margin-bottom:-0.5px;height:2.510px;background:linear-gradient(90deg,#f6f21e,#f6f020,#f5ed21,#f5eb23,#f5e924,#f5e626,#f5e427,#f5e128,#f6df29,#f7dc2a,#f8d92b,#f9d72d,#fad42e,#fbd22f,#fccf30,#fdcd32,#feca33,#fec835,#fec636,#fec338,#fec13a,#febf3c,#fdbd3d,#fabb3d,#f8ba3d,#f5ba3a,#f1ba37,#eeba34,#eaba31,#e7bb2d,#e3bc2c,#debc2a,#dabd28,#d6be28,#d2bf27,#cdc028,#c8c129,#c3c22b,#bec32e,#b9c430,#b4c534)"></i><i style="margin-bottom:-0.5px;height:2.510px;background:linear-gradient(90deg,#f6f21e,#f6f020,#f5ed21,#f5eb23,#f5e924,#f5e626,#f5e427,#f5e128,#f6df29,#f7dc2a,#f8da2b,#f9d72c,#fad42e,#fbd22f,#fccf30,#fdcd32,#fdca33,#fec835,#fec636,#fec338,#fec13a,#febf3c,#fdbd3d,#fabc3d,#f8ba3d,#f5ba3a,#f1ba37,#eeba34,#eaba31,#e7bb2d,#e3bc2c,#dfbc2a,#dabd28,#d6be28,#d2bf27,#cdc028,#c8c129,#c3c22b,#bec32e,#b9c430,#b4c533)"></i><i style="margin-bottom:-0.5px;height:2.510px;background:linear-gradient(90deg,#f6f21d,#f6f01f,#f5ee21,#f5eb23,#f5e924,#f5e626,#f5e427,#f5e128,#f6df29,#f7dc2a,#f8da2b,#f9d72c,#fad42e,#fbd22f,#fccf30,#fdcd32,#fdca33,#fec835,#fec636,#fec338,#fec13a,#febf3c,#fdbd3d,#fbbc3d,#f8ba3d,#f5ba3a,#f1ba37,#eeba34,#eaba31,#e7bb2e,#e3bc2c,#dfbc2a,#dabd28,#d6be28,#d2bf27,#cdc028,#c8c129,#c4c22b,#bfc32e,#bac430,#b4c533)"></i><i style="margin-bottom:-0.5px;height:2.510px;background:linear-gradient(90deg,#f6f21d,#f6f01f,#f5ee21,#f5eb23,#f5e924,#f5e626,#f5e427,#f5e128,#f6df29,#f7dc2a,#f8da2b,#f9d72c,#fad52e,#fbd22f,#fccf30,#fdcd32,#fdcb33,#fec835,#fec636,#fec338,#fec13a,#febf3b,#fdbd3d,#fbbc3d,#f8ba3d,#f5ba3a,#f2ba37,#eeba34,#eaba31,#e7bb2e,#e3bc2c,#dfbc2a,#dbbd28,#d6be28,#d2bf27,#cdc028,#c9c129,#c4c22b,#bfc32d,#bac430,#b4c533)"></i><i style="margin-bottom:-0.5px;height:2.510px;background:linear-gradient(90deg,#f6f21d,#f6f01f,#f5ee21,#f5eb23,#f5e924,#f5e625,#f5e427,#f5e128,#f6df29,#f7dc2a,#f8da2b,#f9d72c,#fad52e,#fbd22f,#fcd030,#fdcd31,#fdcb33,#fec834,#fec636,#fec338,#fec13a,#febf3b,#fdbd3d,#fbbc3d,#f8ba3d,#f5ba3a,#f2ba37,#eeba34,#ebba31,#e7bb2e,#e3bc2c,#dfbc2a,#dbbd28,#d6be28,#d2bf27,#cdc028,#c9c129,#c4c22b,#bfc32d,#bac430,#b5c533)"></i><i style="margin-bottom:-0.5px;height:2.510px;background:linear-gradient(90deg,#f6f21d,#f6f01f,#f5ee21,#f5eb23,#f5e924,#f5e625,#f5e427,#f5e128,#f6df29,#f7dc2a,#f8da2b,#f9d72c,#fad52e,#fbd22f,#fcd030,#fdcd31,#fdcb33,#fec834,#fec636,#fec438,#fec13a,#febf3b,#fdbd3d,#fbbc3d,#f8ba3d,#f5ba3a,#f2ba38,#eeba34,#ebba31,#e7bb2e,#e3bc2c,#dfbc2a,#dbbd29,#d6be28,#d2bf27,#cdc028,#c9c129,#c4c22b,#bfc32d,#bac430,#b5c533)"></i><i style="margin-bottom:-0.5px;height:2.510px;background:linear-gradient(90deg,#f6f31d,#f6f01f,#f5ee21,#f5eb23,#f5e924,#f5e625,#f5e427,#f5e228,#f6df29,#f7dc2a,#f8da2b,#f9d72c,#fad52e,#fbd22f,#fcd030,#fdcd31,#fdcb33,#fec834,#fec636,#fec438,#fec13a,#febf3b,#fdbd3d,#fbbc3d,#f8ba3d,#f5ba3b,#f2ba38,#eeba35,#ebba31,#e7bb2e,#e3bc2c,#dfbc2a,#dbbd29,#d7be28,#d2bf27,#cec028,#c9c129,#c4c22b,#bfc32d,#bac430,#b5c533)"></i><i style="margin-bottom:-0.5px;height:2.510px;background:linear-gradient(90deg,#f6f31d,#f6f01f,#f5ee21,#f5eb23,#f5e924,#f5e725,#f5e427,#f5e228,#f6df29,#f7dc2a,#f8da2b,#f9d72c,#fad52e,#fbd22f,#fcd030,#fdcd31,#fdcb33,#fec834,#fec636,#fec438,#fec13a,#febf3b,#fdbd3d,#fbbc3d,#f9ba3d,#f5ba3b,#f2ba38,#eeba35,#ebba31,#e7bb2e,#e3bc2c,#dfbc2a,#dbbd29,#d7be28,#d2bf27,#cec028,#c9c129,#c4c22b,#bfc32d,#bac430,#b5c533)"></i><i style="margin-bottom:-0.5px;height:2.510px;background:linear-gradient(90deg,#f7f31d,#f6f01f,#f5ee21,#f5ec23,#f5e924,#f5e725,#f5e427,#f5e228,#f6df29,#f7dd2a,#f8da2b,#f9d72c,#fad52d,#fbd22f,#fcd030,#fdcd31,#fdcb33,#fec834,#fec636,#fec438,#fec139,#febf3b,#fdbd3d,#fbbc3d,#f9ba3d,#f5ba3b,#f2ba38,#efba35,#ebba31,#e7bb2e,#e3bb2c,#dfbc2a,#dbbd29,#d7be28,#d2bf27,#cec028,#c9c129,#c4c22a,#bfc32d,#bac430,#b5c533)"></i><i style="margin-bottom:-0.5px;height:2.510px;background:linear-gradient(90deg,#f7f31d,#f6f01f,#f5ee21,#f5ec23,#f5e924,#f5e725,#f5e426,#f5e228,#f6df29,#f7dd2a,#f8da2b,#f9d82c,#fad52d,#fbd22f,#fcd030,#fdcd31,#fdcb33,#fec934,#fec636,#fec438,#fec239,#febf3b,#fdbd3d,#fbbc3d,#f9ba3d,#f6ba3b,#f2ba38,#efba35,#ebba31,#e7bb2e,#e4bb2c,#dfbc2a,#dbbd29,#d7be28,#d3bf27,#cec028,#c9c129,#c5c22a,#c0c32d,#bbc430,#b5c533)"></i><i style="margin-bottom:-0.5px;height:2.510px;background:linear-gradient(90deg,#f7f31d,#f6f01f,#f5ee21,#f5ec22,#f5e924,#f5e725,#f5e426,#f5e228,#f6df29,#f7dd2a,#f8da2b,#f9d82c,#fad52d,#fbd32f,#fcd030,#fdce31,#fdcb33,#fec934,#fec636,#fec438,#fec239,#febf3b,#fdbd3d,#fbbc3d,#f9ba3d,#f6ba3b,#f2ba38,#efba35,#ebba32,#e8bb2e,#e4bb2c,#e0bc2a,#dbbd29,#d7be28,#d3bf27,#cec028,#c9c129,#c5c22a,#c0c32d,#bbc430,#b5c533)"></i><i style="margin-bottom:-0.5px;height:2.510px;background:linear-gradient(90deg,#f7f31d,#f6f01f,#f5ee21,#f5ec22,#f5e924,#f5e725,#f5e426,#f5e228,#f6df29,#f7dd2a,#f8da2b,#f9d82c,#fad52d,#fbd32f,#fcd030,#fdce31,#fdcb33,#fec934,#fec636,#fec438,#fec239,#febf3b,#fdbd3d,#fbbc3d,#f9bb3d,#f6ba3b,#f2ba38,#efba35,#ebba32,#e8bb2e,#e4bb2c,#e0bc2a,#dcbd29,#d7be28,#d3bf27,#cec028,#cac129,#c5c22a,#c0c32d,#bbc430,#b6c533)"></i><i style="margin-bottom:-0.5px;height:2.510px;background:linear-gradient(90deg,#f7f31d,#f6f11f,#f5ee21,#f5ec22,#f5e924,#f5e725,#f5e426,#f5e228,#f6df29,#f7dd2a,#f8da2b,#f9d82c,#fad52d,#fbd32f,#fcd030,#fdce31,#fdcb33,#fec934,#fec636,#fec438,#fec239,#febf3b,#fdbd3d,#fbbc3d,#f9bb3d,#f6ba3b,#f2ba38,#efba35,#ebba32,#e8bb2e,#e4bb2c,#e0bc2a,#dcbd29,#d7be28,#d3bf27,#cec028,#cac129,#c5c22a,#c0c32d,#bbc430,#b6c532)"></i><i style="margin-bottom:-0.5px;height:2.510px;background:linear-gradient(90deg,#f7f31d,#f6f11f,#f5ee21,#f5ec22,#f5e924,#f5e725,#f5e426,#f5e227,#f6df29,#f7dd2a,#f8da2b,#f9d82c,#fad52d,#fbd32f,#fcd030,#fdce31,#fdcb33,#fec934,#fec636,#fec438,#fec239,#febf3b,#febd3c,#fbbc3d,#f9bb3d,#f6ba3b,#f3ba38,#efba35,#ebba32,#e8bb2f,#e4bb2c,#e0bc2a,#dcbd29,#d7be28,#d3bf27,#cfc028,#cac129,#c5c22a,#c0c32d,#bbc42f,#b6c532)"></i><i style="margin-bottom:-0.5px;height:2.510px;background:linear-gradient(90deg,#f7f31d,#f6f11f,#f5ee21,#f5ec22,#f5ea24,#f5e725,#f5e526,#f5e227,#f6e029,#f7dd2a,#f8da2b,#f9d82c,#fad52d,#fbd32e,#fcd030,#fdce31,#fdcb33,#fec934,#fec736,#fec437,#fec239,#fec03b,#febd3c,#fbbc3d,#f9bb3d,#f6ba3b,#f3ba38,#efba35,#ecba32,#e8bb2f,#e4bb2c,#e0bc2a,#dcbd29,#d8be28,#d3bf27,#cfc028,#cac129,#c5c22a,#c0c32d,#bbc42f,#b6c532)"></i><i style="margin-bottom:-0.5px;height:2.510px;background:linear-gradient(90deg,#f7f31d,#f6f11f,#f5ee21,#f5ec22,#f5ea24,#f5e725,#f5e526,#f5e227,#f6e029,#f7dd2a,#f8da2b,#f9d82c,#fad52d,#fbd32e,#fcd030,#fdce31,#fdcb32,#fec934,#fec736,#fec437,#fec239,#fec03b,#febd3c,#fbbc3d,#f9bb3d,#f6ba3b,#f3ba38,#efba35,#ecba32,#e8bb2f,#e4bb2c,#e0bc2a,#dcbd29,#d8be28,#d3bf27,#cfc028,#cac129,#c5c22a,#c0c32d,#bbc42f,#b6c532)"></i><i style="margin-bottom:-0.5px;height:2.510px;background:linear-gradient(90deg,#f7f31d,#f6f11f,#f5ee21,#f5ec22,#f5ea24,#f5e725,#f5e526,#f5e227,#f6e028,#f7dd2a,#f7db2b,#f9d82c,#fad52d,#fbd32e,#fcd030,#fdce31,#fdcb32,#fec934,#fec736,#fec437,#fec239,#fec03b,#febd3c,#fbbc3d,#f9bb3d,#f6ba3b,#f3ba38,#efba35,#ecba32,#e8bb2f,#e4bb2c,#e0bc2b,#dcbd29,#d8be28,#d3bf27,#cfc028,#cac129,#c6c22a,#c1c32d,#bbc42f,#b6c532)"></i><i style="margin-bottom:-0.5px;height:2.510px;background:linear-gradient(90deg,#f7f31d,#f6f11f,#f5ef21,#f5ec22,#f5ea24,#f5e725,#f5e526,#f5e227,#f6e028,#f7dd2a,#f7db2b,#f9d82c,#fad62d,#fbd32e,#fcd030,#fdce31,#fdcc32,#fec934,#fec736,#fec437,#fec239,#fec03b,#febe3c,#fbbc3d,#f9bb3d,#f6ba3b,#f3ba38,#efba36,#ecba32,#e8bb2f,#e4bb2c,#e0bc2b,#dcbd29,#d8be28,#d4bf27,#cfc028,#cac129,#c6c22a,#c1c32c,#bcc42f,#b6c532)"></i><i style="margin-bottom:-0.5px;height:2.510px;background:linear-gradient(90deg,#f7f31d,#f6f11f,#f5ef21,#f5ec22,#f5ea24,#f5e725,#f5e526,#f5e227,#f6e028,#f6dd29,#f7db2b,#f9d82c,#fad62d,#fbd32e,#fcd130,#fdce31,#fdcc32,#fec934,#fec736,#fec437,#fec239,#fec03b,#febe3c,#fcbc3d,#f9bb3d,#f6ba3c,#f3ba39,#f0ba36,#ecba32,#e8bb2f,#e5bb2c,#e0bc2b,#dcbd29,#d8be28,#d4bf27,#cfc028,#cac129,#c6c22a,#c1c32c,#bcc42f,#b7c532)"></i><i style="margin-bottom:-0.5px;height:2.510px;background:linear-gradient(90deg,#f7f31c,#f6f11f,#f5ef20,#f5ec22,#f5ea24,#f5e725,#f5e526,#f5e227,#f6e028,#f6dd29,#f7db2b,#f9d82c,#fad62d,#fbd32e,#fcd130,#fdce31,#fdcc32,#fec934,#fec736,#fec437,#fec239,#fec03b,#febe3c,#fcbc3d,#f9bb3d,#f6ba3c,#f3ba39,#f0ba36,#ecba32,#e8bb2f,#e5bb2c,#e1bc2b,#ddbd29,#d8be28,#d4bf28,#cfc028,#cbc129,#c6c22a,#c1c32c,#bcc42f,#b7c532)"></i><i style="margin-bottom:-0.5px;height:2.510px;background:linear-gradient(90deg,#f7f31c,#f6f11e,#f5ef20,#f5ec22,#f5ea24,#f5e725,#f5e526,#f5e227,#f6e028,#f6dd29,#f7db2b,#f8d82c,#fad62d,#fbd32e,#fcd12f,#fdce31,#fdcc32,#fec934,#fec735,#fec537,#fec239,#fec03b,#febe3c,#fcbc3d,#f9bb3d,#f7ba3c,#f3ba39,#f0ba36,#ecba32,#e9bb2f,#e5bb2d,#e1bc2b,#ddbd29,#d8be28,#d4bf28,#cfc028,#cbc129,#c6c22a,#c1c32c,#bcc42f,#b7c532)"></i><i style="margin-bottom:-0.5px;height:2.510px;background:linear-gradient(90deg,#f7f41c,#f6f11e,#f5ef20,#f5ec22,#f5ea24,#f5e825,#f5e526,#f5e327,#f6e028,#f6dd29,#f7db2b,#f8d82c,#fad62d,#fbd32e,#fcd12f,#fdce31,#fdcc32,#fec934,#fec735,#fec537,#fec239,#fec03b,#febe3c,#fcbc3d,#f9bb3d,#f7ba3c,#f3ba39,#f0ba36,#ecba33,#e9bb2f,#e5bb2d,#e1bc2b,#ddbd29,#d8be28,#d4bf28,#d0c028,#cbc129,#c6c22a,#c1c32c,#bcc42f,#b7c532)"></i><i style="margin-bottom:-0.5px;height:2.510px;background:linear-gradient(90deg,#f7f41c,#f6f11e,#f5ef20,#f5ec22,#f5ea24,#f5e825,#f5e526,#f5e327,#f6e028,#f6de29,#f7db2b,#f8d82c,#fad62d,#fbd32e,#fcd12f,#fdce31,#fdcc32,#fec934,#fec735,#fec537,#fec239,#fec03b,#febe3c,#fcbc3d,#f9bb3d,#f7ba3c,#f3ba39,#f0ba36,#ecba33,#e9bb2f,#e5bb2d,#e1bc2b,#ddbd29,#d9be28,#d4bf28,#d0c027,#cbc129,#c6c22a,#c1c32c,#bcc42f,#b7c532)"></i><i style="margin-bottom:-0.5px;height:2.510px;background:linear-gradient(90deg,#f7f41c,#f6f11e,#f6ef20,#f5ed22,#f5ea24,#f5e825,#f5e526,#f5e327,#f6e028,#f6de29,#f7db2a,#f8d92c,#f9d62d,#fbd32e,#fcd12f,#fdce31,#fdcc32,#fec934,#fec735,#fec537,#fec239,#fec03b,#febe3c,#fcbc3d,#fabb3d,#f7ba3c,#f3ba39,#f0ba36,#ecba33,#e9bb2f,#e5bb2d,#e1bc2b,#ddbd29,#d9be28,#d4bf28,#d0bf27,#cbc029,#c6c22a,#c1c32c,#bcc42f,#b7c531)"></i><i style="margin-bottom:-0.5px;height:2.510px;background:linear-gradient(90deg,#f7f41c,#f6f11e,#f6ef20,#f5ed22,#f5ea23,#f5e825,#f5e526,#f5e327,#f6e028,#f6de29,#f7db2a,#f8d92c,#f9d62d,#fbd32e,#fcd12f,#fcce31,#fdcc32,#feca34,#fec735,#fec537,#fec239,#fec03a,#febe3c,#fcbc3d,#fabb3d,#f7ba3c,#f4ba39,#f0ba36,#edba33,#e9bb30,#e5bb2d,#e1bc2b,#ddbd29,#d9be28,#d4bf28,#d0bf27,#cbc029,#c7c12a,#c2c22c,#bdc42f,#b8c531)"></i><i style="margin-bottom:-0.5px;height:2.510px;background:linear-gradient(90deg,#f7f41c,#f6f11e,#f6ef20,#f5ed22,#f5ea23,#f5e825,#f5e526,#f5e327,#f6e028,#f6de29,#f7db2a,#f8d92c,#f9d62d,#fbd42e,#fcd12f,#fccf31,#fdcc32,#feca34,#fec735,#fec537,#fec339,#fec03a,#febe3c,#fcbc3d,#fabb3d,#f7ba3c,#f4ba39,#f0ba36,#edba33,#e9bb30,#e5bb2d,#e1bc2b,#ddbd29,#d9be28,#d5be28,#d0bf27,#cbc029,#c7c12a,#c2c22c,#bdc32f,#b8c431)"></i><i style="margin-bottom:-0.5px;height:2.510px;background:linear-gradient(90deg,#f7f41c,#f6f11e,#f6ef20,#f5ed22,#f5ea23,#f5e825,#f5e526,#f5e327,#f6e028,#f6de29,#f7db2a,#f8d92c,#f9d62d,#fad42e,#fcd12f,#fccf31,#fdcc32,#feca33,#fec735,#fec537,#fec339,#fec03a,#febe3c,#fcbc3d,#fabb3d,#f7ba3c,#f4ba39,#f0ba36,#edba33,#e9bb30,#e5bb2d,#e1bc2b,#ddbd29,#d9be28,#d5be28,#d0bf27,#ccc028,#c7c12a,#c2c22c,#bdc32e,#b8c431)"></i><i style="margin-bottom:-0.5px;height:2.510px;background:linear-gradient(90deg,#f7f41c,#f6f21e,#f6ef20,#f5ed22,#f5ea23,#f5e825,#f5e526,#f5e327,#f6e028,#f6de29,#f7db2a,#f8d92c,#f9d62d,#fad42e,#fcd12f,#fccf31,#fdcc32,#feca33,#fec735,#fec537,#fec339,#fec03a,#febe3c,#fcbd3d,#fabb3d,#f7ba3c,#f4ba39,#f0ba36,#edba33,#e9bb30,#e6bb2d,#e1bc2b,#ddbd29,#d9bd28,#d5be28,#d0bf27,#ccc028,#c7c12a,#c2c22c,#bdc32e,#b8c431)"></i><i style="margin-bottom:-0.5px;height:2.510px;background:linear-gradient(90deg,#f7f41c,#f6f21e,#f6ef20,#f5ed22,#f5ea23,#f5e825,#f5e626,#f5e327,#f6e128,#f6de29,#f7db2a,#f8d92c,#f9d62d,#fad42e,#fbd12f,#fccf31,#fdcc32,#feca33,#fec735,#fec537,#fec339,#fec03a,#febe3c,#fcbd3d,#fabb3d,#f7ba3c,#f4ba39,#f1ba36,#edba33,#e9bb30,#e6bb2d,#e2bc2b,#debd29,#d9bd28,#d5be28,#d0bf27,#ccc028,#c7c12a,#c2c22c,#bdc32e,#b8c431)"></i><i style="margin-bottom:-0.5px;height:2.510px;background:linear-gradient(90deg,#f7f41c,#f6f21e,#f6ef20,#f5ed22,#f5ea23,#f5e825,#f5e626,#f5e327,#f6e128,#f6de29,#f7db2a,#f8d92c,#f9d62d,#fad42e,#fbd12f,#fccf30,#fdcc32,#feca33,#fec735,#fec537,#fec338,#fec03a,#febe3c,#fcbd3d,#fabb3d,#f7ba3c,#f4ba39,#f1ba37,#edba33,#e9bb30,#e6bb2d,#e2bc2b,#debd29,#d9bd28,#d5be28,#d1bf27,#ccc028,#c7c12a,#c2c22c,#bdc32e,#b8c431)"></i><i style="margin-bottom:-0.5px;height:2.510px;background:linear-gradient(90deg,#f7f41c,#f6f21e,#f6ef20,#f5ed22,#f5eb23,#f5e825,#f5e626,#f5e327,#f6e128,#f6de29,#f7dc2a,#f8d92b,#f9d62d,#fad42e,#fbd12f,#fccf30,#fdcc32,#feca33,#fec835,#fec537,#fec338,#fec13a,#febe3c,#fcbd3d,#fabb3d,#f7ba3d,#f4ba3a,#f1ba37,#edba33,#eabb30,#e6bb2d,#e2bc2b,#debd29,#dabd28,#d5be28,#d1bf27,#ccc028,#c7c129,#c2c22c,#bdc32e,#b8c431)"></i><i style="margin-bottom:-0.5px;height:2.510px;background:linear-gradient(90deg,#f7f41c,#f6f21e,#f6ef20,#f5ed22,#f5eb23,#f5e825,#f5e626,#f5e327,#f6e128,#f6de29,#f7dc2a,#f8d92b,#f9d72d,#fad42e,#fbd12f,#fccf30,#fdcc32,#feca33,#fec835,#fec537,#fec338,#fec13a,#febe3c,#fcbd3d,#fabb3d,#f8ba3d,#f4ba3a,#f1ba37,#edba33,#eabb30,#e6bb2d,#e2bc2b,#debd29,#dabd28,#d5be28,#d1bf27,#ccc028,#c7c129,#c3c22b,#bec32e,#b9c431)"></i><i style="margin-bottom:-0.5px;height:2.510px;background:linear-gradient(90deg,#f7f41c,#f6f21e,#f6f020,#f5ed22,#f5eb23,#f5e825,#f5e626,#f5e327,#f6e128,#f6de29,#f7dc2a,#f8d92b,#f9d72d,#fad42e,#fbd22f,#fccf30,#fdcd32,#feca33,#fec835,#fec537,#fec338,#fec13a,#febe3c,#fcbd3d,#fabb3d,#f8ba3d,#f4ba3a,#f1ba37,#edba34,#eabb30,#e6bb2d,#e2bc2b,#debd29,#dabd28,#d5be28,#d1bf27,#ccc028,#c8c129,#c3c22b,#bec32e,#b9c431)"></i><i style="margin-bottom:-0.5px;height:2.510px;background:linear-gradient(90deg,#f7f41c,#f6f21e,#f6f020,#f5ed21,#f5eb23,#f5e825,#f5e626,#f5e327,#f6e128,#f6de29,#f7dc2a,#f8d92b,#f9d72d,#fad42e,#fbd22f,#fccf30,#fdcd32,#feca33,#fec835,#fec537,#fec338,#fec13a,#febe3c,#fcbd3d,#fabb3d,#f8ba3d,#f4ba3a,#f1ba37,#edba34,#eabb30,#e6bb2d,#e2bc2b,#debc2a,#dabd28,#d5be28,#d1bf27,#ccc028,#c8c129,#c3c22b,#bec32e,#b9c431)"></i><i style="margin-bottom:-0.5px;height:2.510px;background:linear-gradient(90deg,#f7f41c,#f6f21e,#f6f020,#f5ed21,#f5eb23,#f5e825,#f5e626,#f5e327,#f6e128,#f6de29,#f7dc2a,#f8d92b,#f9d72d,#fad42e,#fbd22f,#fccf30,#fdcd32,#feca33,#fec835,#fec537,#fec338,#fec13a,#febf3c,#fdbd3d,#fabb3d,#f8ba3d,#f4ba3a,#f1ba37,#eeba34,#eaba30,#e6bb2d,#e2bc2b,#debc2a,#dabd28,#d6be28,#d1bf27,#cdc028,#c8c129,#c3c22b,#bec32e,#b9c431)"></i><i style="margin-bottom:-0.5px;height:2.510px;background:linear-gradient(90deg,#f7f41c,#f6f21e,#f6f020,#f5ed21,#f5eb23,#f5e825,#f5e626,#f5e427,#f6e128,#f6de29,#f7dc2a,#f8d92b,#f9d72d,#fad42e,#fbd22f,#fccf30,#fdcd32,#feca33,#fec835,#fec636,#fec338,#fec13a,#febf3c,#fdbd3d,#fabb3d,#f8ba3d,#f5ba3a,#f1ba37,#eeba34,#eaba31,#e6bb2d,#e2bc2b,#debc2a,#dabd28,#d6be28,#d1bf27,#cdc028,#c8c129,#c3c22b,#bec32e,#b9c430)"></i><i style="margin-bottom:-0.5px;height:2.510px;background:linear-gradient(90deg,#f7f41c,#f6f21e,#f6f020,#f5ed21,#f5eb23,#f5e924,#f5e626,#f5e427,#f5e128,#f6df29,#f7dc2a,#f8d92b,#f9d72d,#fad42e,#fbd22f,#fccf30,#fdcd32,#feca33,#fec835,#fec636,#fec338,#fec13a,#febf3c,#fdbd3d,#fabb3d,#f8ba3d,#f5ba3a,#f1ba37,#eeba34,#eaba31,#e7bb2d,#e2bc2b,#debc2a,#dabd28,#d6be28,#d1bf27,#cdc028,#c8c129,#c3c22b,#bec32e,#b9c430)"></i><i style="margin-bottom:-0.5px;height:2.510px;background:linear-gradient(90deg,#f7f51b,#f6f21e,#f6f020,#f5ed21,#f5eb23,#f5e924,#f5e626,#f5e427,#f5e128,#f6df29,#f7dc2a,#f8d92b,#f9d72d,#fad42e,#fbd22f,#fccf30,#fdcd32,#fdca33,#fec835,#fec636,#fec338,#fec13a,#febf3c,#fdbd3d,#fabc3d,#f8ba3d,#f5ba3a,#f1ba37,#eeba34,#eaba31,#e7bb2d,#e3bc2c,#dfbc2a,#dabd28,#d6be28,#d2bf27,#cdc028,#c8c129,#c3c22b,#bec32e,#b9c430)"></i><i style="margin-bottom:-0.5px;height:2.510px;background:linear-gradient(90deg,#f7f51b,#f6f21d,#f6f01f,#f5ee21,#f5eb23,#f5e924,#f5e626,#f5e427,#f5e128,#f6df29,#f7dc2a,#f8da2b,#f9d72c,#fad42e,#fbd22f,#fccf30,#fdcd32,#fdca33,#fec835,#fec636,#fec338,#fec13a,#febf3c,#fdbd3d,#fabc3d,#f8ba3d,#f5ba3a,#f1ba37,#eeba34,#eaba31,#e7bb2e,#e3bc2c,#dfbc2a,#dabd28,#d6be28,#d2bf27,#cdc028,#c8c129,#c4c22b,#bfc32e,#bac430)"></i><i style="margin-bottom:-0.5px;height:2.510px;background:linear-gradient(90deg,#f7f51b,#f6f21d,#f6f01f,#f5ee21,#f5eb23,#f5e924,#f5e626,#f5e427,#f5e128,#f6df29,#f7dc2a,#f8da2b,#f9d72c,#fad52e,#fbd22f,#fccf30,#fdcd32,#fdcb33,#fec835,#fec636,#fec338,#fec13a,#febf3b,#fdbd3d,#fbbc3d,#f8ba3d,#f5ba3a,#f2ba37,#eeba34,#eaba31,#e7bb2e,#e3bc2c,#dfbc2a,#dbbd28,#d6be28,#d2bf27,#cdc028,#c9c129,#c4c22b,#bfc32e,#bac430)"></i><i style="margin-bottom:-0.5px;height:2.510px;background:linear-gradient(90deg,#f7f51b,#f6f21d,#f6f01f,#f5ee21,#f5eb23,#f5e924,#f5e625,#f5e427,#f5e128,#f6df29,#f7dc2a,#f8da2b,#f9d72c,#fad52e,#fbd22f,#fcd030,#fdcd31,#fdcb33,#fec834,#fec636,#fec338,#fec13a,#febf3b,#fdbd3d,#fbbc3d,#f8ba3d,#f5ba3a,#f2ba37,#eeba34,#ebba31,#e7bb2e,#e3bc2c,#dfbc2a,#dbbd28,#d6be28,#d2bf27,#cdc028,#c9c129,#c4c22b,#bfc32d,#bac430)"></i><i style="margin-bottom:-0.5px;height:2.510px;background:linear-gradient(90deg,#f7f51b,#f6f21d,#f6f01f,#f5ee21,#f5eb23,#f5e924,#f5e625,#f5e427,#f5e128,#f6df29,#f7dc2a,#f8da2b,#f9d72c,#fad52e,#fbd22f,#fcd030,#fdcd31,#fdcb33,#fec834,#fec636,#fec438,#fec13a,#febf3b,#fdbd3d,#fbbc3d,#f8ba3d,#f5ba3a,#f2ba37,#eeba34,#ebba31,#e7bb2e,#e3bc2c,#dfbc2a,#dbbd29,#d6be28,#d2bf27,#cdc028,#c9c129,#c4c22b,#bfc32d,#bac430)"></i><i style="margin-bottom:-0.5px;height:2.010px;background:linear-gradient(90deg,#f7f51b,#f6f31d,#f6f01f,#f5ee21,#f5eb23,#f5e924,#f5e625,#f5e427,#f5e128,#f6df29,#f7dc2a,#f8da2b,#f9d72c,#fad52e,#fbd22f,#fcd030,#fdcd31,#fdcb33,#fec834,#fec636,#fec438,#fec13a,#febf3b,#fdbd3d,#fbbc3d,#f8ba3d,#f5ba3b,#f2ba38,#eeba34,#ebba31,#e7bb2e,#e3bc2c,#dfbc2a,#dbbd29,#d7be28,#d2bf27,#cec028,#c9c129,#c4c22b,#bfc32d,#bac430)"></i></div>
<div class="b" style="left:220.0px;top:199.2px;width:139.2px;height:138.7px"></div>
<div class="t" style="left:220.0px;top:186.8px;width:139.2px">Wixted</div>
<div class="l lb" style="left:225.6px;top:265.0px">Rearfoot strike</div>
<div class="l lb" style="left:225.6px;top:290.6px">Midfoot strike</div>
<div class="l lb" style="left:225.6px;top:316.2px">Forefoot strike</div>
<div class="p" style="left:401.0px;top:199.0px;width:139.3px;height:138.5px"><i style="margin-bottom:-0.5px;height:2.507px;background:linear-gradient(90deg,#2c90f0,#2994ed,#2798ea,#259be8,#249fe5,#21a2e4,#1fa6e2,#1ca9df,#19acdc,#15afd8,#0fb2d4,#07b5d0,#02b7cb,#01b9c6,#05bbc1,#0cbdbc,#16bfb7,#1fc0b1,#27c2ac,#2cc4a6,#31c5a1,#35c79a,#3ac994,#40ca8d,#49cb86,#52cc7e,#5ccc76,#66cd6e,#70cd65,#7bcc5d,#86cb54,#91ca4c,#9cc944,#a7c73c,#b1c635,#bbc430,#c4c22a,#cdc028,#d6be28,#debc2a,#e6bb2d)"></i><i style="margin-bottom:-0.5px;height:2.507px;background:linear-gradient(90deg,#2b91ef,#2995ec,#2698ea,#259ce7,#23a0e5,#21a3e3,#1ea7e1,#1caadf,#19addc,#14b0d8,#0db3d3,#06b5cf,#01b7ca,#01bac5,#06bcc0,#0ebdbb,#18bfb6,#21c1b0,#28c2ab,#2dc4a5,#31c6a0,#36c799,#3bc993,#42ca8c,#4acb84,#54cc7d,#5dcc75,#67cd6c,#72cd64,#7dcc5b,#88cb53,#93ca4b,#9ec942,#a8c73b,#b3c534,#bcc42f,#c6c22a,#cfc028,#d7be28,#dfbc2a,#e7bb2e)"></i><i style="margin-bottom:-0.5px;height:2.507px;background:linear-gradient(90deg,#2b92ef,#2895ec,#2699e9,#259de7,#23a0e5,#20a4e3,#1ea7e1,#1babde,#18aedb,#13b0d7,#0cb3d3,#05b6ce,#01b8c9,#02bac4,#07bcbf,#10beba,#1abfb5,#22c1b0,#29c3aa,#2ec4a4,#32c69e,#36c898,#3cc991,#43ca8a,#4ccb83,#55cc7b,#5fcd73,#69cd6b,#74cc62,#7fcc5a,#8acb52,#95ca49,#a0c941,#aac73a,#b4c533,#bec32e,#c7c129,#d0bf27,#d9be28,#e1bc2b,#e8bb2f)"></i><i style="margin-bottom:-0.5px;height:2.507px;background:linear-gradient(90deg,#2a92ee,#2796eb,#269ae9,#249de6,#23a1e4,#20a5e3,#1da8e0,#1aabde,#17aeda,#12b1d6,#0ab4d2,#04b6cd,#01b8c8,#02bac3,#09bcbe,#12beb9,#1bc0b4,#24c1af,#2ac3a9,#2fc5a3,#33c69d,#37c897,#3dc990,#45cb89,#4dcc82,#57cc7a,#61cd72,#6bcd69,#76cc61,#81cc58,#8ccb50,#97ca48,#a1c840,#acc739,#b6c532,#c0c32d,#c9c129,#d2bf27,#dabd28,#e2bc2b,#e9bb30)"></i><i style="margin-bottom:-0.5px;height:2.507px;background:linear-gradient(90deg,#2a93ed,#2797eb,#269be8,#249ee6,#22a2e4,#1fa5e2,#1da9e0,#1aacdd,#16afd9,#10b2d5,#09b4d1,#03b6cc,#01b9c7,#03bbc3,#0abdbd,#13beb8,#1dc0b3,#25c2ae,#2bc3a8,#2fc5a2,#34c79c,#38c896,#3eca8f,#46cb88,#4fcc80,#59cc79,#62cd70,#6dcd68,#78cc5f,#83cc57,#8ecb4f,#99c946,#a3c83f,#adc638,#b7c531,#c1c32c,#cac129,#d3bf27,#dbbd29,#e3bc2c,#eaba31)"></i><i style="margin-bottom:-0.5px;height:2.507px;background:linear-gradient(90deg,#2994ed,#2798ea,#259be8,#249fe5,#21a2e4,#1fa6e2,#1ca9df,#19acdc,#15afd9,#0fb2d5,#08b5d0,#03b7cb,#01b9c7,#04bbc2,#0bbdbc,#15bfb7,#1ec0b2,#26c2ad,#2cc4a7,#30c5a1,#34c79b,#39c995,#3fca8e,#48cb86,#51cc7f,#5acc77,#64cd6f,#6fcd66,#7acc5e,#85cb56,#90ca4d,#9ac945,#a5c83d,#afc637,#b9c430,#c3c22b,#ccc028,#d4bf28,#ddbd29,#e4bb2c,#ebba32)"></i><i style="margin-bottom:-0.5px;height:2.507px;background:linear-gradient(90deg,#2995ec,#2698ea,#259ce7,#23a0e5,#21a3e3,#1ea7e1,#1caadf,#19addc,#14b0d8,#0eb3d4,#07b5cf,#02b7ca,#01b9c6,#05bbc1,#0dbdbb,#17bfb6,#20c1b1,#27c2ac,#2dc4a6,#31c6a0,#35c79a,#3ac993,#41ca8c,#49cb85,#52cc7e,#5ccc76,#66cd6d,#70cd65,#7bcc5d,#87cb54,#91ca4c,#9cc944,#a7c73c,#b1c636,#bbc430,#c4c22b,#cdc028,#d6be28,#debd29,#e5bb2d,#ecba33)"></i><i style="margin-bottom:-0.5px;height:2.507px;background:linear-gradient(90deg,#2896ec,#2699e9,#259de7,#23a0e5,#20a4e3,#1ea7e1,#1baade,#18aedb,#13b0d7,#0cb3d3,#06b6ce,#01b8ca,#02bac5,#07bcc0,#0fbeba,#19bfb5,#22c1b0,#28c3aa,#2dc4a5,#32c69f,#36c899,#3bc992,#42ca8b,#4bcb84,#54cc7c,#5ecc74,#68cd6c,#72cd63,#7dcc5b,#88cb53,#93ca4b,#9ec942,#a8c73b,#b2c535,#bcc42f,#c6c22a,#cfc028,#d7be28,#dfbc2a,#e7bb2d,#edba34)"></i><i style="margin-bottom:-0.5px;height:2.507px;background:linear-gradient(90deg,#2796eb,#269ae9,#249de6,#23a1e4,#20a4e3,#1da8e0,#1babde,#17aeda,#12b1d6,#0bb4d2,#05b6cd,#01b8c9,#02bac4,#08bcbf,#11beba,#1bc0b4,#23c1af,#29c3a9,#2ec5a4,#32c69e,#37c898,#3cc991,#44ca8a,#4ccb83,#56cc7b,#5fcd73,#69cd6a,#74cc62,#7fcc5a,#8acb51,#95ca49,#a0c941,#aac73a,#b4c534,#bec32e,#c7c12a,#d0bf27,#d8be28,#e0bc2a,#e8bb2e,#efba35)"></i><i style="margin-bottom:-0.5px;height:2.507px;background:linear-gradient(90deg,#2797eb,#269be8,#249ee6,#22a2e4,#1fa5e2,#1da9e0,#1aacdd,#16afd9,#11b1d6,#09b4d1,#04b6cc,#01b9c8,#02bbc3,#09bdbe,#13beb9,#1cc0b3,#24c2ae,#2ac3a8,#2fc5a3,#33c79d,#38c896,#3dca90,#45cb89,#4ecc81,#57cc7a,#61cd71,#6bcd69,#76cc60,#81cc58,#8ccb50,#97ca48,#a1c840,#acc739,#b6c533,#bfc32d,#c9c129,#d1bf27,#dabd28,#e1bc2b,#e9bb2f,#f0ba36)"></i><i style="margin-bottom:-0.5px;height:2.507px;background:linear-gradient(90deg,#2798ea,#259be7,#249fe5,#21a2e4,#1fa6e2,#1ca9df,#19acdc,#15afd9,#0fb2d5,#08b5d0,#03b7cc,#01b9c7,#04bbc2,#0bbdbd,#15bfb8,#1ec0b2,#26c2ad,#2bc3a7,#30c5a2,#34c79c,#39c895,#3fca8e,#47cb87,#50cc80,#59cc78,#63cd70,#6dcd67,#78cc5f,#83cc57,#8ecb4f,#99c946,#a3c83f,#adc638,#b7c532,#c1c32c,#cac129,#d3bf27,#dbbd29,#e3bc2c,#eabb30,#f1ba36)"></i><i style="margin-bottom:-0.5px;height:2.507px;background:linear-gradient(90deg,#2699ea,#259ce7,#23a0e5,#21a3e3,#1ea7e1,#1caadf,#19addc,#14b0d8,#0eb2d4,#07b5cf,#02b7cb,#01b9c6,#05bbc1,#0dbdbc,#17bfb7,#1fc1b1,#27c2ac,#2cc4a6,#31c5a1,#35c79b,#3ac994,#40ca8d,#48cb86,#51cc7f,#5bcc77,#64cd6e,#6fcd66,#7acc5e,#85cb55,#90ca4d,#9ac945,#a5c83d,#afc637,#b9c431,#c2c22c,#cbc029,#d4bf28,#dcbd29,#e4bb2c,#ebba31,#f2ba37)"></i><i style="margin-bottom:-0.5px;height:2.507px;background:linear-gradient(90deg,#2699e9,#259de7,#23a0e5,#20a4e3,#1ea7e1,#1baade,#18aedb,#13b0d7,#0cb3d3,#06b5ce,#01b8ca,#02bac5,#06bcc0,#0ebebb,#19bfb6,#21c1b0,#28c2ab,#2dc4a5,#31c6a0,#36c799,#3bc993,#41ca8c,#4acb85,#53cc7d,#5dcc75,#66cd6d,#71cd64,#7ccc5c,#87cb54,#92ca4c,#9cc944,#a7c73c,#b1c636,#bbc430,#c4c22b,#cdc028,#d5be28,#ddbd29,#e5bb2d,#ecba32,#f3ba38)"></i><i style="margin-bottom:-0.5px;height:2.507px;background:linear-gradient(90deg,#269ae8,#249ee6,#22a1e4,#20a5e3,#1da8e0,#1babde,#17aeda,#12b1d6,#0bb3d2,#05b6ce,#01b8c9,#02bac4,#08bcbf,#10beba,#1ac0b5,#23c1af,#29c3aa,#2ec4a4,#32c69e,#36c898,#3cc992,#43ca8b,#4bcb83,#55cc7c,#5ecd74,#68cd6b,#73cd63,#7ecc5b,#89cb53,#93ca4a,#9ec942,#a8c73b,#b2c535,#bcc42f,#c5c22a,#cec028,#d7be28,#dfbc2a,#e6bb2d,#edba33,#f4ba39)"></i><i style="margin-bottom:-0.5px;height:2.507px;background:linear-gradient(90deg,#259be8,#249ee6,#22a2e4,#1fa5e2,#1da9e0,#1aacdd,#16afd9,#11b1d6,#09b4d1,#04b6cd,#01b9c8,#02bbc3,#09bcbe,#12beb9,#1cc0b4,#24c1ae,#2ac3a9,#2fc5a3,#33c69d,#37c897,#3dc990,#44cb89,#4dcc82,#56cc7a,#60cd72,#6acd6a,#75cc62,#80cc59,#8bcb51,#95ca49,#a0c841,#aac73a,#b4c534,#bec32e,#c7c12a,#d0c027,#d8be28,#e0bc2a,#e7bb2e,#eeba34,#f5ba3a)"></i><i style="margin-bottom:-0.5px;height:2.507px;background:linear-gradient(90deg,#259be7,#249fe5,#21a2e4,#1fa6e2,#1ca9df,#19acdc,#15afd9,#0fb2d5,#08b4d0,#03b7cc,#01b9c7,#04bbc2,#0abdbd,#14bfb8,#1dc0b3,#25c2ad,#2bc3a8,#2fc5a2,#34c79c,#38c896,#3eca8f,#46cb88,#4fcc81,#58cc79,#62cd71,#6ccd68,#76cc60,#82cc58,#8ccb50,#97ca48,#a1c840,#acc739,#b6c533,#bfc32d,#c8c129,#d1bf27,#d9bd28,#e1bc2b,#e8bb2f,#efba35,#f6ba3b)"></i><i style="margin-bottom:-0.5px;height:2.507px;background:linear-gradient(90deg,#259ce7,#23a0e5,#21a3e3,#1ea7e1,#1caadf,#19addc,#14b0d8,#0eb2d4,#07b5cf,#02b7cb,#01b9c6,#05bbc1,#0cbdbc,#16bfb7,#1fc0b2,#26c2ac,#2cc4a7,#30c5a1,#34c79b,#39c995,#3fca8e,#47cb87,#50cc7f,#5acc78,#63cd6f,#6ecd67,#78cc5f,#83cc57,#8ecb4e,#99c946,#a3c83f,#adc638,#b7c532,#c1c32c,#cac129,#d2bf27,#dbbd28,#e2bc2b,#eabb30,#f0ba36,#f7ba3c)"></i><i style="margin-bottom:-0.5px;height:2.507px;background:linear-gradient(90deg,#259de7,#23a0e5,#20a4e3,#1ea7e1,#1baade,#18aedb,#13b0d7,#0cb3d3,#06b5cf,#01b8ca,#02bac5,#06bcc0,#0ebdbb,#18bfb6,#21c1b1,#27c2ab,#2dc4a6,#31c6a0,#35c79a,#3ac993,#41ca8d,#49cb85,#52cc7e,#5bcc76,#65cd6e,#6fcd65,#7acc5d,#85cb55,#90ca4d,#9bc945,#a5c83d,#afc637,#b9c431,#c2c22c,#cbc029,#d4bf28,#dcbd29,#e4bb2c,#ebba31,#f1ba37,#f8ba3d)"></i><i style="margin-bottom:-0.5px;height:2.507px;background:linear-gradient(90deg,#249ee6,#22a1e4,#20a5e3,#1da8e0,#1babde,#17aeda,#12b1d6,#0bb3d2,#05b6ce,#01b8c9,#02bac4,#08bcbf,#10beba,#1abfb5,#22c1b0,#28c3aa,#2ec4a5,#32c69f,#36c899,#3bc992,#42ca8b,#4acb84,#54cc7d,#5dcc75,#67cd6c,#71cd64,#7ccc5c,#87cb54,#92ca4c,#9cc943,#a7c73c,#b1c636,#bbc430,#c4c22b,#cdc028,#d5be28,#ddbd29,#e5bb2d,#ecba32,#f2ba38,#f8ba3d)"></i><i style="margin-bottom:-0.5px;height:2.507px;background:linear-gradient(90deg,#249ee6,#22a2e4,#1fa5e2,#1da9e0,#1aacdd,#16afd9,#11b1d6,#09b4d1,#04b6cd,#01b8c8,#02bbc3,#09bcbe,#12beb9,#1bc0b4,#24c1af,#2ac3a9,#2ec5a4,#33c69e,#37c898,#3cc991,#44ca8a,#4ccb83,#55cc7b,#5fcd73,#69cd6b,#73cd63,#7ecc5a,#89cb52,#94ca4a,#9ec942,#a8c73b,#b2c534,#bcc42f,#c5c22a,#cec028,#d6be28,#debc2a,#e6bb2d,#edba33,#f3ba39,#f9bb3d)"></i><i style="margin-bottom:-0.5px;height:2.507px;background:linear-gradient(90deg,#249fe5,#21a3e4,#1fa6e2,#1ca9df,#19acdc,#15afd9,#0fb2d5,#08b4d0,#03b7cc,#01b9c7,#03bbc2,#0abdbd,#14beb8,#1dc0b3,#25c2ae,#2bc3a8,#2fc5a3,#33c79d,#38c896,#3dca90,#45cb89,#4ecc81,#57cc7a,#61cd72,#6bcd69,#75cc61,#80cc59,#8bcb51,#96ca49,#a0c841,#aac73a,#b4c533,#bec32e,#c7c12a,#d0c028,#d8be28,#e0bc2a,#e7bb2e,#eeba34,#f4ba3a,#fabb3d)"></i><i style="margin-bottom:-0.5px;height:2.507px;background:linear-gradient(90deg,#23a0e5,#21a3e3,#1ea7e1,#1caadf,#19addc,#14b0d8,#0eb2d4,#07b5cf,#02b7cb,#01b9c6,#05bbc1,#0cbdbc,#16bfb7,#1fc0b2,#26c2ad,#2cc4a7,#30c5a1,#34c79b,#39c895,#3fca8e,#47cb87,#4fcc80,#59cc78,#62cd70,#6ccd68,#77cc60,#82cc58,#8dcb4f,#97ca47,#a2c840,#acc738,#b6c532,#bfc32d,#c8c129,#d1bf27,#d9bd28,#e1bc2b,#e8bb2f,#efba35,#f5ba3b,#fabc3d)"></i><i style="margin-bottom:-0.5px;height:2.507px;background:linear-gradient(90deg,#23a1e5,#20a4e3,#1ea7e1,#1baade,#18aedb,#13b0d7,#0cb3d3,#06b5cf,#01b8ca,#01bac5,#06bcc0,#0ebdbb,#18bfb6,#20c1b1,#27c2ac,#2dc4a6,#31c6a0,#35c79a,#3ac994,#40ca8d,#48cb86,#51cc7f,#5bcc77,#64cd6f,#6ecd66,#79cc5e,#84cc56,#8fcb4e,#99c946,#a4c83e,#aec637,#b7c531,#c1c32c,#cac129,#d2bf27,#dabd28,#e2bc2b,#e9bb30,#f0ba36,#f6ba3b,#fbbc3d)"></i><i style="margin-bottom:-0.5px;height:2.507px;background:linear-gradient(90deg,#22a1e4,#20a5e3,#1da8e0,#1aabde,#17aeda,#12b1d6,#0bb3d2,#05b6ce,#01b8c9,#02bac4,#07bcbf,#10beba,#19bfb5,#22c1b0,#28c3aa,#2dc4a5,#31c69f,#36c799,#3bc993,#41ca8c,#4acb85,#53cc7d,#5ccc75,#66cd6d,#70cd65,#7bcc5d,#86cb55,#91ca4d,#9bc945,#a5c83d,#afc636,#b9c430,#c2c22c,#cbc029,#d4bf28,#dcbd29,#e3bb2c,#eaba31,#f1ba37,#f7ba3c,#fcbc3d)"></i><i style="margin-bottom:-0.5px;height:2.507px;background:linear-gradient(90deg,#22a2e4,#1fa5e2,#1da9e0,#1aacdd,#16afd9,#11b1d6,#09b4d1,#04b6cd,#01b8c8,#02bac3,#09bcbe,#12beb9,#1bc0b4,#23c1af,#29c3a9,#2ec5a4,#32c69e,#36c898,#3cc991,#43ca8b,#4bcb83,#55cc7c,#5ecd74,#68cd6c,#72cd63,#7dcc5b,#88cb53,#92ca4b,#9dc943,#a7c73c,#b1c635,#bbc430,#c4c22b,#cdc028,#d5be28,#ddbd29,#e5bb2c,#ebba32,#f2ba38,#f8ba3d,#fcbd3d)"></i><i style="margin-bottom:-0.5px;height:2.507px;background:linear-gradient(90deg,#21a3e4,#1fa6e2,#1ca9df,#19acdc,#15afd9,#0fb2d5,#08b4d0,#03b7cc,#01b9c7,#03bbc2,#0abdbd,#14beb8,#1dc0b3,#25c2ae,#2ac3a8,#2fc5a3,#33c69d,#37c897,#3dc990,#44cb89,#4dcc82,#56cc7b,#60cd72,#6acd6a,#74cc62,#7fcc5a,#8acb52,#94ca4a,#9fc942,#a9c73b,#b3c534,#bcc42f,#c5c22a,#cec028,#d6be28,#debc2a,#e6bb2d,#edba33,#f3ba39,#f9bb3d,#fdbd3d)"></i><i style="margin-bottom:-0.5px;height:2.507px;background:linear-gradient(90deg,#21a3e3,#1ea7e1,#1caadf,#19addc,#14b0d8,#0eb2d4,#07b5cf,#02b7cb,#01b9c6,#05bbc1,#0cbdbc,#15bfb7,#1ec0b2,#26c2ad,#2cc4a7,#30c5a2,#34c79c,#38c896,#3eca8f,#46cb88,#4fcc81,#58cc79,#61cd71,#6bcd69,#76cc61,#81cc59,#8ccb50,#96ca48,#a0c841,#abc739,#b4c533,#bec32e,#c7c12a,#d0c028,#d8be28,#e0bc2a,#e7bb2e,#eeba34,#f4ba3a,#fabb3d,#febe3c)"></i><i style="margin-bottom:-0.5px;height:2.507px;background:linear-gradient(90deg,#20a4e3,#1ea7e1,#1babde,#18aedb,#13b0d7,#0cb3d3,#06b5cf,#01b8ca,#01bac5,#06bcc0,#0ebdbb,#17bfb6,#20c1b1,#27c2ac,#2cc4a6,#31c5a1,#35c79b,#39c994,#3fca8e,#47cb87,#50cc7f,#5acc78,#63cd70,#6dcd67,#78cc5f,#83cc57,#8dcb4f,#98c947,#a2c83f,#acc738,#b6c532,#bfc32d,#c8c129,#d1bf27,#d9bd28,#e1bc2b,#e8bb2f,#efba35,#f5ba3a,#fabb3d,#febe3c)"></i><i style="margin-bottom:-0.5px;height:2.507px;background:linear-gradient(90deg,#20a5e2,#1da8e0,#1aabdd,#17aeda,#12b1d6,#0bb3d2,#05b6ce,#01b8c9,#02bac4,#07bcbf,#0fbeba,#19bfb5,#21c1b0,#28c3ab,#2dc4a5,#31c6a0,#35c799,#3bc993,#41ca8c,#49cb85,#52cc7e,#5bcc76,#65cd6e,#6fcd66,#7acc5e,#85cb56,#8fcb4e,#9ac946,#a4c83e,#aec637,#b8c431,#c1c32c,#cac129,#d2bf27,#dabd28,#e2bc2b,#e9bb30,#f0ba36,#f6ba3b,#fbbc3d,#febf3b)"></i><i style="margin-bottom:-0.5px;height:2.507px;background:linear-gradient(90deg,#1fa6e2,#1da9e0,#1aacdd,#16afd9,#11b2d5,#09b4d1,#04b6cd,#01b8c8,#02bac3,#09bcbe,#11beb9,#1bc0b4,#23c1af,#29c3aa,#2ec4a4,#32c69e,#36c898,#3cc992,#42ca8b,#4bcb84,#54cc7d,#5dcc75,#67cd6d,#71cd64,#7ccc5c,#87cb54,#91ca4c,#9cc944,#a6c83d,#b0c636,#b9c430,#c3c22b,#cbc029,#d4bf28,#dcbd29,#e3bb2c,#eaba31,#f1ba37,#f7ba3c,#fcbc3d,#fec03b)"></i><i style="margin-bottom:-0.5px;height:2.507px;background:linear-gradient(90deg,#1fa6e1,#1ca9df,#19acdc,#15afd9,#0fb2d5,#08b5d0,#03b7cc,#01b9c7,#03bbc2,#0abdbd,#13beb8,#1cc0b3,#24c2ae,#2ac3a9,#2fc5a3,#33c69d,#37c897,#3dc991,#44cb8a,#4ccb83,#56cc7b,#5fcd73,#69cd6b,#73cd63,#7ecc5b,#88cb53,#93ca4b,#9dc943,#a7c73c,#b1c635,#bbc42f,#c4c22b,#cdc028,#d5be28,#ddbd29,#e5bb2c,#ebba32,#f2ba38,#f8ba3d,#fcbd3d,#fec03a)"></i><i style="margin-bottom:-0.5px;height:2.507px;background:linear-gradient(90deg,#1ea7e1,#1baadf,#19addb,#14b0d8,#0eb3d4,#07b5cf,#02b7cb,#01b9c6,#05bbc1,#0bbdbc,#15bfb7,#1ec0b2,#26c2ad,#2bc3a8,#30c5a2,#34c79c,#38c896,#3eca8f,#45cb88,#4ecc81,#57cc7a,#61cd72,#6acd69,#75cc61,#80cc59,#8acb51,#95ca49,#9fc941,#a9c73a,#b3c534,#bdc42f,#c6c22a,#cec028,#d7be28,#debc2a,#e6bb2d,#ecba33,#f3ba39,#f9bb3d,#fdbd3d,#fec13a)"></i><i style="margin-bottom:-0.5px;height:2.507px;background:linear-gradient(90deg,#1ea8e1,#1babde,#18aedb,#13b0d7,#0cb3d3,#06b5ce,#01b8ca,#01bac5,#06bcc0,#0dbdbb,#17bfb6,#20c1b1,#27c2ac,#2cc4a6,#30c5a1,#34c79b,#39c895,#3fca8e,#47cb87,#50cc80,#59cc78,#62cd70,#6ccd68,#77cc60,#82cc58,#8ccb50,#97ca48,#a1c840,#abc739,#b5c533,#bec32e,#c7c12a,#d0bf27,#d8be28,#e0bc2a,#e7bb2e,#eeba34,#f4ba39,#f9bb3d,#febd3c,#fec239)"></i><i style="margin-bottom:-0.5px;height:2.507px;background:linear-gradient(90deg,#1da8e0,#1aabdd,#17aeda,#12b1d6,#0bb4d2,#05b6ce,#01b8c9,#02bac4,#07bcbf,#0fbeba,#19bfb5,#21c1b0,#28c2ab,#2dc4a5,#31c6a0,#35c79a,#3ac993,#40ca8d,#48cb86,#51cc7e,#5bcc77,#64cd6f,#6ecd66,#79cc5e,#84cc56,#8ecb4e,#99c946,#a3c83f,#adc638,#b6c532,#c0c32d,#c9c129,#d1bf27,#d9bd28,#e1bc2b,#e8bb2f,#efba35,#f5ba3a,#fabb3d,#febe3c,#fec239)"></i><i style="margin-bottom:-0.5px;height:2.507px;background:linear-gradient(90deg,#1da9e0,#1aacdd,#16afd9,#10b2d5,#09b4d1,#04b6cd,#01b8c8,#02bbc3,#09bcbe,#11beb9,#1bc0b4,#23c1af,#29c3aa,#2ec4a4,#32c69f,#36c899,#3bc992,#42ca8b,#4acb84,#53cc7d,#5ccc75,#66cd6d,#70cd65,#7bcc5d,#86cb55,#90ca4d,#9ac945,#a5c83e,#aec637,#b8c431,#c1c32c,#cac129,#d3bf27,#dbbd28,#e2bc2b,#e9bb30,#f0ba36,#f6ba3b,#fbbc3d,#febf3c,#fec338)"></i><i style="margin-bottom:-0.5px;height:2.507px;background:linear-gradient(90deg,#1caadf,#19addc,#15afd8,#0fb2d4,#08b5d0,#03b7cc,#01b9c7,#03bbc2,#0abdbd,#13beb8,#1cc0b3,#24c2ae,#2ac3a9,#2fc5a3,#33c69d,#37c897,#3cc991,#43ca8a,#4ccb83,#55cc7c,#5ecd74,#68cd6c,#72cd63,#7dcc5c,#87cb54,#92ca4c,#9cc944,#a6c73c,#b0c636,#bac430,#c3c22b,#ccc028,#d4bf28,#dcbd29,#e3bb2c,#eaba31,#f1ba37,#f7ba3c,#fcbc3d,#febf3b,#fec438)"></i><i style="margin-bottom:-0.5px;height:2.507px;background:linear-gradient(90deg,#1baade,#18addb,#14b0d8,#0db3d4,#07b5cf,#02b7cb,#01b9c6,#05bbc1,#0cbdbc,#15bfb7,#1ec0b2,#26c2ad,#2bc3a8,#2fc5a2,#34c79c,#38c896,#3eca90,#45cb89,#4dcc82,#57cc7a,#60cd72,#6acd6a,#74cc62,#7fcc5a,#89cb52,#94ca4a,#9ec942,#a8c73b,#b2c635,#bbc42f,#c4c22a,#cdc028,#d5be28,#ddbd29,#e5bb2c,#ebba32,#f2ba38,#f8ba3d,#fcbd3d,#fec03b,#fec437)"></i><i style="margin-bottom:-0.5px;height:2.507px;background:linear-gradient(90deg,#1babde,#17aedb,#13b1d7,#0cb3d3,#06b6ce,#01b8ca,#02bac5,#06bcc0,#0ebdbb,#17bfb6,#20c1b1,#27c2ac,#2cc4a7,#30c5a1,#34c79b,#39c895,#3fca8e,#47cb87,#4fcc80,#58cc79,#62cd71,#6ccd69,#76cc61,#81cc59,#8bcb51,#96ca49,#a0c841,#aac73a,#b4c534,#bdc32e,#c6c22a,#cfc028,#d7be28,#debc2a,#e6bb2d,#edba33,#f3ba38,#f9ba3d,#fdbd3d,#fec13a,#fec537)"></i><i style="margin-bottom:-0.5px;height:2.507px;background:linear-gradient(90deg,#1aacdd,#16aeda,#12b1d6,#0ab4d2,#05b6cd,#01b8c9,#02bac4,#07bcbf,#0fbeba,#19bfb5,#21c1b0,#28c2ab,#2dc4a5,#31c6a0,#35c79a,#3ac994,#40ca8d,#48cb86,#51cc7f,#5acc77,#63cd6f,#6dcd67,#78cc5f,#83cc57,#8dcb4f,#98ca47,#a2c840,#acc739,#b5c533,#bfc32e,#c8c129,#d0bf27,#d8be28,#e0bc2a,#e7bb2e,#eeba34,#f4ba39,#f9bb3d,#febd3c,#fec13a,#fec636)"></i><i style="margin-bottom:-0.5px;height:2.507px;background:linear-gradient(90deg,#19acdc,#15afd9,#10b2d5,#09b4d1,#04b6cc,#01b9c8,#02bbc3,#09bcbe,#11beb9,#1bc0b4,#23c1af,#29c3aa,#2ec4a4,#32c69f,#36c899,#3bc992,#42ca8c,#4acb85,#53cc7d,#5ccc76,#65cd6e,#6fcd66,#7acc5e,#85cb56,#8fcb4e,#99c946,#a3c83e,#adc638,#b7c532,#c0c32d,#c9c129,#d2bf27,#d9bd28,#e1bc2b,#e8bb2f,#efba35,#f5ba3a,#fabb3d,#febe3c,#fec239,#fec636)"></i><i style="margin-bottom:-0.5px;height:2.507px;background:linear-gradient(90deg,#19addc,#14b0d8,#0fb2d4,#07b5d0,#03b7cb,#01b9c7,#03bbc2,#0abdbd,#13beb8,#1cc0b3,#24c2ae,#2ac3a9,#2fc5a3,#33c69e,#37c898,#3cc991,#43ca8a,#4bcb83,#54cc7c,#5ecc74,#67cd6c,#71cd64,#7ccc5c,#87cb54,#91ca4c,#9bc944,#a5c83d,#afc637,#b9c431,#c2c22c,#cbc129,#d3bf27,#dbbd29,#e2bc2b,#e9bb30,#f0ba36,#f6ba3b,#fbbc3d,#febf3c,#fec338,#fec735)"></i><i style="margin-bottom:-0.5px;height:2.507px;background:linear-gradient(90deg,#18addb,#13b0d7,#0db3d3,#06b5cf,#02b7cb,#01b9c6,#05bbc1,#0cbdbc,#15bfb7,#1ec0b2,#26c2ad,#2bc3a8,#2fc5a2,#33c79c,#38c896,#3dca90,#45cb89,#4dcc82,#56cc7b,#5fcd73,#69cd6b,#73cd63,#7ecc5b,#88cb53,#93ca4b,#9dc943,#a7c73c,#b1c635,#bac430,#c3c22b,#ccc028,#d4bf28,#dcbd29,#e4bb2c,#eaba31,#f1ba37,#f7ba3c,#fcbc3d,#febf3b,#fec338,#fec835)"></i><i style="margin-bottom:-0.5px;height:2.507px;background:linear-gradient(90deg,#17aeda,#12b1d7,#0bb3d2,#05b6ce,#01b8ca,#02bac5,#06bcc0,#0ebdbb,#17bfb6,#20c1b1,#27c2ac,#2cc4a7,#30c5a1,#34c79b,#39c895,#3eca8f,#46cb88,#4fcc81,#58cc79,#61cd71,#6bcd69,#75cc61,#80cc59,#8acb51,#95ca49,#9fc942,#a9c73b,#b3c534,#bcc42f,#c5c22a,#cec028,#d6be28,#ddbd29,#e5bb2d,#ecba32,#f2ba38,#f8ba3d,#fcbd3d,#fec03b,#fec437,#fec834)"></i><i style="margin-bottom:-0.5px;height:2.507px;background:linear-gradient(90deg,#16afda,#11b1d6,#0ab4d2,#04b6cd,#01b8c9,#02bac4,#08bcbf,#10beba,#19bfb5,#21c1b0,#28c2ab,#2dc4a6,#31c6a0,#35c79a,#3ac994,#40ca8d,#48cb86,#51cc7f,#5acc78,#63cd70,#6dcd68,#77cc60,#82cc58,#8ccb50,#97ca48,#a1c840,#abc739,#b4c533,#bec32e,#c7c12a,#cfc028,#d7be28,#dfbc2a,#e6bb2d,#edba33,#f3ba39,#f9ba3d,#fdbd3d,#fec13a,#fec537,#fec934)"></i><i style="margin-bottom:-0.5px;height:2.507px;background:linear-gradient(90deg,#15afd9,#10b2d5,#08b4d1,#03b7cc,#01b9c8,#02bbc3,#09bcbe,#12beb9,#1bc0b4,#23c1af,#29c3aa,#2ec4a4,#32c69f,#36c899,#3bc993,#41ca8c,#49cb85,#52cc7e,#5bcc76,#65cd6e,#6fcd66,#79cc5e,#84cc56,#8ecb4e,#98c946,#a3c83f,#acc738,#b6c532,#bfc32d,#c8c129,#d1bf27,#d8be28,#e0bc2a,#e7bb2e,#eeba34,#f4ba39,#f9bb3d,#febd3c,#fec13a,#fec636,#feca33)"></i><i style="margin-bottom:-0.5px;height:2.507px;background:linear-gradient(90deg,#14b0d8,#0eb2d4,#07b5d0,#02b7cb,#01b9c7,#04bbc2,#0abdbd,#14beb8,#1dc0b3,#24c2ae,#2ac3a9,#2fc5a3,#33c69e,#37c898,#3cc991,#43ca8b,#4bcb84,#54cc7c,#5dcc75,#67cd6d,#71cd65,#7bcc5d,#86cb55,#90ca4d,#9ac945,#a4c83e,#aec637,#b8c431,#c1c32c,#cac129,#d2bf27,#dabd28,#e1bc2b,#e8bb2f,#efba35,#f5ba3a,#fabb3d,#febe3c,#fec239,#fec636,#fdcb33)"></i><i style="margin-bottom:-0.5px;height:2.507px;background:linear-gradient(90deg,#13b0d7,#0db3d3,#06b5cf,#01b7ca,#01b9c6,#05bbc1,#0cbdbc,#16bfb7,#1ec0b2,#26c2ad,#2bc3a8,#2fc5a2,#33c79c,#38c896,#3dc990,#44cb89,#4dcb82,#56cc7b,#5fcd73,#69cd6b,#73cd63,#7dcc5b,#88cb53,#92ca4b,#9cc944,#a6c83c,#b0c636,#b9c430,#c2c22c,#cbc129,#d3bf27,#dbbd29,#e3bc2c,#e9bb30,#f0ba36,#f6ba3b,#fbbc3d,#febf3c,#fec338,#fec735,#fdcb33)"></i><i style="margin-bottom:-0.5px;height:2.507px;background:linear-gradient(90deg,#12b1d6,#0bb3d2,#05b6ce,#01b8c9,#02bac5,#06bcc0,#0ebdbb,#18bfb6,#20c1b1,#27c2ac,#2cc4a7,#30c5a1,#34c79b,#39c895,#3eca8f,#46cb88,#4ecc81,#58cc79,#61cd72,#6acd6a,#75cc62,#7fcc5a,#8acb52,#94ca4a,#9ec942,#a8c73b,#b2c635,#bbc42f,#c4c22b,#cdc028,#d5be28,#ddbd29,#e4bb2c,#ebba31,#f1ba37,#f7ba3c,#fcbc3d,#febf3b,#fec338,#fec835,#fdcc32)"></i><i style="margin-bottom:-0.5px;height:2.507px;background:linear-gradient(90deg,#11b2d5,#0ab4d1,#04b6cd,#01b8c8,#02bac4,#08bcbf,#10beba,#19bfb5,#22c1b0,#28c2ab,#2dc4a5,#31c6a0,#35c79a,#3ac994,#40ca8d,#48cb87,#50cc7f,#59cc78,#62cd70,#6ccd68,#77cc60,#81cc58,#8ccb50,#96ca49,#a0c841,#aac73a,#b3c534,#bdc42f,#c6c22a,#cec028,#d6be28,#debd29,#e5bb2d,#ecba32,#f2ba38,#f8ba3d,#fcbd3d,#fec03b,#fec437,#fec834,#fdcd32)"></i><i style="margin-bottom:-0.5px;height:2.507px;background:linear-gradient(90deg,#0fb2d5,#08b4d0,#03b7cc,#01b9c7,#03bbc3,#09bcbe,#12beb9,#1bc0b4,#23c1af,#29c3aa,#2ec4a4,#32c69f,#36c899,#3bc993,#41ca8c,#49cb85,#52cc7e,#5bcc76,#64cd6f,#6ecd66,#79cc5f,#83cc57,#8ecb4f,#98ca47,#a2c840,#acc739,#b5c533,#bec32e,#c7c12a,#d0c028,#d7be28,#dfbc2a,#e6bb2d,#edba33,#f3ba39,#f9bb3d,#fdbd3d,#fec13a,#fec537,#fec934,#fdcd31)"></i><i style="margin-bottom:-0.5px;height:2.507px;background:linear-gradient(90deg,#0eb3d4,#07b5cf,#02b7cb,#01b9c6,#04bbc2,#0bbdbd,#14beb8,#1dc0b3,#25c2ae,#2ac3a9,#2fc5a3,#33c69e,#37c898,#3cc991,#43ca8b,#4bcb84,#54cc7d,#5dcc75,#66cd6d,#70cd65,#7bcc5d,#85cb55,#8fca4d,#9ac946,#a4c83e,#adc638,#b7c532,#c0c32d,#c9c129,#d1bf27,#d9be28,#e0bc2b,#e7bb2e,#eeba34,#f4ba3a,#fabb3d,#febd3c,#fec13a,#fec636,#feca33,#fdce31)"></i><i style="margin-bottom:-0.5px;height:2.507px;background:linear-gradient(90deg,#0cb3d3,#06b5ce,#01b8ca,#01bac5,#05bbc1,#0cbdbc,#16bfb7,#1ec0b2,#26c2ad,#2bc3a8,#2fc5a2,#33c79c,#38c896,#3dc990,#44cb89,#4dcb82,#56cc7b,#5fcd73,#68cd6b,#72cd63,#7dcc5c,#87cb54,#91ca4c,#9bc944,#a5c83d,#afc637,#b9c431,#c2c32c,#cac129,#d2bf27,#dabd28,#e2bc2b,#e9bb2f,#efba35,#f5ba3b,#fabb3d,#febe3c,#fec239,#fec636,#fdcb33,#fccf30)"></i><i style="margin-bottom:-0.5px;height:2.507px;background:linear-gradient(90deg,#0ab4d2,#05b6ce,#01b8c9,#02bac4,#07bcc0,#0ebebb,#18bfb6,#20c1b1,#27c2ac,#2cc4a6,#30c5a1,#34c79b,#39c895,#3eca8f,#46cb88,#4ecc81,#57cc7a,#60cd72,#6acd6a,#74cc62,#7fcc5a,#89cb52,#93ca4a,#9dc943,#a7c73c,#b1c635,#bac430,#c3c22b,#ccc028,#d4bf28,#dcbd29,#e3bc2c,#eabb30,#f0ba36,#f6ba3b,#fbbc3d,#febf3c,#fec338,#fec735,#fdcb33,#fcd030)"></i><i style="margin-bottom:-0.5px;height:2.507px;background:linear-gradient(90deg,#09b4d1,#04b6cd,#01b8c8,#02bac3,#08bcbf,#10beba,#1abfb5,#22c1b0,#28c3ab,#2dc4a5,#31c6a0,#35c79a,#3ac994,#40ca8d,#47cb87,#50cc80,#59cc78,#62cd70,#6ccd68,#76cc60,#81cc59,#8bcb51,#95ca49,#9fc941,#a9c73a,#b3c534,#bcc42f,#c5c22a,#cdc028,#d5be28,#ddbd29,#e4bb2c,#ebba31,#f1ba37,#f7ba3c,#fcbc3d,#febf3b,#fec338,#fec835,#fdcc32,#fcd030)"></i><i style="margin-bottom:-0.5px;height:2.507px;background:linear-gradient(90deg,#07b5d0,#03b7cc,#01b9c7,#03bbc2,#0abdbe,#12beb9,#1bc0b4,#23c1af,#29c3aa,#2ec4a4,#32c69f,#36c899,#3bc993,#41ca8c,#49cb85,#52cc7e,#5bcc77,#64cd6f,#6ecd67,#78cc5f,#83cc57,#8dcb4f,#97ca48,#a1c840,#abc739,#b4c533,#bdc32e,#c6c22a,#cfc028,#d7be28,#debc2a,#e5bb2d,#ecba32,#f2ba38,#f8ba3d,#fcbd3d,#fec03b,#fec437,#fec834,#fdcd32,#fcd12f)"></i><i style="margin-bottom:-0.5px;height:2.507px;background:linear-gradient(90deg,#06b5cf,#02b7cb,#01b9c6,#04bbc1,#0bbdbd,#14bfb8,#1dc0b3,#25c2ae,#2ac3a9,#2fc5a3,#33c69e,#37c898,#3cc991,#43ca8b,#4bcb84,#54cc7d,#5dcc75,#66cd6d,#70cd65,#7acc5d,#85cb56,#8fcb4e,#99c946,#a3c83f,#adc638,#b6c532,#bfc32d,#c8c129,#d0bf27,#d8be28,#e0bc2a,#e7bb2e,#edba33,#f3ba39,#f9bb3d,#fdbd3d,#fec13a,#fec537,#fec934,#fdcd31,#fbd22f)"></i><i style="margin-bottom:-0.5px;height:2.507px;background:linear-gradient(90deg,#05b6ce,#01b8ca,#01bac5,#06bcc0,#0dbdbc,#16bfb7,#1fc0b2,#26c2ad,#2bc3a7,#30c5a2,#34c79c,#38c896,#3dc990,#44cb89,#4ccb82,#55cc7b,#5ecd74,#68cd6c,#72cd64,#7ccc5c,#87cb54,#91ca4c,#9bc945,#a5c83d,#aec637,#b8c431,#c1c32c,#c9c129,#d2bf27,#d9bd28,#e1bc2b,#e8bb2f,#eeba34,#f4ba3a,#fabb3d,#febd3c,#fec139,#fec636,#feca33,#fdce31,#fbd32f)"></i><i style="margin-bottom:-0.5px;height:2.507px;background:linear-gradient(90deg,#04b6cd,#01b8c9,#02bac4,#07bcbf,#0fbebb,#18bfb6,#20c1b1,#27c2ac,#2cc4a6,#30c5a1,#34c79b,#39c895,#3eca8f,#46cb88,#4ecc81,#57cc7a,#60cd72,#6acd6a,#74cd62,#7ecc5a,#89cb53,#93ca4b,#9dc943,#a7c73c,#b0c636,#b9c430,#c2c22c,#cbc129,#d3bf27,#dbbd29,#e2bc2b,#e9bb30,#efba35,#f5ba3b,#fabb3d,#febe3c,#fec239,#fec636,#fdcb33,#fccf30,#fbd32e)"></i><i style="margin-bottom:-0.5px;height:2.507px;background:linear-gradient(90deg,#03b7cc,#01b9c8,#02bbc3,#09bcbe,#11beb9,#1ac0b5,#22c1b0,#28c3aa,#2dc4a5,#31c6a0,#35c79a,#3ac994,#40ca8d,#47cb87,#50cc80,#59cc78,#62cd70,#6ccd69,#76cc61,#80cc59,#8bcb51,#95ca49,#9fc942,#a8c73b,#b2c635,#bbc42f,#c4c22b,#ccc028,#d4be28,#dcbd29,#e3bb2c,#eaba31,#f0ba36,#f6ba3c,#fbbc3d,#febf3b,#fec338,#fec735,#fdcb33,#fcd030,#fad42e)"></i><i style="margin-bottom:-0.5px;height:2.507px;background:linear-gradient(90deg,#02b7cb,#01b9c7,#03bbc2,#0abdbd,#13beb8,#1cc0b3,#24c1af,#29c3a9,#2ec4a4,#32c69f,#36c899,#3bc992,#41ca8c,#49cb85,#52cc7e,#5bcc77,#64cd6f,#6ecd67,#78cc5f,#82cc57,#8dcb50,#97ca48,#a0c840,#aac73a,#b4c534,#bdc32f,#c6c22a,#cec028,#d6be28,#debd29,#e5bb2c,#ebba32,#f2ba37,#f8ba3d,#fcbc3d,#fec03b,#fec438,#fec835,#fdcc32,#fcd030,#fad52d)"></i><i style="margin-bottom:-0.5px;height:2.507px;background:linear-gradient(90deg,#01b7ca,#01b9c6,#05bbc1,#0cbdbc,#15bfb7,#1ec0b2,#25c2ad,#2bc3a8,#2fc5a3,#33c69d,#37c898,#3cc991,#43ca8b,#4bcb84,#54cc7d,#5dcc75,#66cd6d,#70cd65,#7acc5e,#84cb56,#8ecb4e,#98c946,#a2c83f,#acc738,#b5c533,#bec32e,#c7c12a,#cfc028,#d7be28,#dfbc2a,#e6bb2d,#ecba33,#f3ba38,#f8ba3d,#fcbd3d,#fec03a,#fec437,#fec834,#fdcd32,#fcd12f,#fad62d)"></i><i style="margin-bottom:-0.5px;height:2.507px;background:linear-gradient(90deg,#01b8c9,#02bac5,#06bcc0,#0ebdbb,#17bfb6,#1fc1b1,#26c2ac,#2cc4a7,#30c5a2,#34c79c,#38c896,#3dca90,#44cb89,#4ccb82,#55cc7b,#5ecd74,#68cd6c,#71cd64,#7ccc5c,#86cb54,#90ca4d,#9ac945,#a4c83e,#aec637,#b7c532,#c0c32d,#c9c129,#d1bf27,#d9be28,#e0bc2a,#e7bb2e,#eeba34,#f4ba39,#f9bb3d,#fdbd3d,#fec13a,#fec537,#fec934,#fdce31,#fbd22f,#f9d62d)"></i><i style="margin-bottom:-0.5px;height:2.507px;background:linear-gradient(90deg,#01b8c8,#02bac4,#08bcbf,#10beba,#19bfb5,#21c1b0,#27c2ab,#2dc4a6,#30c5a1,#34c79b,#39c895,#3eca8f,#46cb88,#4ecc81,#57cc7a,#60cd72,#6acd6a,#73cd62,#7ecc5b,#88cb53,#92ca4b,#9cc943,#a6c83d,#b0c636,#b9c431,#c2c22c,#cac129,#d2bf27,#dabd28,#e1bc2b,#e8bb2f,#efba35,#f5ba3a,#fabb3d,#febe3c,#fec239,#fec636,#feca33,#fdce31,#fbd32f,#f9d72c)"></i><i style="margin-bottom:-0.5px;height:2.507px;background:linear-gradient(90deg,#01b9c7,#03bbc3,#09bcbe,#12beb9,#1bc0b4,#23c1af,#29c3aa,#2dc4a5,#31c6a0,#35c79a,#3ac994,#40ca8d,#48cb86,#50cc80,#59cc78,#62cd71,#6ccd69,#76cc61,#80cc59,#8acb51,#94ca4a,#9ec942,#a8c73b,#b1c635,#bbc430,#c3c22b,#ccc028,#d4bf28,#dcbd29,#e3bc2c,#e9bb30,#f0ba36,#f6ba3b,#fbbc3d,#febe3c,#fec239,#fec636,#fdcb33,#fccf30,#fbd32e,#f9d82c)"></i><i style="margin-bottom:-0.5px;height:2.507px;background:linear-gradient(90deg,#01b9c6,#04bbc2,#0bbdbd,#14beb8,#1cc0b3,#24c1ae,#2ac3a9,#2ec5a4,#32c69e,#36c899,#3bc992,#41ca8c,#49cb85,#52cc7e,#5bcc77,#64cd6f,#6dcd67,#78cc5f,#82cc58,#8ccb50,#96ca48,#a0c841,#aac73a,#b3c534,#bcc42f,#c5c22a,#cdc028,#d5be28,#ddbd29,#e4bb2c,#ebba31,#f1ba37,#f7ba3c,#fbbc3d,#febf3b,#fec338,#fec735,#fdcb32,#fcd030,#fad42e,#f8d92c)"></i><i style="margin-bottom:-0.5px;height:2.507px;background:linear-gradient(90deg,#01bac5,#05bbc1,#0cbdbc,#16bfb7,#1ec0b2,#25c2ad,#2bc3a8,#2fc5a3,#33c69d,#37c897,#3cc991,#43ca8a,#4bcb84,#54cc7d,#5dcc75,#66cd6d,#6fcd65,#7acc5e,#84cc56,#8ecb4e,#98c947,#a2c83f,#acc739,#b5c533,#bec32e,#c7c12a,#cfc028,#d7be28,#debc2a,#e5bb2d,#ecba32,#f2ba38,#f8ba3d,#fcbc3d,#fec03b,#fec438,#fec835,#fdcc32,#fcd030,#fad52d,#f8d92b)"></i><i style="margin-bottom:-0.5px;height:2.507px;background:linear-gradient(90deg,#02bac4,#07bcc0,#0ebebb,#18bfb6,#20c1b1,#27c2ac,#2cc4a7,#30c5a2,#34c79c,#38c896,#3dca90,#45cb89,#4dcb82,#56cc7b,#5ecd74,#68cd6c,#71cd64,#7ccc5c,#86cb55,#90ca4d,#9ac945,#a4c83e,#adc638,#b7c532,#c0c32d,#c8c129,#d0bf27,#d8be28,#dfbc2a,#e7bb2d,#edba33,#f3ba39,#f9ba3d,#fdbd3d,#fec03a,#fec437,#fec934,#fdcd32,#fbd12f,#fad62d,#f8da2b)"></i><i style="margin-bottom:-0.5px;height:2.507px;background:linear-gradient(90deg,#02bac3,#08bcbf,#10beba,#1abfb5,#21c1b0,#28c2ab,#2dc4a6,#31c6a0,#35c79b,#39c895,#3fca8e,#46cb88,#4ecc81,#57cc7a,#60cd72,#6acd6a,#73cd62,#7ecc5b,#88cb53,#92ca4b,#9cc944,#a6c83d,#afc636,#b8c431,#c1c32c,#cac129,#d2bf27,#dabd28,#e1bc2b,#e8bb2e,#eeba34,#f4ba3a,#f9bb3d,#fdbd3d,#fec13a,#fec537,#fec934,#fdce31,#fbd22f,#f9d62d,#f7db2b)"></i><i style="margin-bottom:-0.5px;height:2.007px;background:linear-gradient(90deg,#03bbc2,#0abdbe,#12beb9,#1bc0b4,#23c1af,#29c3aa,#2ec4a5,#32c69f,#35c799,#3ac993,#40ca8d,#48cb86,#50cc7f,#59cc78,#62cd70,#6ccd69,#76cc61,#80cc59,#8acb52,#94ca4a,#9ec942,#a8c73b,#b1c635,#bac430,#c3c22b,#cbc029,#d3bf27,#dbbd29,#e2bc2b,#e9bb30,#efba35,#f5ba3b,#fabb3d,#febe3c,#fec239,#fec636,#feca33,#fdce31,#fbd32f,#f9d72c,#f7dc2a)"></i></div>
<div class="b" style="left:401.0px;top:199.0px;width:139.3px;height:138.5px"></div>
<div class="t" style="left:401.0px;top:186.6px;width:139.3px">Benson</div>
<div class="l" style="left:406.6px;top:264.8px">Rearfoot strike</div>
<div class="l" style="left:406.6px;top:290.4px">Midfoot strike</div>
<div class="l" style="left:406.6px;top:316.0px">Forefoot strike</div>
<svg width="550" height="428" viewBox="0 0 550 428"><line x1="42.0" x2="181.5" y1="99.5" y2="99.5" stroke="#fff" stroke-opacity="0.85" stroke-width="0.8" stroke-dasharray="2 2.6"/><line x1="42.0" x2="181.5" y1="122.7" y2="122.7" stroke="#fff" stroke-opacity="0.85" stroke-width="0.8" stroke-dasharray="2 2.6"/><line x1="220.0" x2="359.3" y1="100.0" y2="100.0" stroke="#fff" stroke-opacity="0.85" stroke-width="0.8" stroke-dasharray="2 2.6"/><line x1="220.0" x2="359.3" y1="123.2" y2="123.2" stroke="#fff" stroke-opacity="0.85" stroke-width="0.8" stroke-dasharray="2 2.6"/><line x1="401.0" x2="540.4" y1="99.2" y2="99.2" stroke="#fff" stroke-opacity="0.85" stroke-width="0.8" stroke-dasharray="2 2.6"/><line x1="401.0" x2="540.4" y1="122.4" y2="122.4" stroke="#fff" stroke-opacity="0.85" stroke-width="0.8" stroke-dasharray="2 2.6"/><line x1="42.0" x2="181.6" y1="284.0" y2="284.0" stroke="#fff" stroke-opacity="0.85" stroke-width="0.8" stroke-dasharray="2 2.6"/><line x1="42.0" x2="181.6" y1="307.2" y2="307.2" stroke="#fff" stroke-opacity="0.85" stroke-width="0.8" stroke-dasharray="2 2.6"/><line x1="220.0" x2="359.2" y1="284.2" y2="284.2" stroke="#222" stroke-opacity="0.90" stroke-width="0.6" stroke-dasharray="1.4 0.9"/><line x1="220.0" x2="359.2" y1="307.4" y2="307.4" stroke="#222" stroke-opacity="0.90" stroke-width="0.6" stroke-dasharray="1.4 0.9"/><line x1="401.0" x2="540.3" y1="284.0" y2="284.0" stroke="#fff" stroke-opacity="0.85" stroke-width="0.8" stroke-dasharray="2 2.6"/><line x1="401.0" x2="540.3" y1="307.2" y2="307.2" stroke="#fff" stroke-opacity="0.85" stroke-width="0.8" stroke-dasharray="2 2.6"/></svg>
<div class="k r" style="left:-1.0px;top:10.8px">0.75</div>
<div class="k r" style="left:-1.0px;top:79.8px">0.25</div>
<div class="k r" style="left:-1.0px;top:148.6px">-0.25</div>
<div class="ax" style="left:-52.1px;top:77.8px;width:120px;transform:rotate(-90deg);transform-origin:center center">Foot strike angle (rad)</div>
<div class="k r" style="left:-1.0px;top:196.1px">0.75</div>
<div class="k r" style="left:-1.0px;top:265.1px">0.25</div>
<div class="k r" style="left:-1.0px;top:334.1px">-0.25</div>
<div class="ax" style="left:-52.1px;top:262.2px;width:120px;transform:rotate(-90deg);transform-origin:center center">Foot strike angle (rad)</div>
<div class="k c" style="left:27.8px;top:342.6px">2.5</div>
<div class="k c" style="left:96.8px;top:342.6px">5</div>
<div class="k c" style="left:166.0px;top:342.6px">7.5</div>
<div class="ax" style="left:42.0px;top:354.3px;width:139.6px">Speed (m/s)</div>
<div class="k c" style="left:205.8px;top:343.4px">2.5</div>
<div class="k c" style="left:274.6px;top:343.4px">5</div>
<div class="k c" style="left:343.6px;top:343.4px">7.5</div>
<div class="ax" style="left:220.0px;top:355.1px;width:139.2px">Speed (m/s)</div>
<div class="k c" style="left:386.8px;top:342.6px">2.5</div>
<div class="k c" style="left:455.6px;top:342.6px">5</div>
<div class="k c" style="left:524.7px;top:342.6px">7.5</div>
<div class="ax" style="left:401.0px;top:354.9px;width:139.3px">Speed (m/s)</div>
<div class="p" style="left:218.9px;top:383.1px;width:137.6px;height:13.8px;background:linear-gradient(90deg,#3e26a8 0.00%,#402ab4 1.59%,#422ec0 3.17%,#4332cb 4.76%,#4537d5 6.35%,#463cde 7.94%,#4741e5 9.52%,#4747eb 11.11%,#484df0 12.70%,#4852f4 14.29%,#4758f8 15.87%,#465efb 17.46%,#4563fd 19.05%,#4269fe 20.63%,#3e6fff 22.22%,#3875fe 23.81%,#327cfc 25.40%,#2f81fa 26.98%,#2e87f7 28.57%,#2d8cf3 30.16%,#2b91ef 31.75%,#2797eb 33.33%,#259be8 34.92%,#23a0e5 36.51%,#20a5e3 38.10%,#1ca9df 39.68%,#18addb 41.27%,#12b1d6 42.86%,#08b5d0 44.44%,#01b8ca 46.03%,#02bac3 47.62%,#0bbdbd 49.21%,#19bfb6 50.79%,#24c1ae 52.38%,#2cc4a7 53.97%,#31c69f 55.56%,#37c897 57.14%,#3fca8e 58.73%,#4acb84 60.32%,#57cc7a 61.90%,#64cd6f 63.49%,#72cd64 65.08%,#81cc59 66.67%,#8fcb4e 68.25%,#9dc943 69.84%,#abc739 71.43%,#b9c431 73.02%,#c5c22a 74.60%,#d1bf27 76.19%,#dcbd29 77.78%,#e6bb2d 79.37%,#f0ba36 80.95%,#f8ba3d 82.54%,#febe3c 84.13%,#fec338 85.71%,#fec934 87.30%,#fccf30 88.89%,#fad62d 90.48%,#f7dc2a 92.06%,#f5e327 93.65%,#f5e924 95.24%,#f6ef20 96.83%,#f7f51b 98.41%,#f9fb15 100.00%)"></div>
<div class="b" style="left:218.9px;top:383.1px;width:137.6px;height:13.8px"></div>
<div class="k c" style="font-size:9px;left:204.3px;top:400.8px">0</div>
<div class="k c" style="font-size:9px;left:227.4px;top:400.8px">10</div>
<div class="k c" style="font-size:9px;left:255.4px;top:400.8px">20</div>
<div class="k c" style="font-size:9px;left:283.2px;top:400.8px">30</div>
<div class="k c" style="font-size:9px;left:311.2px;top:400.8px">40</div>
<div class="k c" style="font-size:9px;left:339.6px;top:400.8px">50</div>
<div class="ax" style="font-size:8.75px;left:218.4px;top:413.4px;width:137.6px">MAE (ms)</div>
<svg width="550" height="428" viewBox="0 0 550 428"><line x1="246.4" x2="246.4" y1="395.3" y2="396.9" stroke="#222" stroke-opacity="0.7" stroke-width="0.7"/><line x1="273.9" x2="273.9" y1="395.3" y2="396.9" stroke="#222" stroke-opacity="0.7" stroke-width="0.7"/><line x1="301.5" x2="301.5" y1="395.3" y2="396.9" stroke="#222" stroke-opacity="0.7" stroke-width="0.7"/><line x1="329.0" x2="329.0" y1="395.3" y2="396.9" stroke="#222" stroke-opacity="0.7" stroke-width="0.7"/></svg>
</body></html>
